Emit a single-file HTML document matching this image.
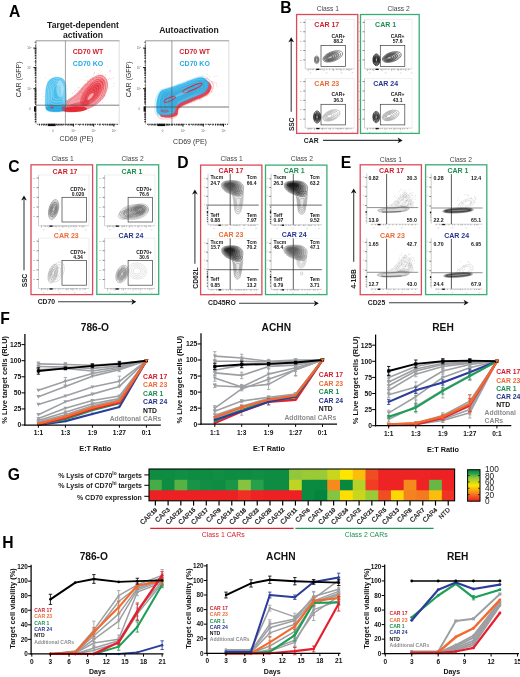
<!DOCTYPE html>
<html lang="en">
<head>
<meta charset="utf-8">
<title>Figure</title>
<style>
html,body{margin:0;padding:0;background:#fff;}
body{width:520px;height:677px;overflow:hidden;}
svg{display:block;font-family:"Liberation Sans",sans-serif;}
</style>
</head>
<body>
<svg width="520" height="677" viewBox="0 0 520 677">
<rect x="0" y="0" width="520" height="677" fill="#ffffff"/>
<g id="panelA">
<text x="14.70" y="17.10" font-size="15.7" font-weight="bold" fill="#000" text-anchor="middle">A</text>
<text x="83.00" y="27.60" font-size="8.6" font-weight="bold" fill="#1a1a1a" text-anchor="middle">Target-dependent</text>
<text x="83.00" y="37.60" font-size="8.6" font-weight="bold" fill="#1a1a1a" text-anchor="middle">activation</text>
<text x="189.00" y="32.60" font-size="8.6" font-weight="bold" fill="#1a1a1a" text-anchor="middle">Autoactivation</text>
<line x1="35.70" y1="40.80" x2="119.50" y2="40.80" stroke="#777" stroke-width="0.75"/>
<line x1="36.00" y1="40.80" x2="36.00" y2="124.40" stroke="#888" stroke-width="0.6"/>
<line x1="119.20" y1="40.80" x2="119.20" y2="124.40" stroke="#bbb" stroke-width="0.5"/>
<rect x="34.00" y="106.40" width="2.2" height="5.2" fill="#111"/>
<path d="M33.40 48.10H36.30M33.40 67.60H36.30M33.40 88.70H36.30" stroke="#111" stroke-width="1.0" fill="none"/>
<path d="M34.60 42.23H36.30M34.60 61.73H36.30M34.60 58.30H36.30M34.60 55.86H36.30M34.60 53.97H36.30M34.60 52.43H36.30M34.60 51.12H36.30M34.60 49.99H36.30M34.60 48.99H36.30M34.60 81.23H36.30M34.60 77.80H36.30M34.60 75.36H36.30M34.60 73.47H36.30M34.60 71.93H36.30M34.60 70.62H36.30M34.60 69.49H36.30M34.60 68.49H36.30M34.60 98.90H36.30M34.60 96.46H36.30M34.60 94.57H36.30M34.60 93.03H36.30M34.60 91.72H36.30M34.60 90.59H36.30M34.60 89.59H36.30M34.60 90.90H36.30M34.60 93.30H36.30M34.60 95.30H36.30M34.60 97.00H36.30M34.60 98.50H36.30M34.60 99.80H36.30M34.60 101.00H36.30M34.60 102.10H36.30M34.60 103.10H36.30M34.60 113.20H36.30M34.60 114.40H36.30M34.60 115.80H36.30M34.60 117.50H36.30M34.60 119.50H36.30M34.60 121.90H36.30" stroke="#111" stroke-width="0.7" fill="none"/>
<rect x="47.70" y="123.70" width="8.0" height="2.4" fill="#111"/>
<path d="M73.40 123.80V126.60M93.70 123.80V126.60M113.90 123.80V126.60" stroke="#111" stroke-width="1.0" fill="none"/>
<path d="M62.84 123.80V125.70M65.36 123.80V125.70M67.32 123.80V125.70M68.92 123.80V125.70M70.27 123.80V125.70M71.44 123.80V125.70M72.48 123.80V125.70M79.58 123.80V125.70M83.14 123.80V125.70M85.66 123.80V125.70M87.62 123.80V125.70M89.22 123.80V125.70M90.57 123.80V125.70M91.74 123.80V125.70M92.78 123.80V125.70M99.78 123.80V125.70M103.34 123.80V125.70M105.86 123.80V125.70M107.82 123.80V125.70M109.42 123.80V125.70M110.77 123.80V125.70M111.94 123.80V125.70M112.98 123.80V125.70M56.90 123.80V125.70M57.90 123.80V125.70M59.00 123.80V125.70M60.30 123.80V125.70M61.90 123.80V125.70M46.30 123.80V125.70M45.10 123.80V125.70M43.60 123.80V125.70M41.70 123.80V125.70M39.30 123.80V125.70" stroke="#111" stroke-width="0.7" fill="none"/>
<line x1="37.50" y1="124.40" x2="118.20" y2="124.40" stroke="#111" stroke-width="1.1" stroke-dasharray="0.7 1.0"/>
<line x1="35.60" y1="44.80" x2="35.60" y2="121.90" stroke="#111" stroke-width="1.1" stroke-dasharray="0.7 1.0"/>
<text x="31.40" y="49.10" font-size="2.8" fill="#666" text-anchor="end">10<tspan font-size="2" dy="-1.2">5</tspan></text>
<text x="31.40" y="68.60" font-size="2.8" fill="#666" text-anchor="end">10<tspan font-size="2" dy="-1.2">4</tspan></text>
<text x="31.40" y="89.70" font-size="2.8" fill="#666" text-anchor="end">10<tspan font-size="2" dy="-1.2">3</tspan></text>
<text x="29.80" y="110.31" font-size="2.8" fill="#666" text-anchor="middle">0</text>
<text x="52.90" y="131.81" font-size="2.8" fill="#666" text-anchor="middle">0</text>
<text x="73.40" y="131.80" font-size="2.8" fill="#666" text-anchor="middle">10<tspan font-size="2" dy="-1.2">3</tspan></text>
<text x="93.70" y="131.80" font-size="2.8" fill="#666" text-anchor="middle">10<tspan font-size="2" dy="-1.2">4</tspan></text>
<text x="113.90" y="131.80" font-size="2.8" fill="#666" text-anchor="middle">10<tspan font-size="2" dy="-1.2">5</tspan></text>
<path d="M93.3 96.7h.01M106.6 82.1h.01M104.1 82.7h.01M90.4 94.3h.01M84.5 105.0h.01M104.6 96.0h.01M77.9 98.4h.01M109.3 78.3h.01M98.7 89.0h.01M92.3 83.1h.01M81.5 92.5h.01M97.2 87.4h.01M83.4 89.3h.01M80.9 96.2h.01M89.8 79.7h.01M76.3 99.5h.01M85.5 85.4h.01M106.8 85.4h.01M102.9 88.7h.01M77.9 90.3h.01M96.5 78.5h.01M78.3 96.8h.01M94.3 73.4h.01M88.4 90.2h.01M72.5 93.4h.01M96.6 98.6h.01M103.8 80.8h.01M98.2 88.2h.01M101.9 87.6h.01M94.4 84.8h.01M72.2 104.7h.01M95.2 80.6h.01M88.8 110.7h.01M99.6 89.1h.01M101.1 95.5h.01M93.5 90.7h.01M88.5 106.9h.01M81.6 88.2h.01M88.6 89.8h.01M86.7 76.8h.01M89.0 100.2h.01M89.2 90.9h.01M98.1 91.7h.01M93.3 89.8h.01M102.4 86.0h.01M96.7 77.4h.01M98.1 95.4h.01M114.3 83.4h.01M84.5 100.8h.01M103.3 85.6h.01M93.0 84.7h.01M101.4 78.1h.01M89.8 92.4h.01M109.1 71.3h.01M97.2 95.5h.01M87.3 80.4h.01M93.0 98.9h.01M110.2 70.9h.01M92.0 78.0h.01M84.3 97.7h.01M101.9 82.7h.01M78.7 87.5h.01M107.8 66.5h.01M91.2 97.7h.01M100.0 91.5h.01M100.8 72.2h.01M80.1 91.6h.01M74.5 91.4h.01M87.4 84.4h.01M89.8 81.3h.01M102.3 78.7h.01M102.7 75.8h.01M101.6 87.5h.01M91.8 83.5h.01M105.2 76.0h.01M87.5 93.9h.01M105.6 74.7h.01M102.3 74.9h.01M92.9 83.3h.01M95.3 97.0h.01M97.5 95.7h.01M98.6 78.5h.01M74.8 99.5h.01M100.5 75.8h.01M90.5 92.1h.01M94.1 90.1h.01M105.5 90.1h.01M81.7 97.5h.01M78.7 99.6h.01M84.2 95.7h.01M87.9 81.4h.01M85.3 80.2h.01M79.2 95.1h.01M82.8 88.2h.01M76.2 109.5h.01M98.1 73.5h.01M71.1 104.2h.01M99.3 88.6h.01M100.9 85.4h.01M75.7 90.2h.01M108.9 88.1h.01M113.6 86.1h.01M104.7 95.5h.01M74.1 110.6h.01M104.4 89.2h.01M92.5 97.0h.01M91.2 89.1h.01M91.4 92.4h.01M82.0 93.3h.01M110.6 70.5h.01M101.0 86.7h.01M90.3 84.6h.01M81.1 111.5h.01M96.9 94.7h.01M79.4 98.0h.01M108.7 79.6h.01M113.3 78.2h.01M91.9 85.2h.01M110.9 79.0h.01M91.9 105.2h.01M95.7 94.1h.01M96.0 92.3h.01M101.0 84.4h.01M95.4 101.7h.01M86.2 96.8h.01M100.2 83.6h.01M85.8 85.2h.01M80.5 104.9h.01M92.2 79.6h.01M93.4 79.3h.01M78.8 88.1h.01M93.4 75.0h.01M88.7 99.3h.01M98.5 88.5h.01M95.9 93.3h.01M94.5 72.6h.01M95.6 95.7h.01M87.4 97.4h.01M102.4 102.8h.01M81.5 98.3h.01" stroke="#e5202e" stroke-width="0.44" stroke-linecap="round" fill="none" opacity="0.6"/>
<path d="M62.50 108.50C62.92 106.95 64.42 103.33 66.00 101.50C67.58 99.67 70.00 99.00 72.00 97.50C74.00 96.00 76.00 94.50 78.00 92.50C80.00 90.50 82.00 87.62 84.00 85.50C86.00 83.38 88.00 81.35 90.00 79.80C92.00 78.25 94.17 76.97 96.00 76.20C97.83 75.43 99.42 74.90 101.00 75.20C102.58 75.50 104.40 76.53 105.50 78.00C106.60 79.47 107.42 81.92 107.60 84.00C107.78 86.08 107.28 88.25 106.60 90.50C105.92 92.75 104.93 95.42 103.50 97.50C102.07 99.58 99.92 101.42 98.00 103.00C96.08 104.58 94.33 105.83 92.00 107.00C89.67 108.17 86.67 109.23 84.00 110.00C81.33 110.77 78.67 111.30 76.00 111.60C73.33 111.90 70.08 111.93 68.00 111.80C65.92 111.67 64.42 111.35 63.50 110.80C62.58 110.25 62.08 110.05 62.50 108.50Z" fill="#e5202e" stroke="#e5202e" stroke-width="0.3" opacity="0.42"/>
<path d="M62.50 108.50C62.92 106.95 64.42 103.33 66.00 101.50C67.58 99.67 70.00 99.00 72.00 97.50C74.00 96.00 76.00 94.50 78.00 92.50C80.00 90.50 82.00 87.62 84.00 85.50C86.00 83.38 88.00 81.35 90.00 79.80C92.00 78.25 94.17 76.97 96.00 76.20C97.83 75.43 99.42 74.90 101.00 75.20C102.58 75.50 104.40 76.53 105.50 78.00C106.60 79.47 107.42 81.92 107.60 84.00C107.78 86.08 107.28 88.25 106.60 90.50C105.92 92.75 104.93 95.42 103.50 97.50C102.07 99.58 99.92 101.42 98.00 103.00C96.08 104.58 94.33 105.83 92.00 107.00C89.67 108.17 86.67 109.23 84.00 110.00C81.33 110.77 78.67 111.30 76.00 111.60C73.33 111.90 70.08 111.93 68.00 111.80C65.92 111.67 64.42 111.35 63.50 110.80C62.58 110.25 62.08 110.05 62.50 108.50Z" fill="none" stroke="#e5202e" stroke-width="0.35" opacity="0.9"/>
<path d="M65.05 107.35C65.42 105.95 66.78 102.70 68.20 101.05C69.62 99.40 71.80 98.80 73.60 97.45C75.40 96.10 77.20 94.75 79.00 92.95C80.80 91.15 82.60 88.56 84.40 86.65C86.20 84.75 88.00 82.91 89.80 81.52C91.60 80.12 93.55 78.97 95.20 78.28C96.85 77.59 98.28 77.11 99.70 77.38C101.12 77.65 102.76 78.58 103.75 79.90C104.74 81.22 105.47 83.42 105.64 85.30C105.81 87.17 105.35 89.12 104.74 91.15C104.12 93.18 103.24 95.58 101.95 97.45C100.66 99.33 98.72 100.98 97.00 102.40C95.28 103.83 93.70 104.95 91.60 106.00C89.50 107.05 86.80 108.01 84.40 108.70C82.00 109.39 79.60 109.87 77.20 110.14C74.80 110.41 71.88 110.44 70.00 110.32C68.12 110.20 66.78 109.92 65.95 109.42C65.12 108.92 64.67 108.74 65.05 107.35Z" fill="none" stroke="#e5202e" stroke-width="0.35" opacity="0.9"/>
<path d="M67.60 106.20C67.93 104.96 69.13 102.07 70.40 100.60C71.67 99.13 73.60 98.60 75.20 97.40C76.80 96.20 78.40 95.00 80.00 93.40C81.60 91.80 83.20 89.49 84.80 87.80C86.40 86.11 88.00 84.48 89.60 83.24C91.20 82.00 92.93 80.97 94.40 80.36C95.87 79.75 97.13 79.32 98.40 79.56C99.67 79.80 101.12 80.63 102.00 81.80C102.88 82.97 103.53 84.93 103.68 86.60C103.83 88.27 103.43 90.00 102.88 91.80C102.33 93.60 101.55 95.73 100.40 97.40C99.25 99.07 97.53 100.53 96.00 101.80C94.47 103.07 93.07 104.07 91.20 105.00C89.33 105.93 86.93 106.79 84.80 107.40C82.67 108.01 80.53 108.44 78.40 108.68C76.27 108.92 73.67 108.95 72.00 108.84C70.33 108.73 69.13 108.48 68.40 108.04C67.67 107.60 67.27 107.44 67.60 106.20Z" fill="none" stroke="#e5202e" stroke-width="0.35" opacity="0.9"/>
<ellipse cx="92.50" cy="92.50" rx="16.50" ry="7.60" transform="rotate(-50 92.50 92.50)" fill="#e5202e" stroke="#e5202e" stroke-width="0.4" opacity="0.55"/>
<ellipse cx="92.30" cy="92.75" rx="14.14" ry="6.51" transform="rotate(-50 92.30 92.75)" fill="none" stroke="#e5202e" stroke-width="0.4" opacity="0.9"/>
<ellipse cx="92.10" cy="93.00" rx="11.79" ry="5.43" transform="rotate(-50 92.10 93.00)" fill="#e5202e" stroke="#e5202e" stroke-width="0.4" opacity="0.55"/>
<ellipse cx="91.90" cy="93.25" rx="9.43" ry="4.34" transform="rotate(-50 91.90 93.25)" fill="none" stroke="#e5202e" stroke-width="0.4" opacity="0.9"/>
<ellipse cx="91.70" cy="93.50" rx="7.07" ry="3.26" transform="rotate(-50 91.70 93.50)" fill="none" stroke="#e5202e" stroke-width="0.4" opacity="0.9"/>
<ellipse cx="91.50" cy="93.75" rx="4.71" ry="2.17" transform="rotate(-50 91.50 93.75)" fill="none" stroke="#e5202e" stroke-width="0.4" opacity="0.9"/>
<ellipse cx="92.50" cy="92.50" rx="15.32" ry="7.06" transform="rotate(-50 92.50 92.50)" fill="none" stroke="#fff" stroke-width="0.3" opacity="0.55"/>
<ellipse cx="92.30" cy="92.75" rx="12.96" ry="5.97" transform="rotate(-50 92.30 92.75)" fill="none" stroke="#fff" stroke-width="0.3" opacity="0.55"/>
<ellipse cx="92.10" cy="93.00" rx="10.61" ry="4.89" transform="rotate(-50 92.10 93.00)" fill="none" stroke="#fff" stroke-width="0.3" opacity="0.55"/>
<ellipse cx="91.90" cy="93.25" rx="8.25" ry="3.80" transform="rotate(-50 91.90 93.25)" fill="none" stroke="#fff" stroke-width="0.3" opacity="0.55"/>
<ellipse cx="91.70" cy="93.50" rx="5.89" ry="2.71" transform="rotate(-50 91.70 93.50)" fill="none" stroke="#fff" stroke-width="0.3" opacity="0.55"/>
<ellipse cx="91.50" cy="93.75" rx="3.54" ry="1.63" transform="rotate(-50 91.50 93.75)" fill="none" stroke="#fff" stroke-width="0.3" opacity="0.55"/>
<path d="M63.78 107.92C64.17 106.45 65.60 103.02 67.10 101.28C68.60 99.53 70.90 98.90 72.80 97.47C74.70 96.05 76.60 94.62 78.50 92.72C80.40 90.82 82.30 88.09 84.20 86.08C86.10 84.06 88.00 82.13 89.90 80.66C91.80 79.19 93.86 77.97 95.60 77.24C97.34 76.51 98.85 76.01 100.35 76.29C101.85 76.58 103.58 77.56 104.62 78.95C105.67 80.34 106.45 82.67 106.62 84.65C106.79 86.63 106.32 88.69 105.67 90.83C105.02 92.96 104.09 95.50 102.72 97.47C101.36 99.45 99.32 101.20 97.50 102.70C95.68 104.20 94.02 105.39 91.80 106.50C89.58 107.61 86.73 108.62 84.20 109.35C81.67 110.08 79.13 110.58 76.60 110.87C74.07 111.15 70.98 111.19 69.00 111.06C67.02 110.93 65.60 110.63 64.72 110.11C63.85 109.59 63.38 109.40 63.78 107.92Z" fill="none" stroke="#fff" stroke-width="0.3" opacity="0.5"/>
<path d="M66.33 106.78C66.68 105.46 67.95 102.38 69.30 100.83C70.65 99.27 72.70 98.70 74.40 97.42C76.10 96.15 77.80 94.88 79.50 93.17C81.20 91.47 82.90 89.02 84.60 87.22C86.30 85.43 88.00 83.70 89.70 82.38C91.40 81.06 93.24 79.97 94.80 79.32C96.36 78.67 97.70 78.22 99.05 78.47C100.40 78.72 101.94 79.60 102.88 80.85C103.81 82.10 104.50 84.18 104.66 85.95C104.82 87.72 104.39 89.56 103.81 91.47C103.23 93.39 102.39 95.65 101.17 97.42C99.96 99.20 98.13 100.75 96.50 102.10C94.87 103.45 93.38 104.51 91.40 105.50C89.42 106.49 86.87 107.40 84.60 108.05C82.33 108.70 80.07 109.16 77.80 109.41C75.53 109.66 72.77 109.69 71.00 109.58C69.23 109.47 67.95 109.20 67.17 108.73C66.40 108.26 65.97 108.09 66.33 106.78Z" fill="none" stroke="#fff" stroke-width="0.3" opacity="0.5"/>
<path d="M68.88 105.62C69.19 104.46 70.31 101.75 71.50 100.38C72.69 99.00 74.50 98.50 76.00 97.38C77.50 96.25 79.00 95.12 80.50 93.62C82.00 92.12 83.50 89.96 85.00 88.38C86.50 86.79 88.00 85.26 89.50 84.10C91.00 82.94 92.62 81.98 94.00 81.40C95.38 80.83 96.56 80.43 97.75 80.65C98.94 80.88 100.30 81.65 101.12 82.75C101.95 83.85 102.56 85.69 102.70 87.25C102.84 88.81 102.46 90.44 101.95 92.12C101.44 93.81 100.70 95.81 99.62 97.38C98.55 98.94 96.94 100.31 95.50 101.50C94.06 102.69 92.75 103.62 91.00 104.50C89.25 105.38 87.00 106.17 85.00 106.75C83.00 107.33 81.00 107.72 79.00 107.95C77.00 108.17 74.56 108.20 73.00 108.10C71.44 108.00 70.31 107.76 69.62 107.35C68.94 106.94 68.56 106.79 68.88 105.62Z" fill="none" stroke="#fff" stroke-width="0.3" opacity="0.5"/>
<ellipse cx="90.50" cy="96.50" rx="4.20" ry="1.60" transform="rotate(-50 90.50 96.50)" fill="#fff" stroke="none" stroke-width="0" opacity="0.55"/>
<ellipse cx="75.00" cy="109.30" rx="12.20" ry="2.70" transform="rotate(-3 75.00 109.30)" fill="#e5202e" stroke="none" stroke-width="0" opacity="0.9"/>
<ellipse cx="78.00" cy="105.50" rx="12.00" ry="3.20" transform="rotate(-14 78.00 105.50)" fill="#e5202e" stroke="none" stroke-width="0" opacity="0.45"/>
<path d="M52.9 102.5h.01M48.8 103.1h.01M57.1 104.3h.01M54.7 99.6h.01M56.6 94.7h.01M56.0 109.0h.01M55.0 76.7h.01M60.1 86.3h.01M60.2 93.2h.01M53.2 90.3h.01M63.4 83.3h.01M56.8 87.2h.01M42.3 93.4h.01M60.1 78.5h.01M51.3 81.0h.01M59.1 95.3h.01M64.1 105.2h.01M47.7 82.0h.01M54.2 94.1h.01M54.9 80.0h.01M53.1 89.3h.01M55.0 98.8h.01M54.2 84.3h.01M63.1 92.0h.01M43.7 96.4h.01M49.0 85.5h.01M59.1 102.7h.01M52.6 104.9h.01M61.4 98.0h.01M51.7 80.4h.01M46.8 92.6h.01M62.4 104.8h.01M64.3 92.0h.01M42.0 99.4h.01M49.7 96.8h.01M60.5 90.9h.01M61.7 107.1h.01M62.5 107.1h.01M61.9 84.6h.01M60.4 87.6h.01M63.4 94.3h.01M53.6 100.4h.01M51.4 106.8h.01M55.0 79.1h.01M65.9 85.4h.01M53.2 105.0h.01M63.9 93.9h.01M50.3 97.6h.01M63.2 103.6h.01M60.1 90.6h.01M50.0 93.4h.01M67.7 88.3h.01M45.5 77.7h.01M47.0 90.0h.01M54.0 79.6h.01M51.8 87.4h.01M58.9 91.0h.01M50.9 103.8h.01M61.6 92.4h.01M52.3 107.2h.01M57.1 99.9h.01M61.3 87.3h.01M65.0 83.4h.01M57.8 99.4h.01M53.2 98.4h.01M54.4 111.2h.01M55.0 82.0h.01M48.1 92.3h.01M62.2 98.7h.01M61.5 104.4h.01" stroke="#27aae1" stroke-width="0.44" stroke-linecap="round" fill="none" opacity="0.6"/>
<path d="M45.40 100.00C45.45 97.17 45.40 92.92 45.80 90.00C46.20 87.08 46.77 84.45 47.80 82.50C48.83 80.55 50.30 79.18 52.00 78.30C53.70 77.42 56.17 77.08 58.00 77.20C59.83 77.32 61.73 77.87 63.00 79.00C64.27 80.13 65.07 81.33 65.60 84.00C66.13 86.67 66.10 91.50 66.20 95.00C66.30 98.50 66.48 102.37 66.20 105.00C65.92 107.63 66.20 109.63 64.50 110.80C62.80 111.97 58.75 111.97 56.00 112.00C53.25 112.03 49.75 111.83 48.00 111.00C46.25 110.17 45.93 108.83 45.50 107.00C45.07 105.17 45.35 102.83 45.40 100.00Z" fill="#2cb5ec" stroke="#2cb5ec" stroke-width="0.3" opacity="0.86"/>
<path d="M46.71 99.00C46.76 96.45 46.71 92.62 47.07 90.00C47.43 87.38 47.94 85.00 48.87 83.25C49.80 81.50 51.12 80.27 52.65 79.47C54.18 78.67 56.40 78.38 58.05 78.48C59.70 78.59 61.41 79.08 62.55 80.10C63.69 81.12 64.41 82.20 64.89 84.60C65.37 87.00 65.34 91.35 65.43 94.50C65.52 97.65 65.69 101.13 65.43 103.50C65.18 105.87 65.43 107.67 63.90 108.72C62.37 109.77 58.73 109.77 56.25 109.80C53.77 109.83 50.62 109.65 49.05 108.90C47.47 108.15 47.19 106.95 46.80 105.30C46.41 103.65 46.66 101.55 46.71 99.00Z" fill="none" stroke="#eefaff" stroke-width="0.4" opacity="0.85"/>
<path d="M48.28 97.80C48.32 95.59 48.28 92.28 48.59 90.00C48.91 87.72 49.35 85.67 50.15 84.15C50.96 82.63 52.10 81.56 53.43 80.87C54.76 80.19 56.68 79.93 58.11 80.02C59.54 80.11 61.02 80.54 62.01 81.42C63.00 82.30 63.62 83.24 64.04 85.32C64.45 87.40 64.43 91.17 64.51 93.90C64.58 96.63 64.73 99.65 64.51 101.70C64.28 103.75 64.51 105.31 63.18 106.22C61.85 107.13 58.69 107.13 56.55 107.16C54.41 107.19 51.68 107.03 50.31 106.38C48.95 105.73 48.70 104.69 48.36 103.26C48.02 101.83 48.24 100.01 48.28 97.80Z" fill="none" stroke="#eefaff" stroke-width="0.4" opacity="0.85"/>
<path d="M49.85 96.60C49.89 94.73 49.85 91.92 50.12 90.00C50.38 88.08 50.76 86.34 51.44 85.05C52.12 83.76 53.09 82.86 54.21 82.28C55.33 81.69 56.96 81.48 58.17 81.55C59.38 81.63 60.63 81.99 61.47 82.74C62.31 83.49 62.83 84.28 63.19 86.04C63.54 87.80 63.52 90.99 63.58 93.30C63.65 95.61 63.77 98.16 63.58 99.90C63.40 101.64 63.58 102.96 62.46 103.73C61.34 104.50 58.66 104.50 56.85 104.52C55.04 104.54 52.73 104.41 51.57 103.86C50.41 103.31 50.21 102.43 49.92 101.22C49.63 100.01 49.82 98.47 49.85 96.60Z" fill="none" stroke="#eefaff" stroke-width="0.4" opacity="0.85"/>
<path d="M51.43 95.40C51.45 93.87 51.43 91.58 51.64 90.00C51.86 88.42 52.16 87.00 52.72 85.95C53.28 84.90 54.07 84.16 54.99 83.68C55.91 83.20 57.24 83.02 58.23 83.09C59.22 83.15 60.25 83.45 60.93 84.06C61.61 84.67 62.05 85.32 62.33 86.76C62.62 88.20 62.60 90.81 62.66 92.70C62.71 94.59 62.81 96.68 62.66 98.10C62.51 99.52 62.66 100.60 61.74 101.23C60.82 101.86 58.63 101.86 57.15 101.88C55.66 101.90 53.77 101.79 52.83 101.34C51.88 100.89 51.71 100.17 51.48 99.18C51.25 98.19 51.40 96.93 51.43 95.40Z" fill="none" stroke="#eefaff" stroke-width="0.4" opacity="0.85"/>
<path d="M53.00 94.20C53.02 93.01 53.00 91.22 53.17 90.00C53.33 88.78 53.57 87.67 54.01 86.85C54.44 86.03 55.06 85.46 55.77 85.09C56.48 84.72 57.52 84.57 58.29 84.62C59.06 84.67 59.86 84.90 60.39 85.38C60.92 85.86 61.26 86.36 61.48 87.48C61.71 88.60 61.69 90.63 61.73 92.10C61.78 93.57 61.85 95.19 61.73 96.30C61.62 97.41 61.73 98.25 61.02 98.74C60.31 99.23 58.61 99.23 57.45 99.24C56.30 99.25 54.83 99.17 54.09 98.82C53.36 98.47 53.22 97.91 53.04 97.14C52.86 96.37 52.98 95.39 53.00 94.20Z" fill="none" stroke="#eefaff" stroke-width="0.4" opacity="0.85"/>
<ellipse cx="60.00" cy="89.00" rx="3.60" ry="8.50" transform="rotate(0 60.00 89.00)" fill="#fff" stroke="none" stroke-width="0" opacity="0.35"/>
<ellipse cx="52.00" cy="107.60" rx="1.70" ry="1.00" transform="rotate(0 52.00 107.60)" fill="#d6336c" stroke="none" stroke-width="0" opacity="0.9"/>
<ellipse cx="55.50" cy="108.30" rx="10.00" ry="3.20" transform="rotate(0 55.50 108.30)" fill="#1fa4dc" stroke="none" stroke-width="0" opacity="0.8"/>
<ellipse cx="52.00" cy="107.60" rx="1.70" ry="1.00" transform="rotate(0 52.00 107.60)" fill="#d6336c" stroke="none" stroke-width="0" opacity="0.9"/>
<ellipse cx="64.50" cy="108.50" rx="3.00" ry="2.60" transform="rotate(0 64.50 108.50)" fill="#e5202e" stroke="none" stroke-width="0" opacity="0.55"/>
<line x1="65.40" y1="40.80" x2="65.40" y2="124.40" stroke="#555" stroke-width="0.55"/>
<line x1="36.00" y1="105.20" x2="119.20" y2="105.20" stroke="#4a4a4a" stroke-width="0.7"/>
<text x="88.00" y="53.52" font-size="7" font-weight="bold" fill="#d01f2e" text-anchor="middle">CD70 WT</text>
<text x="88.00" y="66.02" font-size="7" font-weight="bold" fill="#27aae1" text-anchor="middle">CD70 KO</text>
<text x="18.90" y="81.82" font-size="7" fill="#333" text-anchor="middle" transform="rotate(-90 18.90 79.30)">CAR (GFP)</text>
<text x="76.50" y="141.32" font-size="7" fill="#333" text-anchor="middle">CD69 (PE)</text>
<line x1="145.30" y1="40.80" x2="229.10" y2="40.80" stroke="#777" stroke-width="0.75"/>
<line x1="145.60" y1="40.80" x2="145.60" y2="124.40" stroke="#888" stroke-width="0.6"/>
<line x1="228.80" y1="40.80" x2="228.80" y2="124.40" stroke="#bbb" stroke-width="0.5"/>
<rect x="143.60" y="106.40" width="2.2" height="5.2" fill="#111"/>
<path d="M143.00 48.10H145.90M143.00 67.60H145.90M143.00 88.70H145.90" stroke="#111" stroke-width="1.0" fill="none"/>
<path d="M144.20 42.23H145.90M144.20 61.73H145.90M144.20 58.30H145.90M144.20 55.86H145.90M144.20 53.97H145.90M144.20 52.43H145.90M144.20 51.12H145.90M144.20 49.99H145.90M144.20 48.99H145.90M144.20 81.23H145.90M144.20 77.80H145.90M144.20 75.36H145.90M144.20 73.47H145.90M144.20 71.93H145.90M144.20 70.62H145.90M144.20 69.49H145.90M144.20 68.49H145.90M144.20 98.90H145.90M144.20 96.46H145.90M144.20 94.57H145.90M144.20 93.03H145.90M144.20 91.72H145.90M144.20 90.59H145.90M144.20 89.59H145.90M144.20 90.90H145.90M144.20 93.30H145.90M144.20 95.30H145.90M144.20 97.00H145.90M144.20 98.50H145.90M144.20 99.80H145.90M144.20 101.00H145.90M144.20 102.10H145.90M144.20 103.10H145.90M144.20 113.20H145.90M144.20 114.40H145.90M144.20 115.80H145.90M144.20 117.50H145.90M144.20 119.50H145.90M144.20 121.90H145.90" stroke="#111" stroke-width="0.7" fill="none"/>
<rect x="157.30" y="123.70" width="8.0" height="2.4" fill="#111"/>
<path d="M183.00 123.80V126.60M203.30 123.80V126.60M223.50 123.80V126.60" stroke="#111" stroke-width="1.0" fill="none"/>
<path d="M172.44 123.80V125.70M174.96 123.80V125.70M176.92 123.80V125.70M178.52 123.80V125.70M179.87 123.80V125.70M181.04 123.80V125.70M182.08 123.80V125.70M189.18 123.80V125.70M192.74 123.80V125.70M195.26 123.80V125.70M197.22 123.80V125.70M198.82 123.80V125.70M200.17 123.80V125.70M201.34 123.80V125.70M202.38 123.80V125.70M209.38 123.80V125.70M212.94 123.80V125.70M215.46 123.80V125.70M217.42 123.80V125.70M219.02 123.80V125.70M220.37 123.80V125.70M221.54 123.80V125.70M222.58 123.80V125.70M166.50 123.80V125.70M167.50 123.80V125.70M168.60 123.80V125.70M169.90 123.80V125.70M171.50 123.80V125.70M155.90 123.80V125.70M154.70 123.80V125.70M153.20 123.80V125.70M151.30 123.80V125.70M148.90 123.80V125.70" stroke="#111" stroke-width="0.7" fill="none"/>
<line x1="147.10" y1="124.40" x2="227.80" y2="124.40" stroke="#111" stroke-width="1.1" stroke-dasharray="0.7 1.0"/>
<line x1="145.20" y1="44.80" x2="145.20" y2="121.90" stroke="#111" stroke-width="1.1" stroke-dasharray="0.7 1.0"/>
<text x="141.00" y="49.10" font-size="2.8" fill="#666" text-anchor="end">10<tspan font-size="2" dy="-1.2">5</tspan></text>
<text x="141.00" y="68.60" font-size="2.8" fill="#666" text-anchor="end">10<tspan font-size="2" dy="-1.2">4</tspan></text>
<text x="141.00" y="89.70" font-size="2.8" fill="#666" text-anchor="end">10<tspan font-size="2" dy="-1.2">3</tspan></text>
<text x="139.40" y="110.31" font-size="2.8" fill="#666" text-anchor="middle">0</text>
<text x="162.50" y="131.81" font-size="2.8" fill="#666" text-anchor="middle">0</text>
<text x="183.00" y="131.80" font-size="2.8" fill="#666" text-anchor="middle">10<tspan font-size="2" dy="-1.2">3</tspan></text>
<text x="203.30" y="131.80" font-size="2.8" fill="#666" text-anchor="middle">10<tspan font-size="2" dy="-1.2">4</tspan></text>
<text x="223.50" y="131.80" font-size="2.8" fill="#666" text-anchor="middle">10<tspan font-size="2" dy="-1.2">5</tspan></text>
<path d="M200.5 84.1h.01M199.0 95.6h.01M217.1 75.7h.01M200.4 88.1h.01M206.4 79.7h.01M212.3 81.7h.01M202.6 75.2h.01M197.4 92.5h.01M174.0 99.6h.01M188.4 83.7h.01M184.2 97.8h.01M195.9 83.6h.01M188.1 89.8h.01M199.8 98.0h.01M201.3 89.3h.01M184.3 92.8h.01M194.1 90.3h.01M175.1 103.6h.01M204.1 81.2h.01M201.4 99.5h.01M195.5 91.8h.01M187.8 88.3h.01M183.4 88.0h.01M208.6 85.0h.01M189.3 88.1h.01M192.2 84.8h.01M209.1 81.9h.01M199.8 94.0h.01M194.4 101.6h.01M201.8 91.9h.01M183.5 88.2h.01M188.0 98.0h.01M199.2 90.0h.01M180.2 106.0h.01M187.7 80.7h.01M192.7 96.9h.01M195.0 88.3h.01M188.8 98.1h.01M196.7 90.1h.01M188.4 101.4h.01M204.7 84.5h.01M200.7 78.5h.01M210.5 84.9h.01M203.0 84.1h.01M198.5 87.6h.01M198.8 81.1h.01M202.6 87.4h.01M199.7 99.8h.01M191.2 98.6h.01M185.1 91.2h.01M194.1 95.3h.01M192.1 80.3h.01M198.6 88.1h.01M171.4 104.6h.01M189.4 97.0h.01M178.0 99.6h.01M198.7 78.0h.01M194.9 82.3h.01M192.6 98.8h.01M206.6 87.3h.01M197.0 91.8h.01M180.6 95.3h.01M207.8 77.2h.01M202.6 88.4h.01M190.1 86.4h.01M181.9 102.1h.01M191.1 81.1h.01M211.9 88.5h.01M181.2 94.4h.01M201.0 92.3h.01M211.9 91.1h.01M191.4 100.1h.01M183.9 95.9h.01M182.6 89.1h.01M174.2 103.0h.01M199.0 87.4h.01M206.1 89.0h.01M176.6 94.7h.01M202.7 81.5h.01M195.4 81.2h.01M181.7 92.8h.01M192.3 94.7h.01M199.3 97.8h.01M197.1 90.5h.01M190.6 88.7h.01M205.8 95.0h.01M202.7 87.9h.01M181.4 95.1h.01M208.3 91.6h.01M196.0 97.5h.01M193.1 99.0h.01M177.2 106.1h.01M190.7 96.9h.01M197.0 90.5h.01M181.0 102.3h.01M203.6 81.7h.01M213.6 81.9h.01M201.0 85.5h.01M189.0 98.6h.01M196.0 99.6h.01M211.8 87.7h.01M203.6 85.2h.01M214.5 76.6h.01M216.3 83.1h.01M209.9 77.1h.01M208.2 91.4h.01M179.7 105.1h.01M201.9 91.7h.01M184.5 95.2h.01M201.1 98.9h.01M214.7 82.9h.01M213.1 83.4h.01M180.0 92.9h.01M193.8 98.3h.01M182.1 101.2h.01M193.0 92.2h.01M184.3 96.4h.01M195.7 83.6h.01M190.3 93.4h.01M190.7 94.1h.01M191.3 92.3h.01M216.5 85.0h.01M190.8 92.4h.01M185.7 101.8h.01M207.0 74.5h.01M198.4 83.2h.01M171.0 103.4h.01M212.0 92.3h.01M210.5 85.7h.01M209.5 91.4h.01M197.7 85.1h.01M202.9 84.2h.01M186.1 94.9h.01M202.4 91.8h.01M185.0 87.2h.01M196.1 86.1h.01M183.5 90.3h.01M176.3 96.6h.01M217.3 86.6h.01M184.5 101.6h.01M211.4 81.7h.01M194.5 84.2h.01M194.6 87.8h.01M200.0 99.1h.01M180.2 93.7h.01M199.4 88.3h.01M183.1 91.5h.01M200.6 85.4h.01M194.1 89.9h.01M193.0 94.3h.01" stroke="#e5202e" stroke-width="0.44" stroke-linecap="round" fill="none" opacity="0.6"/>
<path d="M159.20 110.40C159.18 108.10 159.32 104.15 160.00 101.40C160.68 98.65 161.83 95.57 163.30 93.90C164.77 92.23 166.75 92.15 168.80 91.40C170.85 90.65 173.35 90.15 175.60 89.40C177.85 88.65 180.12 87.70 182.30 86.90C184.48 86.10 186.70 85.35 188.70 84.60C190.70 83.85 192.40 83.10 194.30 82.40C196.20 81.70 198.35 80.80 200.10 80.40C201.85 80.00 203.38 79.75 204.80 80.00C206.22 80.25 207.50 80.73 208.60 81.90C209.70 83.07 211.45 85.05 211.40 87.00C211.35 88.95 209.73 91.95 208.30 93.60C206.87 95.25 204.72 95.95 202.80 96.90C200.88 97.85 198.80 98.47 196.80 99.30C194.80 100.13 192.70 101.08 190.80 101.90C188.90 102.72 187.15 103.37 185.40 104.20C183.65 105.03 181.53 105.95 180.30 106.90C179.07 107.85 178.52 108.58 178.00 109.90C177.48 111.22 178.07 113.63 177.20 114.80C176.33 115.97 174.43 116.47 172.80 116.90C171.17 117.33 169.15 117.38 167.40 117.40C165.65 117.42 163.52 117.37 162.30 117.00C161.08 116.63 160.62 116.30 160.10 115.20C159.58 114.10 159.22 112.70 159.20 110.40Z" fill="#e5202e" stroke="#e5202e" stroke-width="0.4" opacity="0.85"/>
<path d="M157.14 111.47C157.12 108.99 157.26 104.72 158.00 101.75C158.74 98.78 159.98 95.45 161.56 93.65C163.15 91.85 165.29 91.76 167.50 90.95C169.72 90.14 172.42 89.60 174.85 88.79C177.28 87.98 179.73 86.96 182.08 86.09C184.44 85.23 186.84 84.42 189.00 83.61C191.16 82.80 192.99 81.99 195.04 81.23C197.10 80.48 199.42 79.50 201.31 79.07C203.20 78.64 204.85 78.37 206.38 78.64C207.91 78.91 209.30 79.43 210.49 80.69C211.68 81.95 213.57 84.09 213.51 86.20C213.46 88.31 211.71 91.55 210.16 93.33C208.62 95.11 206.29 95.87 204.22 96.89C202.15 97.92 199.90 98.58 197.74 99.48C195.58 100.38 193.32 101.41 191.26 102.29C189.21 103.17 187.32 103.88 185.43 104.78C183.54 105.68 181.26 106.67 179.92 107.69C178.59 108.72 178.00 109.51 177.44 110.93C176.88 112.35 177.51 114.96 176.58 116.22C175.64 117.48 173.59 118.02 171.82 118.49C170.06 118.96 167.88 119.01 165.99 119.03C164.10 119.05 161.80 119.00 160.48 118.60C159.17 118.20 158.67 117.84 158.11 116.66C157.55 115.47 157.15 113.96 157.14 111.47Z" fill="none" stroke="#e5202e" stroke-width="0.35" opacity="0.7"/>
<path d="M190.7 100.6h.01M192.8 99.2h.01M200.5 94.0h.01M189.8 95.1h.01M195.0 82.3h.01M184.3 96.2h.01M169.1 99.8h.01M161.9 110.5h.01M187.7 101.9h.01M170.4 100.7h.01M200.5 89.4h.01M164.4 102.0h.01M193.3 98.8h.01M169.6 95.4h.01M182.1 100.7h.01M198.8 80.3h.01M208.3 83.1h.01M165.3 106.6h.01M186.3 97.1h.01M199.5 88.9h.01M171.5 90.5h.01M185.6 102.4h.01M184.8 87.4h.01M168.1 95.4h.01M185.6 93.3h.01M190.9 103.3h.01M180.5 89.1h.01M179.9 102.9h.01M166.5 96.4h.01M202.1 84.6h.01M173.1 90.7h.01M178.2 90.1h.01M190.5 98.9h.01M189.3 90.4h.01M203.3 91.6h.01M186.5 94.9h.01M173.0 91.3h.01M182.2 92.8h.01M171.6 110.3h.01M188.6 90.5h.01M198.5 82.9h.01M186.9 96.5h.01M193.4 81.2h.01M188.8 85.2h.01M191.6 93.5h.01M190.1 97.9h.01M195.1 90.1h.01M178.6 91.5h.01M202.1 83.7h.01M180.5 95.5h.01M167.5 107.1h.01M176.8 91.6h.01M188.1 89.9h.01M184.5 95.1h.01M181.8 87.2h.01M165.4 105.0h.01M193.0 97.3h.01M188.7 86.5h.01M183.8 100.8h.01M175.7 99.3h.01M206.2 89.1h.01M184.7 86.3h.01M171.8 106.2h.01M201.0 90.8h.01M190.6 98.3h.01M166.9 103.7h.01M188.9 100.4h.01M180.3 86.3h.01M179.2 102.0h.01M192.3 82.1h.01M195.6 96.6h.01M175.9 97.2h.01M190.2 88.6h.01M181.0 107.1h.01M190.1 95.3h.01M179.8 103.4h.01M180.3 102.2h.01M181.0 92.1h.01M200.4 91.8h.01M185.8 84.9h.01M192.1 98.0h.01M189.4 97.7h.01M168.2 109.6h.01M165.4 104.4h.01M197.8 94.6h.01M178.5 87.2h.01M164.5 100.6h.01M191.7 102.4h.01M183.0 84.5h.01M172.7 92.6h.01" stroke="#27aae1" stroke-width="0.44" stroke-linecap="round" fill="none" opacity="0.6"/>
<path d="M156.40 108.00C156.38 105.70 156.52 101.75 157.20 99.00C157.88 96.25 159.03 93.17 160.50 91.50C161.97 89.83 163.95 89.75 166.00 89.00C168.05 88.25 170.55 87.75 172.80 87.00C175.05 86.25 177.32 85.30 179.50 84.50C181.68 83.70 183.90 82.95 185.90 82.20C187.90 81.45 189.60 80.70 191.50 80.00C193.40 79.30 195.55 78.40 197.30 78.00C199.05 77.60 200.58 77.35 202.00 77.60C203.42 77.85 204.70 78.33 205.80 79.50C206.90 80.67 208.65 82.65 208.60 84.60C208.55 86.55 206.93 89.55 205.50 91.20C204.07 92.85 201.92 93.55 200.00 94.50C198.08 95.45 196.00 96.07 194.00 96.90C192.00 97.73 189.90 98.68 188.00 99.50C186.10 100.32 184.35 100.97 182.60 101.80C180.85 102.63 178.73 103.55 177.50 104.50C176.27 105.45 175.72 106.18 175.20 107.50C174.68 108.82 175.27 111.23 174.40 112.40C173.53 113.57 171.63 114.07 170.00 114.50C168.37 114.93 166.35 114.98 164.60 115.00C162.85 115.02 160.72 114.97 159.50 114.60C158.28 114.23 157.82 113.90 157.30 112.80C156.78 111.70 156.42 110.30 156.40 108.00Z" fill="#2cb5ec" stroke="#2cb5ec" stroke-width="0.4" opacity="0.93"/>
<path d="M159.06 106.80C159.05 104.73 159.16 101.17 159.78 98.70C160.40 96.23 161.43 93.45 162.75 91.95C164.07 90.45 165.85 90.38 167.70 89.70C169.54 89.03 171.80 88.58 173.82 87.90C175.85 87.23 177.88 86.37 179.85 85.65C181.81 84.93 183.81 84.25 185.61 83.58C187.41 82.91 188.94 82.23 190.65 81.60C192.36 80.97 194.30 80.16 195.87 79.80C197.44 79.44 198.82 79.22 200.10 79.44C201.38 79.66 202.53 80.10 203.52 81.15C204.51 82.20 206.08 83.98 206.04 85.74C206.00 87.49 204.54 90.20 203.25 91.68C201.96 93.17 200.03 93.80 198.30 94.65C196.58 95.51 194.70 96.06 192.90 96.81C191.10 97.56 189.21 98.42 187.50 99.15C185.79 99.89 184.21 100.47 182.64 101.22C181.06 101.97 179.16 102.80 178.05 103.65C176.94 104.51 176.44 105.16 175.98 106.35C175.51 107.53 176.04 109.71 175.26 110.76C174.48 111.81 172.77 112.26 171.30 112.65C169.83 113.04 168.01 113.08 166.44 113.10C164.87 113.11 162.94 113.07 161.85 112.74C160.75 112.41 160.34 112.11 159.87 111.12C159.41 110.13 159.07 108.87 159.06 106.80Z" fill="none" stroke="#dff4fc" stroke-width="0.3" opacity="0.45"/>
<path d="M163.05 105.00C163.04 103.28 163.14 100.31 163.65 98.25C164.16 96.19 165.03 93.88 166.12 92.62C167.22 91.38 168.71 91.31 170.25 90.75C171.79 90.19 173.66 89.81 175.35 89.25C177.04 88.69 178.74 87.97 180.38 87.38C182.01 86.78 183.68 86.21 185.18 85.65C186.68 85.09 187.95 84.53 189.38 84.00C190.80 83.47 192.41 82.80 193.73 82.50C195.04 82.20 196.19 82.01 197.25 82.20C198.31 82.39 199.28 82.75 200.10 83.62C200.93 84.50 202.24 85.99 202.20 87.45C202.16 88.91 200.95 91.16 199.88 92.40C198.80 93.64 197.19 94.16 195.75 94.88C194.31 95.59 192.75 96.05 191.25 96.68C189.75 97.30 188.18 98.01 186.75 98.62C185.32 99.24 184.01 99.72 182.70 100.35C181.39 100.97 179.80 101.66 178.88 102.38C177.95 103.09 177.54 103.64 177.15 104.62C176.76 105.61 177.20 107.43 176.55 108.30C175.90 109.18 174.47 109.55 173.25 109.88C172.03 110.20 170.51 110.24 169.20 110.25C167.89 110.26 166.29 110.22 165.38 109.95C164.46 109.67 164.11 109.42 163.73 108.60C163.34 107.77 163.06 106.72 163.05 105.00Z" fill="none" stroke="#dff4fc" stroke-width="0.3" opacity="0.45"/>
<path d="M167.04 103.20C167.03 101.82 167.11 99.45 167.52 97.80C167.93 96.15 168.62 94.30 169.50 93.30C170.38 92.30 171.57 92.25 172.80 91.80C174.03 91.35 175.53 91.05 176.88 90.60C178.23 90.15 179.59 89.58 180.90 89.10C182.21 88.62 183.54 88.17 184.74 87.72C185.94 87.27 186.96 86.82 188.10 86.40C189.24 85.98 190.53 85.44 191.58 85.20C192.63 84.96 193.55 84.81 194.40 84.96C195.25 85.11 196.02 85.40 196.68 86.10C197.34 86.80 198.39 87.99 198.36 89.16C198.33 90.33 197.36 92.13 196.50 93.12C195.64 94.11 194.35 94.53 193.20 95.10C192.05 95.67 190.80 96.04 189.60 96.54C188.40 97.04 187.14 97.61 186.00 98.10C184.86 98.59 183.81 98.98 182.76 99.48C181.71 99.98 180.44 100.53 179.70 101.10C178.96 101.67 178.63 102.11 178.32 102.90C178.01 103.69 178.36 105.14 177.84 105.84C177.32 106.54 176.18 106.84 175.20 107.10C174.22 107.36 173.01 107.39 171.96 107.40C170.91 107.41 169.63 107.38 168.90 107.16C168.17 106.94 167.89 106.74 167.58 106.08C167.27 105.42 167.05 104.58 167.04 103.20Z" fill="none" stroke="#dff4fc" stroke-width="0.3" opacity="0.45"/>
<path d="M154.86 108.72C154.85 106.28 154.99 102.09 155.71 99.18C156.44 96.27 157.66 93.00 159.21 91.23C160.76 89.46 162.87 89.38 165.04 88.58C167.21 87.78 169.86 87.25 172.25 86.46C174.63 85.66 177.04 84.66 179.35 83.81C181.66 82.96 184.01 82.17 186.13 81.37C188.25 80.58 190.06 79.78 192.07 79.04C194.08 78.30 196.36 77.34 198.22 76.92C200.07 76.50 201.70 76.23 203.20 76.50C204.70 76.76 206.06 77.27 207.23 78.51C208.39 79.75 210.25 81.85 210.20 83.92C210.14 85.98 208.43 89.16 206.91 90.91C205.39 92.66 203.11 93.40 201.08 94.41C199.05 95.42 196.84 96.07 194.72 96.95C192.60 97.84 190.37 98.84 188.36 99.71C186.35 100.58 184.49 101.26 182.64 102.15C180.78 103.03 178.54 104.00 177.23 105.01C175.92 106.02 175.34 106.79 174.79 108.19C174.24 109.59 174.86 112.15 173.94 113.38C173.03 114.62 171.01 115.15 169.28 115.61C167.55 116.07 165.41 116.12 163.56 116.14C161.70 116.16 159.44 116.10 158.15 115.72C156.86 115.33 156.37 114.97 155.82 113.81C155.27 112.64 154.88 111.16 154.86 108.72Z" fill="none" stroke="#27aae1" stroke-width="0.35" opacity="0.7"/>
<ellipse cx="192.40" cy="88.00" rx="10.50" ry="2.00" transform="rotate(-24 192.40 88.00)" fill="none" stroke="#e5202e" stroke-width="1.1" opacity="0.9"/>
<ellipse cx="169.80" cy="99.30" rx="6.20" ry="1.70" transform="rotate(-24 169.80 99.30)" fill="none" stroke="#e5202e" stroke-width="1.0" opacity="0.85"/>
<ellipse cx="164.60" cy="111.00" rx="3.80" ry="1.00" transform="rotate(0 164.60 111.00)" fill="none" stroke="#e5202e" stroke-width="0.7" opacity="0.85"/>
<ellipse cx="181.00" cy="94.00" rx="8.00" ry="1.20" transform="rotate(-24 181.00 94.00)" fill="#fff" stroke="none" stroke-width="0" opacity="0.25"/>
<line x1="171.90" y1="40.80" x2="171.90" y2="124.40" stroke="#555" stroke-width="0.6"/>
<line x1="145.60" y1="107.00" x2="228.80" y2="107.00" stroke="#4a4a4a" stroke-width="0.75"/>
<text x="194.70" y="53.52" font-size="7" font-weight="bold" fill="#d01f2e" text-anchor="middle">CD70 WT</text>
<text x="194.70" y="66.02" font-size="7" font-weight="bold" fill="#27aae1" text-anchor="middle">CD70 KO</text>
<text x="128.80" y="81.82" font-size="7" fill="#333" text-anchor="middle" transform="rotate(-90 128.80 79.30)">CAR (GFP)</text>
<text x="190.00" y="143.82" font-size="7" fill="#333" text-anchor="middle">CD69 (PE)</text>
</g>
<g id="panelB">
<text x="285.80" y="13.10" font-size="15.7" font-weight="bold" fill="#000" text-anchor="middle">B</text>
<text x="327.80" y="10.71" font-size="6.7" fill="#444" text-anchor="middle">Class 1</text>
<text x="398.60" y="10.71" font-size="6.7" fill="#444" text-anchor="middle">Class 2</text>
<rect x="296.60" y="14.50" width="61.20" height="118.90" fill="none" stroke="#dc4a5a" stroke-width="1.3"/>
<rect x="360.50" y="14.50" width="58.70" height="118.90" fill="none" stroke="#3aad74" stroke-width="1.3"/>
<line x1="305.20" y1="19.40" x2="305.20" y2="68.90" stroke="#a0a0a0" stroke-width="0.5"/>
<line x1="305.20" y1="68.90" x2="354.20" y2="68.90" stroke="#a0a0a0" stroke-width="0.45"/>
<line x1="305.20" y1="19.40" x2="354.20" y2="19.40" stroke="#d4d4d4" stroke-width="0.4"/>
<line x1="354.20" y1="19.40" x2="354.20" y2="68.90" stroke="#d4d4d4" stroke-width="0.4"/>
<line x1="303.30" y1="22.40" x2="305.20" y2="22.40" stroke="#333" stroke-width="0.6"/>
<text x="300.80" y="23.12" font-size="2.0" fill="#888" text-anchor="middle">10</text>
<line x1="303.30" y1="31.77" x2="305.20" y2="31.77" stroke="#333" stroke-width="0.6"/>
<text x="300.80" y="32.49" font-size="2.0" fill="#888" text-anchor="middle">10</text>
<line x1="303.30" y1="41.15" x2="305.20" y2="41.15" stroke="#333" stroke-width="0.6"/>
<text x="300.80" y="41.87" font-size="2.0" fill="#888" text-anchor="middle">10</text>
<line x1="303.30" y1="50.53" x2="305.20" y2="50.53" stroke="#333" stroke-width="0.6"/>
<text x="300.80" y="51.25" font-size="2.0" fill="#888" text-anchor="middle">10</text>
<line x1="303.30" y1="59.90" x2="305.20" y2="59.90" stroke="#333" stroke-width="0.6"/>
<text x="300.80" y="60.62" font-size="2.0" fill="#888" text-anchor="middle">10</text>
<path d="M308.20 68.90v2.0M310.20 68.90v1.2M312.20 68.90v1.2M313.40 68.90v1.2M316.20 68.90v2.0M317.70 68.90v1.2M320.50 68.90v1.2M322.00 68.90v1.2M324.00 68.90v2.0M326.80 68.90v1.2M329.60 68.90v1.2M332.40 68.90v1.2M333.60 68.90v2.0M336.40 68.90v1.2M337.90 68.90v1.2M339.90 68.90v1.2M341.10 68.90v2.0M343.90 68.90v1.2M346.70 68.90v1.2M347.90 68.90v1.2M349.10 68.90v2.0M351.10 68.90v1.2" stroke="#444" stroke-width="0.45" fill="none" opacity="0.8"/>
<rect x="316.20" y="68.70" width="3.20" height="1.30" fill="#111" stroke="none" stroke-width="1"/>
<text x="310.20" y="73.55" font-size="1.8" fill="#999" text-anchor="middle" transform="rotate(-45 310.20 72.90)">10</text>
<text x="326.20" y="73.55" font-size="1.8" fill="#999" text-anchor="middle" transform="rotate(-45 326.20 72.90)">10</text>
<text x="341.20" y="73.55" font-size="1.8" fill="#999" text-anchor="middle" transform="rotate(-45 341.20 72.90)">10</text>
<text x="352.20" y="73.55" font-size="1.8" fill="#999" text-anchor="middle" transform="rotate(-45 352.20 72.90)">10</text>
<rect x="321.00" y="45.40" width="24.50" height="21.10" fill="none" stroke="#3c3c3c" stroke-width="0.7"/>
<text x="326.80" y="27.02" font-size="7" font-weight="bold" fill="#d01f2e" text-anchor="middle">CAR 17</text>
<text x="338.30" y="38.10" font-size="5" font-weight="bold" fill="#161616" text-anchor="middle">CAR+</text>
<text x="338.30" y="43.10" font-size="5" font-weight="bold" fill="#161616" text-anchor="middle">88.2</text>
<line x1="364.50" y1="19.40" x2="364.50" y2="68.90" stroke="#a0a0a0" stroke-width="0.5"/>
<line x1="364.50" y1="68.90" x2="412.00" y2="68.90" stroke="#a0a0a0" stroke-width="0.45"/>
<line x1="364.50" y1="19.40" x2="412.00" y2="19.40" stroke="#d4d4d4" stroke-width="0.4"/>
<line x1="412.00" y1="19.40" x2="412.00" y2="68.90" stroke="#d4d4d4" stroke-width="0.4"/>
<line x1="362.60" y1="22.40" x2="364.50" y2="22.40" stroke="#333" stroke-width="0.6"/>
<text x="360.10" y="23.12" font-size="2.0" fill="#888" text-anchor="middle">10</text>
<line x1="362.60" y1="31.77" x2="364.50" y2="31.77" stroke="#333" stroke-width="0.6"/>
<text x="360.10" y="32.49" font-size="2.0" fill="#888" text-anchor="middle">10</text>
<line x1="362.60" y1="41.15" x2="364.50" y2="41.15" stroke="#333" stroke-width="0.6"/>
<text x="360.10" y="41.87" font-size="2.0" fill="#888" text-anchor="middle">10</text>
<line x1="362.60" y1="50.53" x2="364.50" y2="50.53" stroke="#333" stroke-width="0.6"/>
<text x="360.10" y="51.25" font-size="2.0" fill="#888" text-anchor="middle">10</text>
<line x1="362.60" y1="59.90" x2="364.50" y2="59.90" stroke="#333" stroke-width="0.6"/>
<text x="360.10" y="60.62" font-size="2.0" fill="#888" text-anchor="middle">10</text>
<path d="M367.50 68.90v2.0M369.00 68.90v1.2M370.50 68.90v1.2M372.50 68.90v1.2M373.70 68.90v2.0M376.50 68.90v1.2M378.00 68.90v1.2M380.80 68.90v1.2M382.00 68.90v2.0M384.00 68.90v1.2M386.00 68.90v1.2M388.80 68.90v1.2M391.60 68.90v2.0M393.10 68.90v1.2M394.60 68.90v1.2M397.40 68.90v1.2M398.60 68.90v2.0M400.60 68.90v1.2M401.80 68.90v1.2M403.80 68.90v1.2M405.80 68.90v2.0M408.60 68.90v1.2" stroke="#444" stroke-width="0.45" fill="none" opacity="0.8"/>
<rect x="375.50" y="68.70" width="3.20" height="1.30" fill="#111" stroke="none" stroke-width="1"/>
<text x="369.50" y="73.55" font-size="1.8" fill="#999" text-anchor="middle" transform="rotate(-45 369.50 72.90)">10</text>
<text x="385.50" y="73.55" font-size="1.8" fill="#999" text-anchor="middle" transform="rotate(-45 385.50 72.90)">10</text>
<text x="400.50" y="73.55" font-size="1.8" fill="#999" text-anchor="middle" transform="rotate(-45 400.50 72.90)">10</text>
<text x="411.50" y="73.55" font-size="1.8" fill="#999" text-anchor="middle" transform="rotate(-45 411.50 72.90)">10</text>
<rect x="380.30" y="45.40" width="24.50" height="21.10" fill="none" stroke="#3c3c3c" stroke-width="0.7"/>
<text x="385.60" y="27.02" font-size="7" font-weight="bold" fill="#1c8f50" text-anchor="middle">CAR 1</text>
<text x="397.60" y="38.10" font-size="5" font-weight="bold" fill="#161616" text-anchor="middle">CAR+</text>
<text x="397.60" y="43.10" font-size="5" font-weight="bold" fill="#161616" text-anchor="middle">57.6</text>
<line x1="305.20" y1="78.60" x2="305.20" y2="128.10" stroke="#a0a0a0" stroke-width="0.5"/>
<line x1="305.20" y1="128.10" x2="354.20" y2="128.10" stroke="#a0a0a0" stroke-width="0.45"/>
<line x1="305.20" y1="78.60" x2="354.20" y2="78.60" stroke="#d4d4d4" stroke-width="0.4"/>
<line x1="354.20" y1="78.60" x2="354.20" y2="128.10" stroke="#d4d4d4" stroke-width="0.4"/>
<line x1="303.30" y1="81.60" x2="305.20" y2="81.60" stroke="#333" stroke-width="0.6"/>
<text x="300.80" y="82.32" font-size="2.0" fill="#888" text-anchor="middle">10</text>
<line x1="303.30" y1="90.97" x2="305.20" y2="90.97" stroke="#333" stroke-width="0.6"/>
<text x="300.80" y="91.69" font-size="2.0" fill="#888" text-anchor="middle">10</text>
<line x1="303.30" y1="100.35" x2="305.20" y2="100.35" stroke="#333" stroke-width="0.6"/>
<text x="300.80" y="101.07" font-size="2.0" fill="#888" text-anchor="middle">10</text>
<line x1="303.30" y1="109.73" x2="305.20" y2="109.73" stroke="#333" stroke-width="0.6"/>
<text x="300.80" y="110.45" font-size="2.0" fill="#888" text-anchor="middle">10</text>
<line x1="303.30" y1="119.10" x2="305.20" y2="119.10" stroke="#333" stroke-width="0.6"/>
<text x="300.80" y="119.82" font-size="2.0" fill="#888" text-anchor="middle">10</text>
<path d="M308.20 128.10v2.0M309.40 128.10v1.2M310.60 128.10v1.2M311.80 128.10v1.2M314.60 128.10v2.0M317.40 128.10v1.2M319.40 128.10v1.2M321.40 128.10v1.2M322.60 128.10v2.0M324.10 128.10v1.2M326.10 128.10v1.2M328.90 128.10v1.2M330.40 128.10v2.0M333.20 128.10v1.2M336.00 128.10v1.2M337.50 128.10v1.2M339.00 128.10v2.0M340.50 128.10v1.2M341.70 128.10v1.2M343.20 128.10v1.2M346.00 128.10v2.0M347.50 128.10v1.2M349.00 128.10v1.2M351.00 128.10v1.2" stroke="#444" stroke-width="0.45" fill="none" opacity="0.8"/>
<rect x="316.20" y="127.90" width="3.20" height="1.30" fill="#111" stroke="none" stroke-width="1"/>
<text x="310.20" y="132.75" font-size="1.8" fill="#999" text-anchor="middle" transform="rotate(-45 310.20 132.10)">10</text>
<text x="326.20" y="132.75" font-size="1.8" fill="#999" text-anchor="middle" transform="rotate(-45 326.20 132.10)">10</text>
<text x="341.20" y="132.75" font-size="1.8" fill="#999" text-anchor="middle" transform="rotate(-45 341.20 132.10)">10</text>
<text x="352.20" y="132.75" font-size="1.8" fill="#999" text-anchor="middle" transform="rotate(-45 352.20 132.10)">10</text>
<rect x="321.00" y="104.30" width="24.50" height="20.60" fill="none" stroke="#3c3c3c" stroke-width="0.7"/>
<text x="326.80" y="85.92" font-size="7" font-weight="bold" fill="#ee6a36" text-anchor="middle">CAR 23</text>
<text x="338.30" y="96.30" font-size="5" font-weight="bold" fill="#161616" text-anchor="middle">CAR+</text>
<text x="338.30" y="101.70" font-size="5" font-weight="bold" fill="#161616" text-anchor="middle">36.3</text>
<line x1="364.50" y1="78.60" x2="364.50" y2="128.10" stroke="#a0a0a0" stroke-width="0.5"/>
<line x1="364.50" y1="128.10" x2="412.00" y2="128.10" stroke="#a0a0a0" stroke-width="0.45"/>
<line x1="364.50" y1="78.60" x2="412.00" y2="78.60" stroke="#d4d4d4" stroke-width="0.4"/>
<line x1="412.00" y1="78.60" x2="412.00" y2="128.10" stroke="#d4d4d4" stroke-width="0.4"/>
<line x1="362.60" y1="81.60" x2="364.50" y2="81.60" stroke="#333" stroke-width="0.6"/>
<text x="360.10" y="82.32" font-size="2.0" fill="#888" text-anchor="middle">10</text>
<line x1="362.60" y1="90.97" x2="364.50" y2="90.97" stroke="#333" stroke-width="0.6"/>
<text x="360.10" y="91.69" font-size="2.0" fill="#888" text-anchor="middle">10</text>
<line x1="362.60" y1="100.35" x2="364.50" y2="100.35" stroke="#333" stroke-width="0.6"/>
<text x="360.10" y="101.07" font-size="2.0" fill="#888" text-anchor="middle">10</text>
<line x1="362.60" y1="109.73" x2="364.50" y2="109.73" stroke="#333" stroke-width="0.6"/>
<text x="360.10" y="110.45" font-size="2.0" fill="#888" text-anchor="middle">10</text>
<line x1="362.60" y1="119.10" x2="364.50" y2="119.10" stroke="#333" stroke-width="0.6"/>
<text x="360.10" y="119.82" font-size="2.0" fill="#888" text-anchor="middle">10</text>
<path d="M367.50 128.10v2.0M370.30 128.10v1.2M372.30 128.10v1.2M373.80 128.10v1.2M376.60 128.10v2.0M378.60 128.10v1.2M380.10 128.10v1.2M382.10 128.10v1.2M384.90 128.10v2.0M386.90 128.10v1.2M389.70 128.10v1.2M391.20 128.10v1.2M394.00 128.10v2.0M395.20 128.10v1.2M397.20 128.10v1.2M399.20 128.10v1.2M400.70 128.10v2.0M402.70 128.10v1.2M404.70 128.10v1.2M407.50 128.10v1.2" stroke="#444" stroke-width="0.45" fill="none" opacity="0.8"/>
<rect x="375.50" y="127.90" width="3.20" height="1.30" fill="#111" stroke="none" stroke-width="1"/>
<text x="369.50" y="132.75" font-size="1.8" fill="#999" text-anchor="middle" transform="rotate(-45 369.50 132.10)">10</text>
<text x="385.50" y="132.75" font-size="1.8" fill="#999" text-anchor="middle" transform="rotate(-45 385.50 132.10)">10</text>
<text x="400.50" y="132.75" font-size="1.8" fill="#999" text-anchor="middle" transform="rotate(-45 400.50 132.10)">10</text>
<text x="411.50" y="132.75" font-size="1.8" fill="#999" text-anchor="middle" transform="rotate(-45 411.50 132.10)">10</text>
<rect x="380.30" y="104.30" width="24.50" height="20.60" fill="none" stroke="#3c3c3c" stroke-width="0.7"/>
<text x="385.60" y="85.92" font-size="7" font-weight="bold" fill="#26348c" text-anchor="middle">CAR 24</text>
<text x="397.60" y="96.30" font-size="5" font-weight="bold" fill="#161616" text-anchor="middle">CAR+</text>
<text x="397.60" y="101.70" font-size="5" font-weight="bold" fill="#161616" text-anchor="middle">43.1</text>
<ellipse cx="316.70" cy="59.80" rx="2.40" ry="3.90" transform="rotate(0 316.70 59.80)" fill="none" stroke="#323232" stroke-width="0.5"/>
<ellipse cx="316.70" cy="59.80" rx="1.77" ry="2.87" transform="rotate(0 316.70 59.80)" fill="none" stroke="#323232" stroke-width="0.5"/>
<ellipse cx="316.70" cy="59.80" rx="1.14" ry="1.85" transform="rotate(0 316.70 59.80)" fill="none" stroke="#323232" stroke-width="0.5"/>
<ellipse cx="316.70" cy="59.80" rx="1.87" ry="3.04" transform="rotate(0 316.70 59.80)" fill="#323232" stroke="none" stroke-width="0" opacity="0.3"/>
<ellipse cx="332.80" cy="56.40" rx="10.40" ry="4.80" transform="rotate(-20 332.80 56.40)" fill="none" stroke="#262626" stroke-width="0.45"/>
<ellipse cx="332.30" cy="56.58" rx="8.87" ry="4.09" transform="rotate(-20 332.30 56.58)" fill="none" stroke="#262626" stroke-width="0.45"/>
<ellipse cx="331.79" cy="56.77" rx="7.34" ry="3.39" transform="rotate(-20 331.79 56.77)" fill="none" stroke="#262626" stroke-width="0.45"/>
<ellipse cx="331.29" cy="56.95" rx="5.81" ry="2.68" transform="rotate(-20 331.29 56.95)" fill="none" stroke="#262626" stroke-width="0.45"/>
<ellipse cx="330.79" cy="57.13" rx="4.28" ry="1.98" transform="rotate(-20 330.79 57.13)" fill="none" stroke="#262626" stroke-width="0.45"/>
<ellipse cx="330.28" cy="57.32" rx="2.75" ry="1.27" transform="rotate(-20 330.28 57.32)" fill="none" stroke="#262626" stroke-width="0.45"/>
<ellipse cx="331.77" cy="56.77" rx="8.11" ry="3.74" transform="rotate(-20 331.77 56.77)" fill="#262626" stroke="none" stroke-width="0" opacity="0.3"/>
<ellipse cx="376.40" cy="59.80" rx="3.50" ry="5.90" transform="rotate(0 376.40 59.80)" fill="none" stroke="#000000" stroke-width="0.7"/>
<ellipse cx="376.40" cy="59.80" rx="2.90" ry="4.88" transform="rotate(0 376.40 59.80)" fill="none" stroke="#000000" stroke-width="0.7"/>
<ellipse cx="376.40" cy="59.80" rx="2.29" ry="3.87" transform="rotate(0 376.40 59.80)" fill="none" stroke="#000000" stroke-width="0.7"/>
<ellipse cx="376.40" cy="59.80" rx="1.69" ry="2.85" transform="rotate(0 376.40 59.80)" fill="none" stroke="#000000" stroke-width="0.7"/>
<ellipse cx="376.40" cy="59.80" rx="1.09" ry="1.83" transform="rotate(0 376.40 59.80)" fill="none" stroke="#000000" stroke-width="0.7"/>
<ellipse cx="376.40" cy="59.80" rx="2.73" ry="4.60" transform="rotate(0 376.40 59.80)" fill="#000000" stroke="none" stroke-width="0" opacity="0.3"/>
<ellipse cx="391.80" cy="57.00" rx="9.80" ry="4.70" transform="rotate(-18 391.80 57.00)" fill="none" stroke="#141414" stroke-width="0.5"/>
<ellipse cx="391.32" cy="57.16" rx="8.36" ry="4.01" transform="rotate(-18 391.32 57.16)" fill="none" stroke="#141414" stroke-width="0.5"/>
<ellipse cx="390.84" cy="57.31" rx="6.92" ry="3.32" transform="rotate(-18 390.84 57.31)" fill="none" stroke="#141414" stroke-width="0.5"/>
<ellipse cx="390.36" cy="57.47" rx="5.48" ry="2.63" transform="rotate(-18 390.36 57.47)" fill="none" stroke="#141414" stroke-width="0.5"/>
<ellipse cx="389.88" cy="57.62" rx="4.04" ry="1.94" transform="rotate(-18 389.88 57.62)" fill="none" stroke="#141414" stroke-width="0.5"/>
<ellipse cx="389.40" cy="57.78" rx="2.59" ry="1.24" transform="rotate(-18 389.40 57.78)" fill="none" stroke="#141414" stroke-width="0.5"/>
<ellipse cx="390.82" cy="57.32" rx="7.64" ry="3.67" transform="rotate(-18 390.82 57.32)" fill="#141414" stroke="none" stroke-width="0" opacity="0.3"/>
<ellipse cx="317.10" cy="117.00" rx="3.60" ry="6.10" transform="rotate(0 317.10 117.00)" fill="none" stroke="#070707" stroke-width="0.65"/>
<ellipse cx="317.10" cy="117.00" rx="2.98" ry="5.05" transform="rotate(0 317.10 117.00)" fill="none" stroke="#070707" stroke-width="0.65"/>
<ellipse cx="317.10" cy="117.00" rx="2.36" ry="4.00" transform="rotate(0 317.10 117.00)" fill="none" stroke="#070707" stroke-width="0.65"/>
<ellipse cx="317.10" cy="117.00" rx="1.74" ry="2.94" transform="rotate(0 317.10 117.00)" fill="none" stroke="#070707" stroke-width="0.65"/>
<ellipse cx="317.10" cy="117.00" rx="1.12" ry="1.89" transform="rotate(0 317.10 117.00)" fill="none" stroke="#070707" stroke-width="0.65"/>
<ellipse cx="317.10" cy="117.00" rx="2.81" ry="4.76" transform="rotate(0 317.10 117.00)" fill="#070707" stroke="none" stroke-width="0" opacity="0.3"/>
<ellipse cx="331.30" cy="115.40" rx="9.20" ry="4.90" transform="rotate(-22 331.30 115.40)" fill="none" stroke="#666666" stroke-width="0.35"/>
<ellipse cx="330.86" cy="115.58" rx="7.61" ry="4.06" transform="rotate(-22 330.86 115.58)" fill="none" stroke="#666666" stroke-width="0.35"/>
<ellipse cx="330.42" cy="115.76" rx="6.03" ry="3.21" transform="rotate(-22 330.42 115.76)" fill="none" stroke="#666666" stroke-width="0.35"/>
<ellipse cx="329.98" cy="115.93" rx="4.44" ry="2.37" transform="rotate(-22 329.98 115.93)" fill="none" stroke="#666666" stroke-width="0.35"/>
<ellipse cx="329.54" cy="116.11" rx="2.86" ry="1.52" transform="rotate(-22 329.54 116.11)" fill="none" stroke="#666666" stroke-width="0.35"/>
<ellipse cx="376.20" cy="117.00" rx="3.40" ry="5.70" transform="rotate(0 376.20 117.00)" fill="none" stroke="#0c0c0c" stroke-width="0.6"/>
<ellipse cx="376.20" cy="117.00" rx="2.81" ry="4.72" transform="rotate(0 376.20 117.00)" fill="none" stroke="#0c0c0c" stroke-width="0.6"/>
<ellipse cx="376.20" cy="117.00" rx="2.23" ry="3.73" transform="rotate(0 376.20 117.00)" fill="none" stroke="#0c0c0c" stroke-width="0.6"/>
<ellipse cx="376.20" cy="117.00" rx="1.64" ry="2.75" transform="rotate(0 376.20 117.00)" fill="none" stroke="#0c0c0c" stroke-width="0.6"/>
<ellipse cx="376.20" cy="117.00" rx="1.06" ry="1.77" transform="rotate(0 376.20 117.00)" fill="none" stroke="#0c0c0c" stroke-width="0.6"/>
<ellipse cx="376.20" cy="117.00" rx="2.65" ry="4.45" transform="rotate(0 376.20 117.00)" fill="#0c0c0c" stroke="none" stroke-width="0" opacity="0.3"/>
<ellipse cx="390.60" cy="115.40" rx="8.80" ry="4.70" transform="rotate(-20 390.60 115.40)" fill="none" stroke="#515151" stroke-width="0.35"/>
<ellipse cx="390.17" cy="115.56" rx="7.28" ry="3.89" transform="rotate(-20 390.17 115.56)" fill="none" stroke="#515151" stroke-width="0.35"/>
<ellipse cx="389.74" cy="115.71" rx="5.77" ry="3.08" transform="rotate(-20 389.74 115.71)" fill="none" stroke="#515151" stroke-width="0.35"/>
<ellipse cx="389.32" cy="115.87" rx="4.25" ry="2.27" transform="rotate(-20 389.32 115.87)" fill="none" stroke="#515151" stroke-width="0.35"/>
<ellipse cx="388.89" cy="116.02" rx="2.73" ry="1.46" transform="rotate(-20 388.89 116.02)" fill="none" stroke="#515151" stroke-width="0.35"/>
<text x="291.60" y="126.68" font-size="6.6" font-weight="bold" fill="#222" text-anchor="middle" transform="rotate(-90 291.60 124.30)">SSC</text>
<line x1="291.20" y1="111.80" x2="291.20" y2="40.90" stroke="#3c3c3c" stroke-width="1.1"/>
<polygon points="291.20,37.30 294.10,42.30 291.20,40.90 288.30,42.30" fill="#111"/>
<text x="311.20" y="142.95" font-size="6.8" font-weight="bold" fill="#222" text-anchor="middle">CAR</text>
<line x1="323.00" y1="140.40" x2="399.00" y2="140.40" stroke="#3c3c3c" stroke-width="1.1"/>
<polygon points="402.60,140.40 397.60,143.30 399.00,140.40 397.60,137.50" fill="#111"/>
</g>
<g id="panelC">
<text x="13.80" y="171.80" font-size="15.7" font-weight="bold" fill="#000" text-anchor="middle">C</text>
<text x="62.60" y="161.41" font-size="6.7" fill="#444" text-anchor="middle">Class 1</text>
<text x="132.60" y="161.41" font-size="6.7" fill="#444" text-anchor="middle">Class 2</text>
<rect x="31.00" y="164.80" width="61.60" height="129.80" fill="none" stroke="#dc4a5a" stroke-width="1.3"/>
<rect x="96.80" y="164.80" width="61.90" height="129.60" fill="none" stroke="#3aad74" stroke-width="1.3"/>
<line x1="38.50" y1="175.00" x2="38.50" y2="225.70" stroke="#a0a0a0" stroke-width="0.5"/>
<line x1="38.50" y1="225.70" x2="88.90" y2="225.70" stroke="#a0a0a0" stroke-width="0.45"/>
<line x1="38.50" y1="175.00" x2="88.90" y2="175.00" stroke="#d4d4d4" stroke-width="0.4"/>
<line x1="88.90" y1="175.00" x2="88.90" y2="225.70" stroke="#d4d4d4" stroke-width="0.4"/>
<line x1="36.60" y1="178.00" x2="38.50" y2="178.00" stroke="#333" stroke-width="0.6"/>
<text x="34.10" y="178.72" font-size="2.0" fill="#888" text-anchor="middle">10</text>
<line x1="36.60" y1="187.68" x2="38.50" y2="187.68" stroke="#333" stroke-width="0.6"/>
<text x="34.10" y="188.40" font-size="2.0" fill="#888" text-anchor="middle">10</text>
<line x1="36.60" y1="197.35" x2="38.50" y2="197.35" stroke="#333" stroke-width="0.6"/>
<text x="34.10" y="198.07" font-size="2.0" fill="#888" text-anchor="middle">10</text>
<line x1="36.60" y1="207.02" x2="38.50" y2="207.02" stroke="#333" stroke-width="0.6"/>
<text x="34.10" y="207.74" font-size="2.0" fill="#888" text-anchor="middle">10</text>
<line x1="36.60" y1="216.70" x2="38.50" y2="216.70" stroke="#333" stroke-width="0.6"/>
<text x="34.10" y="217.42" font-size="2.0" fill="#888" text-anchor="middle">10</text>
<path d="M41.50 225.70v2.0M44.30 225.70v1.2M45.50 225.70v1.2M47.50 225.70v1.2M49.00 225.70v2.0M51.00 225.70v1.2M53.80 225.70v1.2M55.00 225.70v1.2M56.20 225.70v2.0M58.20 225.70v1.2M59.70 225.70v1.2M61.70 225.70v1.2M62.90 225.70v2.0M64.10 225.70v1.2M65.60 225.70v1.2M66.80 225.70v1.2M68.80 225.70v2.0M70.80 225.70v1.2M72.00 225.70v1.2M73.50 225.70v1.2M75.00 225.70v2.0M76.50 225.70v1.2M79.30 225.70v1.2M81.30 225.70v1.2M82.80 225.70v2.0M84.30 225.70v1.2" stroke="#444" stroke-width="0.45" fill="none" opacity="0.8"/>
<rect x="49.50" y="225.50" width="3.20" height="1.30" fill="#111" stroke="none" stroke-width="1"/>
<text x="43.50" y="230.35" font-size="1.8" fill="#999" text-anchor="middle" transform="rotate(-45 43.50 229.70)">10</text>
<text x="59.50" y="230.35" font-size="1.8" fill="#999" text-anchor="middle" transform="rotate(-45 59.50 229.70)">10</text>
<text x="74.50" y="230.35" font-size="1.8" fill="#999" text-anchor="middle" transform="rotate(-45 74.50 229.70)">10</text>
<text x="85.50" y="230.35" font-size="1.8" fill="#999" text-anchor="middle" transform="rotate(-45 85.50 229.70)">10</text>
<rect x="62.00" y="197.30" width="24.40" height="24.70" fill="none" stroke="#3c3c3c" stroke-width="0.7"/>
<text x="65.00" y="173.92" font-size="7" font-weight="bold" fill="#d01f2e" text-anchor="middle">CAR 17</text>
<text x="78.00" y="190.80" font-size="5" font-weight="bold" fill="#161616" text-anchor="middle">CD70+</text>
<text x="78.00" y="195.70" font-size="5" font-weight="bold" fill="#161616" text-anchor="middle">0.020</text>
<line x1="104.60" y1="175.00" x2="104.60" y2="225.70" stroke="#a0a0a0" stroke-width="0.5"/>
<line x1="104.60" y1="225.70" x2="155.00" y2="225.70" stroke="#a0a0a0" stroke-width="0.45"/>
<line x1="104.60" y1="175.00" x2="155.00" y2="175.00" stroke="#d4d4d4" stroke-width="0.4"/>
<line x1="155.00" y1="175.00" x2="155.00" y2="225.70" stroke="#d4d4d4" stroke-width="0.4"/>
<line x1="102.70" y1="178.00" x2="104.60" y2="178.00" stroke="#333" stroke-width="0.6"/>
<text x="100.20" y="178.72" font-size="2.0" fill="#888" text-anchor="middle">10</text>
<line x1="102.70" y1="187.68" x2="104.60" y2="187.68" stroke="#333" stroke-width="0.6"/>
<text x="100.20" y="188.40" font-size="2.0" fill="#888" text-anchor="middle">10</text>
<line x1="102.70" y1="197.35" x2="104.60" y2="197.35" stroke="#333" stroke-width="0.6"/>
<text x="100.20" y="198.07" font-size="2.0" fill="#888" text-anchor="middle">10</text>
<line x1="102.70" y1="207.02" x2="104.60" y2="207.02" stroke="#333" stroke-width="0.6"/>
<text x="100.20" y="207.74" font-size="2.0" fill="#888" text-anchor="middle">10</text>
<line x1="102.70" y1="216.70" x2="104.60" y2="216.70" stroke="#333" stroke-width="0.6"/>
<text x="100.20" y="217.42" font-size="2.0" fill="#888" text-anchor="middle">10</text>
<path d="M107.60 225.70v2.0M109.10 225.70v1.2M110.30 225.70v1.2M112.30 225.70v1.2M113.80 225.70v2.0M116.60 225.70v1.2M118.10 225.70v1.2M119.30 225.70v1.2M122.10 225.70v2.0M123.30 225.70v1.2M124.50 225.70v1.2M126.50 225.70v1.2M129.30 225.70v2.0M130.80 225.70v1.2M132.30 225.70v1.2M135.10 225.70v1.2M137.90 225.70v2.0M139.10 225.70v1.2M141.90 225.70v1.2M144.70 225.70v1.2M146.20 225.70v2.0M149.00 225.70v1.2M150.50 225.70v1.2" stroke="#444" stroke-width="0.45" fill="none" opacity="0.8"/>
<rect x="115.60" y="225.50" width="3.20" height="1.30" fill="#111" stroke="none" stroke-width="1"/>
<text x="109.60" y="230.35" font-size="1.8" fill="#999" text-anchor="middle" transform="rotate(-45 109.60 229.70)">10</text>
<text x="125.60" y="230.35" font-size="1.8" fill="#999" text-anchor="middle" transform="rotate(-45 125.60 229.70)">10</text>
<text x="140.60" y="230.35" font-size="1.8" fill="#999" text-anchor="middle" transform="rotate(-45 140.60 229.70)">10</text>
<text x="151.60" y="230.35" font-size="1.8" fill="#999" text-anchor="middle" transform="rotate(-45 151.60 229.70)">10</text>
<rect x="128.10" y="197.30" width="24.40" height="24.70" fill="none" stroke="#3c3c3c" stroke-width="0.7"/>
<text x="132.00" y="173.92" font-size="7" font-weight="bold" fill="#1c8f50" text-anchor="middle">CAR 1</text>
<text x="144.10" y="190.80" font-size="5" font-weight="bold" fill="#161616" text-anchor="middle">CD70+</text>
<text x="144.10" y="195.70" font-size="5" font-weight="bold" fill="#161616" text-anchor="middle">76.6</text>
<line x1="38.50" y1="238.20" x2="38.50" y2="288.50" stroke="#a0a0a0" stroke-width="0.5"/>
<line x1="38.50" y1="288.50" x2="88.90" y2="288.50" stroke="#a0a0a0" stroke-width="0.45"/>
<line x1="38.50" y1="238.20" x2="88.90" y2="238.20" stroke="#d4d4d4" stroke-width="0.4"/>
<line x1="88.90" y1="238.20" x2="88.90" y2="288.50" stroke="#d4d4d4" stroke-width="0.4"/>
<line x1="36.60" y1="241.20" x2="38.50" y2="241.20" stroke="#333" stroke-width="0.6"/>
<text x="34.10" y="241.92" font-size="2.0" fill="#888" text-anchor="middle">10</text>
<line x1="36.60" y1="250.77" x2="38.50" y2="250.77" stroke="#333" stroke-width="0.6"/>
<text x="34.10" y="251.49" font-size="2.0" fill="#888" text-anchor="middle">10</text>
<line x1="36.60" y1="260.35" x2="38.50" y2="260.35" stroke="#333" stroke-width="0.6"/>
<text x="34.10" y="261.07" font-size="2.0" fill="#888" text-anchor="middle">10</text>
<line x1="36.60" y1="269.93" x2="38.50" y2="269.93" stroke="#333" stroke-width="0.6"/>
<text x="34.10" y="270.65" font-size="2.0" fill="#888" text-anchor="middle">10</text>
<line x1="36.60" y1="279.50" x2="38.50" y2="279.50" stroke="#333" stroke-width="0.6"/>
<text x="34.10" y="280.22" font-size="2.0" fill="#888" text-anchor="middle">10</text>
<path d="M41.50 288.50v2.0M43.00 288.50v1.2M44.20 288.50v1.2M45.70 288.50v1.2M47.70 288.50v2.0M50.50 288.50v1.2M53.30 288.50v1.2M55.30 288.50v1.2M58.10 288.50v2.0M60.10 288.50v1.2M62.90 288.50v1.2M65.70 288.50v1.2M66.90 288.50v2.0M68.40 288.50v1.2M70.40 288.50v1.2M71.60 288.50v1.2M72.80 288.50v2.0M74.00 288.50v1.2M76.00 288.50v1.2M77.20 288.50v1.2M80.00 288.50v2.0M82.80 288.50v1.2M84.30 288.50v1.2M85.50 288.50v1.2" stroke="#444" stroke-width="0.45" fill="none" opacity="0.8"/>
<rect x="49.50" y="288.30" width="3.20" height="1.30" fill="#111" stroke="none" stroke-width="1"/>
<text x="43.50" y="293.15" font-size="1.8" fill="#999" text-anchor="middle" transform="rotate(-45 43.50 292.50)">10</text>
<text x="59.50" y="293.15" font-size="1.8" fill="#999" text-anchor="middle" transform="rotate(-45 59.50 292.50)">10</text>
<text x="74.50" y="293.15" font-size="1.8" fill="#999" text-anchor="middle" transform="rotate(-45 74.50 292.50)">10</text>
<text x="85.50" y="293.15" font-size="1.8" fill="#999" text-anchor="middle" transform="rotate(-45 85.50 292.50)">10</text>
<rect x="62.00" y="260.50" width="24.40" height="24.70" fill="none" stroke="#3c3c3c" stroke-width="0.7"/>
<text x="66.30" y="237.72" font-size="7" font-weight="bold" fill="#ee6a36" text-anchor="middle">CAR 23</text>
<text x="78.00" y="254.00" font-size="5" font-weight="bold" fill="#161616" text-anchor="middle">CD70+</text>
<text x="78.00" y="258.90" font-size="5" font-weight="bold" fill="#161616" text-anchor="middle">4.34</text>
<line x1="104.60" y1="238.20" x2="104.60" y2="288.50" stroke="#a0a0a0" stroke-width="0.5"/>
<line x1="104.60" y1="288.50" x2="155.00" y2="288.50" stroke="#a0a0a0" stroke-width="0.45"/>
<line x1="104.60" y1="238.20" x2="155.00" y2="238.20" stroke="#d4d4d4" stroke-width="0.4"/>
<line x1="155.00" y1="238.20" x2="155.00" y2="288.50" stroke="#d4d4d4" stroke-width="0.4"/>
<line x1="102.70" y1="241.20" x2="104.60" y2="241.20" stroke="#333" stroke-width="0.6"/>
<text x="100.20" y="241.92" font-size="2.0" fill="#888" text-anchor="middle">10</text>
<line x1="102.70" y1="250.77" x2="104.60" y2="250.77" stroke="#333" stroke-width="0.6"/>
<text x="100.20" y="251.49" font-size="2.0" fill="#888" text-anchor="middle">10</text>
<line x1="102.70" y1="260.35" x2="104.60" y2="260.35" stroke="#333" stroke-width="0.6"/>
<text x="100.20" y="261.07" font-size="2.0" fill="#888" text-anchor="middle">10</text>
<line x1="102.70" y1="269.93" x2="104.60" y2="269.93" stroke="#333" stroke-width="0.6"/>
<text x="100.20" y="270.65" font-size="2.0" fill="#888" text-anchor="middle">10</text>
<line x1="102.70" y1="279.50" x2="104.60" y2="279.50" stroke="#333" stroke-width="0.6"/>
<text x="100.20" y="280.22" font-size="2.0" fill="#888" text-anchor="middle">10</text>
<path d="M107.60 288.50v2.0M110.40 288.50v1.2M111.90 288.50v1.2M113.90 288.50v1.2M115.10 288.50v2.0M117.10 288.50v1.2M119.10 288.50v1.2M121.90 288.50v1.2M123.40 288.50v2.0M125.40 288.50v1.2M128.20 288.50v1.2M130.20 288.50v1.2M133.00 288.50v2.0M135.00 288.50v1.2M136.20 288.50v1.2M138.20 288.50v1.2M140.20 288.50v2.0M142.20 288.50v1.2M145.00 288.50v1.2M147.80 288.50v1.2M149.80 288.50v2.0M151.80 288.50v1.2" stroke="#444" stroke-width="0.45" fill="none" opacity="0.8"/>
<rect x="115.60" y="288.30" width="3.20" height="1.30" fill="#111" stroke="none" stroke-width="1"/>
<text x="109.60" y="293.15" font-size="1.8" fill="#999" text-anchor="middle" transform="rotate(-45 109.60 292.50)">10</text>
<text x="125.60" y="293.15" font-size="1.8" fill="#999" text-anchor="middle" transform="rotate(-45 125.60 292.50)">10</text>
<text x="140.60" y="293.15" font-size="1.8" fill="#999" text-anchor="middle" transform="rotate(-45 140.60 292.50)">10</text>
<text x="151.60" y="293.15" font-size="1.8" fill="#999" text-anchor="middle" transform="rotate(-45 151.60 292.50)">10</text>
<rect x="128.10" y="260.50" width="24.40" height="24.70" fill="none" stroke="#3c3c3c" stroke-width="0.7"/>
<text x="130.90" y="237.72" font-size="7" font-weight="bold" fill="#26348c" text-anchor="middle">CAR 24</text>
<text x="144.10" y="254.00" font-size="5" font-weight="bold" fill="#161616" text-anchor="middle">CD70+</text>
<text x="144.10" y="258.90" font-size="5" font-weight="bold" fill="#161616" text-anchor="middle">30.6</text>
<ellipse cx="53.60" cy="209.50" rx="4.70" ry="10.20" transform="rotate(14 53.60 209.50)" fill="none" stroke="#474747" stroke-width="0.4"/>
<ellipse cx="53.60" cy="209.50" rx="4.01" ry="8.70" transform="rotate(14 53.60 209.50)" fill="none" stroke="#474747" stroke-width="0.4"/>
<ellipse cx="53.60" cy="209.50" rx="3.32" ry="7.20" transform="rotate(14 53.60 209.50)" fill="none" stroke="#474747" stroke-width="0.4"/>
<ellipse cx="53.60" cy="209.50" rx="2.63" ry="5.70" transform="rotate(14 53.60 209.50)" fill="none" stroke="#474747" stroke-width="0.4"/>
<ellipse cx="53.60" cy="209.50" rx="1.94" ry="4.20" transform="rotate(14 53.60 209.50)" fill="none" stroke="#474747" stroke-width="0.4"/>
<ellipse cx="53.60" cy="209.50" rx="1.24" ry="2.70" transform="rotate(14 53.60 209.50)" fill="none" stroke="#474747" stroke-width="0.4"/>
<ellipse cx="53.60" cy="209.50" rx="3.67" ry="7.96" transform="rotate(14 53.60 209.50)" fill="#474747" stroke="none" stroke-width="0" opacity="0.3"/>
<ellipse cx="53.00" cy="273.50" rx="4.40" ry="9.60" transform="rotate(16 53.00 273.50)" fill="none" stroke="#727272" stroke-width="0.35"/>
<ellipse cx="53.00" cy="273.50" rx="3.64" ry="7.94" transform="rotate(16 53.00 273.50)" fill="none" stroke="#727272" stroke-width="0.35"/>
<ellipse cx="53.00" cy="273.50" rx="2.88" ry="6.29" transform="rotate(16 53.00 273.50)" fill="none" stroke="#727272" stroke-width="0.35"/>
<ellipse cx="53.00" cy="273.50" rx="2.12" ry="4.63" transform="rotate(16 53.00 273.50)" fill="none" stroke="#727272" stroke-width="0.35"/>
<ellipse cx="53.00" cy="273.50" rx="1.37" ry="2.98" transform="rotate(16 53.00 273.50)" fill="none" stroke="#727272" stroke-width="0.35"/>
<ellipse cx="57.50" cy="272.00" rx="6.00" ry="10.50" transform="rotate(22 57.50 272.00)" fill="none" stroke="#999999" stroke-width="0.3"/>
<ellipse cx="57.50" cy="272.00" rx="4.42" ry="7.74" transform="rotate(22 57.50 272.00)" fill="none" stroke="#999999" stroke-width="0.3"/>
<ellipse cx="57.50" cy="272.00" rx="2.84" ry="4.97" transform="rotate(22 57.50 272.00)" fill="none" stroke="#999999" stroke-width="0.3"/>
<ellipse cx="134.00" cy="212.00" rx="14.50" ry="7.20" transform="rotate(-8 134.00 212.00)" fill="none" stroke="#4c4c4c" stroke-width="0.32"/>
<ellipse cx="134.00" cy="212.00" rx="12.37" ry="6.14" transform="rotate(-8 134.00 212.00)" fill="none" stroke="#4c4c4c" stroke-width="0.32"/>
<ellipse cx="134.00" cy="212.00" rx="10.24" ry="5.08" transform="rotate(-8 134.00 212.00)" fill="none" stroke="#4c4c4c" stroke-width="0.32"/>
<ellipse cx="134.00" cy="212.00" rx="8.10" ry="4.02" transform="rotate(-8 134.00 212.00)" fill="none" stroke="#4c4c4c" stroke-width="0.32"/>
<ellipse cx="134.00" cy="212.00" rx="5.97" ry="2.96" transform="rotate(-8 134.00 212.00)" fill="none" stroke="#4c4c4c" stroke-width="0.32"/>
<ellipse cx="134.00" cy="212.00" rx="3.84" ry="1.91" transform="rotate(-8 134.00 212.00)" fill="none" stroke="#4c4c4c" stroke-width="0.32"/>
<ellipse cx="134.00" cy="212.00" rx="11.31" ry="5.62" transform="rotate(-8 134.00 212.00)" fill="#4c4c4c" stroke="none" stroke-width="0" opacity="0.3"/>
<ellipse cx="126.00" cy="214.50" rx="8.00" ry="4.50" transform="rotate(-15 126.00 214.50)" fill="none" stroke="#666666" stroke-width="0.3"/>
<ellipse cx="126.00" cy="214.50" rx="6.33" ry="3.56" transform="rotate(-15 126.00 214.50)" fill="none" stroke="#666666" stroke-width="0.3"/>
<ellipse cx="126.00" cy="214.50" rx="4.67" ry="2.62" transform="rotate(-15 126.00 214.50)" fill="none" stroke="#666666" stroke-width="0.3"/>
<ellipse cx="126.00" cy="214.50" rx="3.00" ry="1.69" transform="rotate(-15 126.00 214.50)" fill="none" stroke="#666666" stroke-width="0.3"/>
<ellipse cx="140.00" cy="209.50" rx="8.50" ry="5.50" transform="rotate(-10 140.00 209.50)" fill="none" stroke="#3f3f3f" stroke-width="0.3"/>
<ellipse cx="140.00" cy="209.50" rx="6.73" ry="4.35" transform="rotate(-10 140.00 209.50)" fill="none" stroke="#3f3f3f" stroke-width="0.3"/>
<ellipse cx="140.00" cy="209.50" rx="4.96" ry="3.21" transform="rotate(-10 140.00 209.50)" fill="none" stroke="#3f3f3f" stroke-width="0.3"/>
<ellipse cx="140.00" cy="209.50" rx="3.19" ry="2.06" transform="rotate(-10 140.00 209.50)" fill="none" stroke="#3f3f3f" stroke-width="0.3"/>
<ellipse cx="140.00" cy="209.50" rx="6.63" ry="4.29" transform="rotate(-10 140.00 209.50)" fill="#3f3f3f" stroke="none" stroke-width="0" opacity="0.3"/>
<ellipse cx="122.00" cy="274.00" rx="5.60" ry="9.20" transform="rotate(22 122.00 274.00)" fill="none" stroke="#474747" stroke-width="0.32"/>
<ellipse cx="122.00" cy="274.00" rx="4.78" ry="7.85" transform="rotate(22 122.00 274.00)" fill="none" stroke="#474747" stroke-width="0.32"/>
<ellipse cx="122.00" cy="274.00" rx="3.95" ry="6.49" transform="rotate(22 122.00 274.00)" fill="none" stroke="#474747" stroke-width="0.32"/>
<ellipse cx="122.00" cy="274.00" rx="3.13" ry="5.14" transform="rotate(22 122.00 274.00)" fill="none" stroke="#474747" stroke-width="0.32"/>
<ellipse cx="122.00" cy="274.00" rx="2.31" ry="3.79" transform="rotate(22 122.00 274.00)" fill="none" stroke="#474747" stroke-width="0.32"/>
<ellipse cx="122.00" cy="274.00" rx="1.48" ry="2.44" transform="rotate(22 122.00 274.00)" fill="none" stroke="#474747" stroke-width="0.32"/>
<ellipse cx="122.00" cy="274.00" rx="4.37" ry="7.18" transform="rotate(22 122.00 274.00)" fill="#474747" stroke="none" stroke-width="0" opacity="0.3"/>
<ellipse cx="137.00" cy="271.00" rx="9.50" ry="8.00" transform="rotate(10 137.00 271.00)" fill="none" stroke="#999999" stroke-width="0.25"/>
<ellipse cx="137.00" cy="271.00" rx="7.52" ry="6.33" transform="rotate(10 137.00 271.00)" fill="none" stroke="#999999" stroke-width="0.25"/>
<ellipse cx="137.00" cy="271.00" rx="5.54" ry="4.67" transform="rotate(10 137.00 271.00)" fill="none" stroke="#999999" stroke-width="0.25"/>
<ellipse cx="137.00" cy="271.00" rx="3.56" ry="3.00" transform="rotate(10 137.00 271.00)" fill="none" stroke="#999999" stroke-width="0.25"/>
<text x="24.30" y="282.78" font-size="6.6" font-weight="bold" fill="#222" text-anchor="middle" transform="rotate(-90 24.30 280.40)">SSC</text>
<line x1="24.00" y1="270.20" x2="24.00" y2="199.10" stroke="#3c3c3c" stroke-width="1.1"/>
<polygon points="24.00,195.50 26.90,200.50 24.00,199.10 21.10,200.50" fill="#111"/>
<text x="46.40" y="303.85" font-size="6.8" font-weight="bold" fill="#222" text-anchor="middle">CD70</text>
<line x1="58.00" y1="301.80" x2="132.70" y2="301.80" stroke="#3c3c3c" stroke-width="1.1"/>
<polygon points="136.30,301.80 131.30,304.70 132.70,301.80 131.30,298.90" fill="#111"/>
</g>
<g id="panelD">
<text x="182.90" y="168.30" font-size="15.7" font-weight="bold" fill="#000" text-anchor="middle">D</text>
<text x="231.70" y="161.41" font-size="6.7" fill="#444" text-anchor="middle">Class 1</text>
<text x="301.80" y="161.41" font-size="6.7" fill="#444" text-anchor="middle">Class 2</text>
<rect x="200.60" y="165.10" width="61.30" height="129.60" fill="none" stroke="#dc4a5a" stroke-width="1.3"/>
<rect x="265.50" y="165.10" width="61.40" height="129.50" fill="none" stroke="#3aad74" stroke-width="1.3"/>
<line x1="208.00" y1="173.80" x2="208.00" y2="224.80" stroke="#999" stroke-width="0.5"/>
<line x1="208.00" y1="224.80" x2="258.80" y2="224.80" stroke="#999" stroke-width="0.45"/>
<line x1="208.00" y1="173.80" x2="258.80" y2="173.80" stroke="#e0e0e0" stroke-width="0.3"/>
<line x1="206.10" y1="178.80" x2="208.00" y2="178.80" stroke="#333" stroke-width="0.6"/>
<text x="204.40" y="178.65" font-size="1.8" fill="#999" text-anchor="middle" transform="rotate(-45 204.40 178.00)">10</text>
<line x1="206.10" y1="187.57" x2="208.00" y2="187.57" stroke="#333" stroke-width="0.6"/>
<text x="204.40" y="187.41" font-size="1.8" fill="#999" text-anchor="middle" transform="rotate(-45 204.40 186.77)">10</text>
<line x1="206.10" y1="196.33" x2="208.00" y2="196.33" stroke="#333" stroke-width="0.6"/>
<text x="204.40" y="196.18" font-size="1.8" fill="#999" text-anchor="middle" transform="rotate(-45 204.40 195.53)">10</text>
<line x1="206.10" y1="205.10" x2="208.00" y2="205.10" stroke="#333" stroke-width="0.6"/>
<text x="204.40" y="204.95" font-size="1.8" fill="#999" text-anchor="middle" transform="rotate(-45 204.40 204.30)">10</text>
<path d="M206.80 207.10h1.2M206.80 208.70h1.2M206.80 211.70h1.2M206.80 213.90h1.2M206.80 215.50h1.2M206.80 217.70h1.2M206.80 219.30h1.2M206.80 221.50h1.2" stroke="#111" stroke-width="0.7" fill="none"/>
<rect x="206.80" y="211.30" width="1.30" height="1.60" fill="#111" stroke="none" stroke-width="1"/>
<path d="M211.00 224.80v1.2M213.80 224.80v1.2M215.80 224.80v1.2M217.20 224.80v1.2M218.60 224.80v1.2M222.20 224.80v1.2M225.80 224.80v1.2M227.20 224.80v1.2M230.80 224.80v1.2M233.60 224.80v1.2M235.00 224.80v1.2M236.40 224.80v1.2M237.80 224.80v1.2M239.80 224.80v1.2M243.40 224.80v1.2M244.80 224.80v1.2M248.40 224.80v1.2M250.40 224.80v1.2M251.80 224.80v1.2M253.80 224.80v1.2M255.20 224.80v1.2" stroke="#444" stroke-width="0.45" fill="none" opacity="0.8"/>
<rect x="218.50" y="224.60" width="2.40" height="1.30" fill="#111" stroke="none" stroke-width="1"/>
<text x="214.00" y="229.05" font-size="1.8" fill="#999" text-anchor="middle" transform="rotate(-45 214.00 228.40)">10</text>
<text x="230.00" y="229.05" font-size="1.8" fill="#999" text-anchor="middle" transform="rotate(-45 230.00 228.40)">10</text>
<text x="244.00" y="229.05" font-size="1.8" fill="#999" text-anchor="middle" transform="rotate(-45 244.00 228.40)">10</text>
<text x="256.00" y="229.05" font-size="1.8" fill="#999" text-anchor="middle" transform="rotate(-45 256.00 228.40)">10</text>
<line x1="230.20" y1="173.80" x2="230.20" y2="224.80" stroke="#2a2a2a" stroke-width="0.75"/>
<line x1="208.00" y1="205.10" x2="258.80" y2="205.10" stroke="#3a3a3a" stroke-width="0.75"/>
<text x="230.90" y="173.32" font-size="7" font-weight="bold" fill="#d01f2e" text-anchor="middle">CAR 17</text>
<text x="210.40" y="179.40" font-size="5" font-weight="bold" fill="#161616" text-anchor="start">Tscm</text>
<text x="210.40" y="184.70" font-size="5" font-weight="bold" fill="#161616" text-anchor="start">24.7</text>
<text x="246.80" y="179.40" font-size="5" font-weight="bold" fill="#161616" text-anchor="start">Tcm</text>
<text x="246.80" y="184.70" font-size="5" font-weight="bold" fill="#161616" text-anchor="start">66.4</text>
<text x="210.40" y="216.70" font-size="5" font-weight="bold" fill="#161616" text-anchor="start">Teff</text>
<text x="210.40" y="222.00" font-size="5" font-weight="bold" fill="#161616" text-anchor="start">0.88</text>
<text x="246.80" y="216.70" font-size="5" font-weight="bold" fill="#161616" text-anchor="start">Tem</text>
<text x="246.80" y="222.00" font-size="5" font-weight="bold" fill="#161616" text-anchor="start">7.97</text>
<line x1="271.10" y1="173.80" x2="271.10" y2="224.80" stroke="#999" stroke-width="0.5"/>
<line x1="271.10" y1="224.80" x2="321.90" y2="224.80" stroke="#999" stroke-width="0.45"/>
<line x1="271.10" y1="173.80" x2="321.90" y2="173.80" stroke="#e0e0e0" stroke-width="0.3"/>
<line x1="269.20" y1="178.80" x2="271.10" y2="178.80" stroke="#333" stroke-width="0.6"/>
<text x="267.50" y="178.65" font-size="1.8" fill="#999" text-anchor="middle" transform="rotate(-45 267.50 178.00)">10</text>
<line x1="269.20" y1="187.57" x2="271.10" y2="187.57" stroke="#333" stroke-width="0.6"/>
<text x="267.50" y="187.41" font-size="1.8" fill="#999" text-anchor="middle" transform="rotate(-45 267.50 186.77)">10</text>
<line x1="269.20" y1="196.33" x2="271.10" y2="196.33" stroke="#333" stroke-width="0.6"/>
<text x="267.50" y="196.18" font-size="1.8" fill="#999" text-anchor="middle" transform="rotate(-45 267.50 195.53)">10</text>
<line x1="269.20" y1="205.10" x2="271.10" y2="205.10" stroke="#333" stroke-width="0.6"/>
<text x="267.50" y="204.95" font-size="1.8" fill="#999" text-anchor="middle" transform="rotate(-45 267.50 204.30)">10</text>
<path d="M269.90 207.10h1.2M269.90 210.10h1.2M269.90 211.70h1.2M269.90 213.30h1.2M269.90 216.30h1.2M269.90 217.90h1.2M269.90 219.50h1.2M269.90 221.70h1.2M269.90 223.30h1.2" stroke="#111" stroke-width="0.7" fill="none"/>
<rect x="269.90" y="211.30" width="1.30" height="1.60" fill="#111" stroke="none" stroke-width="1"/>
<path d="M274.10 224.80v1.2M275.50 224.80v1.2M278.30 224.80v1.2M280.30 224.80v1.2M283.10 224.80v1.2M285.90 224.80v1.2M288.70 224.80v1.2M290.70 224.80v1.2M294.30 224.80v1.2M295.70 224.80v1.2M298.50 224.80v1.2M299.90 224.80v1.2M303.50 224.80v1.2M304.90 224.80v1.2M308.50 224.80v1.2M309.90 224.80v1.2M311.30 224.80v1.2M314.90 224.80v1.2M318.50 224.80v1.2" stroke="#444" stroke-width="0.45" fill="none" opacity="0.8"/>
<rect x="281.60" y="224.60" width="2.40" height="1.30" fill="#111" stroke="none" stroke-width="1"/>
<text x="277.10" y="229.05" font-size="1.8" fill="#999" text-anchor="middle" transform="rotate(-45 277.10 228.40)">10</text>
<text x="293.10" y="229.05" font-size="1.8" fill="#999" text-anchor="middle" transform="rotate(-45 293.10 228.40)">10</text>
<text x="307.10" y="229.05" font-size="1.8" fill="#999" text-anchor="middle" transform="rotate(-45 307.10 228.40)">10</text>
<text x="319.10" y="229.05" font-size="1.8" fill="#999" text-anchor="middle" transform="rotate(-45 319.10 228.40)">10</text>
<line x1="293.30" y1="173.80" x2="293.30" y2="224.80" stroke="#2a2a2a" stroke-width="0.75"/>
<line x1="271.10" y1="205.10" x2="321.90" y2="205.10" stroke="#3a3a3a" stroke-width="0.75"/>
<text x="294.20" y="173.32" font-size="7" font-weight="bold" fill="#1c8f50" text-anchor="middle">CAR 1</text>
<text x="273.50" y="179.40" font-size="5" font-weight="bold" fill="#161616" text-anchor="start">Tscm</text>
<text x="273.50" y="184.70" font-size="5" font-weight="bold" fill="#161616" text-anchor="start">26.3</text>
<text x="309.90" y="179.40" font-size="5" font-weight="bold" fill="#161616" text-anchor="start">Tcm</text>
<text x="309.90" y="184.70" font-size="5" font-weight="bold" fill="#161616" text-anchor="start">63.2</text>
<text x="273.50" y="216.70" font-size="5" font-weight="bold" fill="#161616" text-anchor="start">Teff</text>
<text x="273.50" y="222.00" font-size="5" font-weight="bold" fill="#161616" text-anchor="start">0.97</text>
<text x="309.90" y="216.70" font-size="5" font-weight="bold" fill="#161616" text-anchor="start">Tem</text>
<text x="309.90" y="222.00" font-size="5" font-weight="bold" fill="#161616" text-anchor="start">9.52</text>
<line x1="208.00" y1="238.40" x2="208.00" y2="289.40" stroke="#999" stroke-width="0.5"/>
<line x1="208.00" y1="289.40" x2="258.80" y2="289.40" stroke="#999" stroke-width="0.45"/>
<line x1="208.00" y1="238.40" x2="258.80" y2="238.40" stroke="#e0e0e0" stroke-width="0.3"/>
<line x1="206.10" y1="243.40" x2="208.00" y2="243.40" stroke="#333" stroke-width="0.6"/>
<text x="204.40" y="243.25" font-size="1.8" fill="#999" text-anchor="middle" transform="rotate(-45 204.40 242.60)">10</text>
<line x1="206.10" y1="252.17" x2="208.00" y2="252.17" stroke="#333" stroke-width="0.6"/>
<text x="204.40" y="252.01" font-size="1.8" fill="#999" text-anchor="middle" transform="rotate(-45 204.40 251.37)">10</text>
<line x1="206.10" y1="260.93" x2="208.00" y2="260.93" stroke="#333" stroke-width="0.6"/>
<text x="204.40" y="260.78" font-size="1.8" fill="#999" text-anchor="middle" transform="rotate(-45 204.40 260.13)">10</text>
<line x1="206.10" y1="269.70" x2="208.00" y2="269.70" stroke="#333" stroke-width="0.6"/>
<text x="204.40" y="269.55" font-size="1.8" fill="#999" text-anchor="middle" transform="rotate(-45 204.40 268.90)">10</text>
<path d="M206.80 271.70h1.2M206.80 273.30h1.2M206.80 274.90h1.2M206.80 277.90h1.2M206.80 280.10h1.2M206.80 283.10h1.2M206.80 286.10h1.2" stroke="#111" stroke-width="0.7" fill="none"/>
<rect x="206.80" y="275.90" width="1.30" height="1.60" fill="#111" stroke="none" stroke-width="1"/>
<path d="M211.00 289.40v1.2M213.00 289.40v1.2M216.60 289.40v1.2M220.20 289.40v1.2M221.60 289.40v1.2M223.00 289.40v1.2M226.60 289.40v1.2M228.60 289.40v1.2M230.60 289.40v1.2M232.00 289.40v1.2M235.60 289.40v1.2M237.00 289.40v1.2M238.40 289.40v1.2M239.80 289.40v1.2M241.20 289.40v1.2M243.20 289.40v1.2M244.60 289.40v1.2M246.60 289.40v1.2M250.20 289.40v1.2M251.60 289.40v1.2M254.40 289.40v1.2M256.40 289.40v1.2" stroke="#444" stroke-width="0.45" fill="none" opacity="0.8"/>
<rect x="218.50" y="289.20" width="2.40" height="1.30" fill="#111" stroke="none" stroke-width="1"/>
<text x="214.00" y="293.65" font-size="1.8" fill="#999" text-anchor="middle" transform="rotate(-45 214.00 293.00)">10</text>
<text x="230.00" y="293.65" font-size="1.8" fill="#999" text-anchor="middle" transform="rotate(-45 230.00 293.00)">10</text>
<text x="244.00" y="293.65" font-size="1.8" fill="#999" text-anchor="middle" transform="rotate(-45 244.00 293.00)">10</text>
<text x="256.00" y="293.65" font-size="1.8" fill="#999" text-anchor="middle" transform="rotate(-45 256.00 293.00)">10</text>
<line x1="230.20" y1="238.40" x2="230.20" y2="289.40" stroke="#2a2a2a" stroke-width="0.75"/>
<line x1="208.00" y1="269.70" x2="258.80" y2="269.70" stroke="#3a3a3a" stroke-width="0.75"/>
<text x="230.90" y="236.92" font-size="7" font-weight="bold" fill="#ee6a36" text-anchor="middle">CAR 23</text>
<text x="210.40" y="244.00" font-size="5" font-weight="bold" fill="#161616" text-anchor="start">Tscm</text>
<text x="210.40" y="249.30" font-size="5" font-weight="bold" fill="#161616" text-anchor="start">15.7</text>
<text x="246.80" y="244.00" font-size="5" font-weight="bold" fill="#161616" text-anchor="start">Tcm</text>
<text x="246.80" y="249.30" font-size="5" font-weight="bold" fill="#161616" text-anchor="start">70.2</text>
<text x="210.40" y="281.30" font-size="5" font-weight="bold" fill="#161616" text-anchor="start">Teff</text>
<text x="210.40" y="286.60" font-size="5" font-weight="bold" fill="#161616" text-anchor="start">0.85</text>
<text x="246.80" y="281.30" font-size="5" font-weight="bold" fill="#161616" text-anchor="start">Tem</text>
<text x="246.80" y="286.60" font-size="5" font-weight="bold" fill="#161616" text-anchor="start">13.2</text>
<line x1="271.10" y1="238.40" x2="271.10" y2="289.40" stroke="#999" stroke-width="0.5"/>
<line x1="271.10" y1="289.40" x2="321.90" y2="289.40" stroke="#999" stroke-width="0.45"/>
<line x1="271.10" y1="238.40" x2="321.90" y2="238.40" stroke="#e0e0e0" stroke-width="0.3"/>
<line x1="269.20" y1="243.40" x2="271.10" y2="243.40" stroke="#333" stroke-width="0.6"/>
<text x="267.50" y="243.25" font-size="1.8" fill="#999" text-anchor="middle" transform="rotate(-45 267.50 242.60)">10</text>
<line x1="269.20" y1="252.17" x2="271.10" y2="252.17" stroke="#333" stroke-width="0.6"/>
<text x="267.50" y="252.01" font-size="1.8" fill="#999" text-anchor="middle" transform="rotate(-45 267.50 251.37)">10</text>
<line x1="269.20" y1="260.93" x2="271.10" y2="260.93" stroke="#333" stroke-width="0.6"/>
<text x="267.50" y="260.78" font-size="1.8" fill="#999" text-anchor="middle" transform="rotate(-45 267.50 260.13)">10</text>
<line x1="269.20" y1="269.70" x2="271.10" y2="269.70" stroke="#333" stroke-width="0.6"/>
<text x="267.50" y="269.55" font-size="1.8" fill="#999" text-anchor="middle" transform="rotate(-45 267.50 268.90)">10</text>
<path d="M269.90 271.70h1.2M269.90 274.70h1.2M269.90 277.70h1.2M269.90 279.30h1.2M269.90 280.90h1.2M269.90 283.10h1.2M269.90 286.10h1.2" stroke="#111" stroke-width="0.7" fill="none"/>
<rect x="269.90" y="275.90" width="1.30" height="1.60" fill="#111" stroke="none" stroke-width="1"/>
<path d="M274.10 289.40v1.2M276.10 289.40v1.2M277.50 289.40v1.2M280.30 289.40v1.2M283.90 289.40v1.2M287.50 289.40v1.2M290.30 289.40v1.2M291.70 289.40v1.2M293.10 289.40v1.2M294.50 289.40v1.2M295.90 289.40v1.2M297.30 289.40v1.2M298.70 289.40v1.2M302.30 289.40v1.2M305.10 289.40v1.2M307.90 289.40v1.2M309.90 289.40v1.2M313.50 289.40v1.2M314.90 289.40v1.2M317.70 289.40v1.2" stroke="#444" stroke-width="0.45" fill="none" opacity="0.8"/>
<rect x="281.60" y="289.20" width="2.40" height="1.30" fill="#111" stroke="none" stroke-width="1"/>
<text x="277.10" y="293.65" font-size="1.8" fill="#999" text-anchor="middle" transform="rotate(-45 277.10 293.00)">10</text>
<text x="293.10" y="293.65" font-size="1.8" fill="#999" text-anchor="middle" transform="rotate(-45 293.10 293.00)">10</text>
<text x="307.10" y="293.65" font-size="1.8" fill="#999" text-anchor="middle" transform="rotate(-45 307.10 293.00)">10</text>
<text x="319.10" y="293.65" font-size="1.8" fill="#999" text-anchor="middle" transform="rotate(-45 319.10 293.00)">10</text>
<line x1="293.30" y1="238.40" x2="293.30" y2="289.40" stroke="#2a2a2a" stroke-width="0.75"/>
<line x1="271.10" y1="269.70" x2="321.90" y2="269.70" stroke="#3a3a3a" stroke-width="0.75"/>
<text x="294.20" y="236.92" font-size="7" font-weight="bold" fill="#26348c" text-anchor="middle">CAR 24</text>
<text x="273.50" y="244.00" font-size="5" font-weight="bold" fill="#161616" text-anchor="start">Tscm</text>
<text x="273.50" y="249.30" font-size="5" font-weight="bold" fill="#161616" text-anchor="start">48.4</text>
<text x="309.90" y="244.00" font-size="5" font-weight="bold" fill="#161616" text-anchor="start">Tcm</text>
<text x="309.90" y="249.30" font-size="5" font-weight="bold" fill="#161616" text-anchor="start">47.1</text>
<text x="273.50" y="281.30" font-size="5" font-weight="bold" fill="#161616" text-anchor="start">Teff</text>
<text x="273.50" y="286.60" font-size="5" font-weight="bold" fill="#161616" text-anchor="start">0.79</text>
<text x="309.90" y="281.30" font-size="5" font-weight="bold" fill="#161616" text-anchor="start">Tem</text>
<text x="309.90" y="286.60" font-size="5" font-weight="bold" fill="#161616" text-anchor="start">3.71</text>
<path d="M232.96 193.00C234.47 191.67 240.83 190.00 242.52 191.00C244.21 192.00 243.16 196.50 243.10 199.00C243.03 201.50 242.55 203.83 242.14 206.00C241.72 208.17 241.31 210.67 240.61 212.00C239.91 213.33 238.82 214.00 237.93 214.00C237.04 214.00 235.89 213.33 235.25 212.00C234.61 210.67 234.41 208.17 234.10 206.00C233.80 203.83 233.63 201.17 233.43 199.00C233.24 196.83 231.44 194.33 232.96 193.00Z" fill="#3f3f3f" stroke="none" stroke-width="0" opacity="0.1"/>
<path d="M232.96 193.00C234.47 191.67 240.83 190.00 242.52 191.00C244.21 192.00 243.16 196.50 243.10 199.00C243.03 201.50 242.55 203.83 242.14 206.00C241.72 208.17 241.31 210.67 240.61 212.00C239.91 213.33 238.82 214.00 237.93 214.00C237.04 214.00 235.89 213.33 235.25 212.00C234.61 210.67 234.41 208.17 234.10 206.00C233.80 203.83 233.63 201.17 233.43 199.00C233.24 196.83 231.44 194.33 232.96 193.00Z" fill="none" stroke="#3f3f3f" stroke-width="0.3" opacity="0.75"/>
<path d="M234.01 195.00C235.22 193.93 240.31 192.60 241.66 193.40C243.01 194.20 242.17 197.80 242.12 199.80C242.07 201.80 241.69 203.67 241.35 205.40C241.02 207.13 240.69 209.13 240.13 210.20C239.57 211.27 238.70 211.80 237.99 211.80C237.27 211.80 236.36 211.27 235.85 210.20C235.34 209.13 235.17 207.13 234.93 205.40C234.68 203.67 234.54 201.53 234.39 199.80C234.24 198.07 232.80 196.07 234.01 195.00Z" fill="none" stroke="#3f3f3f" stroke-width="0.3" opacity="0.75"/>
<path d="M235.06 197.00C235.97 196.20 239.79 195.20 240.80 195.80C241.81 196.40 241.18 199.10 241.14 200.60C241.11 202.10 240.82 203.50 240.57 204.80C240.32 206.10 240.07 207.60 239.65 208.40C239.23 209.20 238.58 209.60 238.05 209.60C237.51 209.60 236.82 209.20 236.44 208.40C236.06 207.60 235.93 206.10 235.75 204.80C235.57 203.50 235.46 201.90 235.35 200.60C235.23 199.30 234.15 197.80 235.06 197.00Z" fill="none" stroke="#3f3f3f" stroke-width="0.3" opacity="0.75"/>
<path d="M236.11 199.00C236.72 198.47 239.26 197.80 239.94 198.20C240.62 198.60 240.19 200.40 240.17 201.40C240.14 202.40 239.95 203.33 239.79 204.20C239.62 205.07 239.45 206.07 239.17 206.60C238.89 207.13 238.46 207.40 238.10 207.40C237.75 207.40 237.29 207.13 237.03 206.60C236.78 206.07 236.69 205.07 236.57 204.20C236.45 203.33 236.38 202.27 236.30 201.40C236.23 200.53 235.51 199.53 236.11 199.00Z" fill="none" stroke="#3f3f3f" stroke-width="0.3" opacity="0.75"/>
<path d="M221.48 184.00C221.80 182.83 222.59 182.08 224.35 181.50C226.10 180.92 229.61 180.50 232.00 180.50C234.39 180.50 236.86 180.75 238.70 181.50C240.53 182.25 242.20 183.58 243.00 185.00C243.80 186.42 243.72 188.33 243.48 190.00C243.24 191.67 242.52 194.00 241.57 195.00C240.61 196.00 239.33 196.08 237.74 196.00C236.14 195.92 233.91 195.17 232.00 194.50C230.09 193.83 227.86 193.00 226.26 192.00C224.67 191.00 223.23 189.83 222.43 188.50C221.64 187.17 221.16 185.17 221.48 184.00Z" fill="#3f3f3f" stroke="#3f3f3f" stroke-width="0.35" opacity="0.16"/>
<path d="M221.48 184.00C221.80 182.83 222.59 182.08 224.35 181.50C226.10 180.92 229.61 180.50 232.00 180.50C234.39 180.50 236.86 180.75 238.70 181.50C240.53 182.25 242.20 183.58 243.00 185.00C243.80 186.42 243.72 188.33 243.48 190.00C243.24 191.67 242.52 194.00 241.57 195.00C240.61 196.00 239.33 196.08 237.74 196.00C236.14 195.92 233.91 195.17 232.00 194.50C230.09 193.83 227.86 193.00 226.26 192.00C224.67 191.00 223.23 189.83 222.43 188.50C221.64 187.17 221.16 185.17 221.48 184.00Z" fill="none" stroke="#3f3f3f" stroke-width="0.35" opacity="0.9"/>
<path d="M222.54 184.25C222.82 183.22 223.52 182.56 225.07 182.05C226.61 181.54 229.69 181.17 231.80 181.17C233.90 181.17 236.08 181.39 237.69 182.05C239.30 182.71 240.78 183.88 241.48 185.13C242.18 186.38 242.11 188.06 241.90 189.53C241.69 191.00 241.06 193.05 240.22 193.93C239.37 194.81 238.25 194.88 236.85 194.81C235.45 194.74 233.48 194.08 231.80 193.49C230.12 192.90 228.15 192.17 226.75 191.29C225.35 190.41 224.08 189.38 223.38 188.21C222.68 187.04 222.26 185.28 222.54 184.25Z" fill="#3f3f3f" stroke="#3f3f3f" stroke-width="0.35" opacity="0.18"/>
<path d="M222.54 184.25C222.82 183.22 223.52 182.56 225.07 182.05C226.61 181.54 229.69 181.17 231.80 181.17C233.90 181.17 236.08 181.39 237.69 182.05C239.30 182.71 240.78 183.88 241.48 185.13C242.18 186.38 242.11 188.06 241.90 189.53C241.69 191.00 241.06 193.05 240.22 193.93C239.37 194.81 238.25 194.88 236.85 194.81C235.45 194.74 233.48 194.08 231.80 193.49C230.12 192.90 228.15 192.17 226.75 191.29C225.35 190.41 224.08 189.38 223.38 188.21C222.68 187.04 222.26 185.28 222.54 184.25Z" fill="none" stroke="#3f3f3f" stroke-width="0.35" opacity="0.9"/>
<path d="M223.54 184.47C223.79 183.58 224.39 183.01 225.73 182.57C227.06 182.13 229.72 181.81 231.54 181.81C233.36 181.81 235.24 182.00 236.63 182.57C238.02 183.14 239.30 184.15 239.90 185.23C240.51 186.31 240.45 187.76 240.26 189.03C240.08 190.30 239.54 192.07 238.81 192.83C238.08 193.59 237.11 193.65 235.90 193.59C234.69 193.53 232.99 192.96 231.54 192.45C230.09 191.94 228.39 191.31 227.18 190.55C225.97 189.79 224.88 188.90 224.27 187.89C223.67 186.88 223.30 185.36 223.54 184.47Z" fill="#3f3f3f" stroke="#3f3f3f" stroke-width="0.35" opacity="0.2"/>
<path d="M223.54 184.47C223.79 183.58 224.39 183.01 225.73 182.57C227.06 182.13 229.72 181.81 231.54 181.81C233.36 181.81 235.24 182.00 236.63 182.57C238.02 183.14 239.30 184.15 239.90 185.23C240.51 186.31 240.45 187.76 240.26 189.03C240.08 190.30 239.54 192.07 238.81 192.83C238.08 193.59 237.11 193.65 235.90 193.59C234.69 193.53 232.99 192.96 231.54 192.45C230.09 191.94 228.39 191.31 227.18 190.55C225.97 189.79 224.88 188.90 224.27 187.89C223.67 186.88 223.30 185.36 223.54 184.47Z" fill="none" stroke="#3f3f3f" stroke-width="0.35" opacity="0.9"/>
<path d="M224.49 184.66C224.70 183.92 225.21 183.44 226.33 183.06C227.45 182.69 229.69 182.42 231.23 182.42C232.76 182.42 234.34 182.58 235.51 183.06C236.68 183.54 237.76 184.40 238.27 185.30C238.78 186.21 238.72 187.44 238.57 188.50C238.42 189.57 237.96 191.06 237.35 191.70C236.73 192.34 235.92 192.40 234.90 192.34C233.88 192.29 232.45 191.81 231.23 191.38C230.00 190.96 228.57 190.42 227.55 189.78C226.53 189.14 225.61 188.40 225.10 187.54C224.59 186.69 224.29 185.41 224.49 184.66Z" fill="#3f3f3f" stroke="#3f3f3f" stroke-width="0.35" opacity="0.22"/>
<path d="M224.49 184.66C224.70 183.92 225.21 183.44 226.33 183.06C227.45 182.69 229.69 182.42 231.23 182.42C232.76 182.42 234.34 182.58 235.51 183.06C236.68 183.54 237.76 184.40 238.27 185.30C238.78 186.21 238.72 187.44 238.57 188.50C238.42 189.57 237.96 191.06 237.35 191.70C236.73 192.34 235.92 192.40 234.90 192.34C233.88 192.29 232.45 191.81 231.23 191.38C230.00 190.96 228.57 190.42 227.55 189.78C226.53 189.14 225.61 188.40 225.10 187.54C224.59 186.69 224.29 185.41 224.49 184.66Z" fill="none" stroke="#3f3f3f" stroke-width="0.35" opacity="0.9"/>
<path d="M225.38 184.83C225.55 184.22 225.96 183.83 226.87 183.53C227.78 183.22 229.61 183.01 230.85 183.01C232.10 183.01 233.38 183.14 234.33 183.53C235.29 183.92 236.16 184.61 236.57 185.35C236.99 186.08 236.95 187.08 236.82 187.95C236.70 188.81 236.32 190.03 235.83 190.55C235.33 191.07 234.67 191.11 233.84 191.07C233.01 191.02 231.85 190.63 230.85 190.29C229.86 189.94 228.70 189.51 227.87 188.99C227.04 188.47 226.29 187.86 225.88 187.17C225.46 186.47 225.22 185.43 225.38 184.83Z" fill="#3f3f3f" stroke="#3f3f3f" stroke-width="0.35" opacity="0.24"/>
<path d="M225.38 184.83C225.55 184.22 225.96 183.83 226.87 183.53C227.78 183.22 229.61 183.01 230.85 183.01C232.10 183.01 233.38 183.14 234.33 183.53C235.29 183.92 236.16 184.61 236.57 185.35C236.99 186.08 236.95 187.08 236.82 187.95C236.70 188.81 236.32 190.03 235.83 190.55C235.33 191.07 234.67 191.11 233.84 191.07C233.01 191.02 231.85 190.63 230.85 190.29C229.86 189.94 228.70 189.51 227.87 188.99C227.04 188.47 226.29 187.86 225.88 187.17C225.46 186.47 225.22 185.43 225.38 184.83Z" fill="none" stroke="#3f3f3f" stroke-width="0.35" opacity="0.9"/>
<path d="M226.21 184.96C226.34 184.49 226.66 184.19 227.36 183.96C228.06 183.73 229.47 183.56 230.42 183.56C231.38 183.56 232.37 183.66 233.10 183.96C233.83 184.26 234.50 184.79 234.82 185.36C235.14 185.93 235.11 186.69 235.01 187.36C234.92 188.03 234.63 188.96 234.25 189.36C233.87 189.76 233.36 189.79 232.72 189.76C232.08 189.73 231.19 189.43 230.42 189.16C229.66 188.89 228.76 188.56 228.13 188.16C227.49 187.76 226.91 187.29 226.60 186.76C226.28 186.23 226.09 185.43 226.21 184.96Z" fill="#3f3f3f" stroke="#3f3f3f" stroke-width="0.35" opacity="0.26"/>
<path d="M226.21 184.96C226.34 184.49 226.66 184.19 227.36 183.96C228.06 183.73 229.47 183.56 230.42 183.56C231.38 183.56 232.37 183.66 233.10 183.96C233.83 184.26 234.50 184.79 234.82 185.36C235.14 185.93 235.11 186.69 235.01 187.36C234.92 188.03 234.63 188.96 234.25 189.36C233.87 189.76 233.36 189.79 232.72 189.76C232.08 189.73 231.19 189.43 230.42 189.16C229.66 188.89 228.76 188.56 228.13 188.16C227.49 187.76 226.91 187.29 226.60 186.76C226.28 186.23 226.09 185.43 226.21 184.96Z" fill="none" stroke="#3f3f3f" stroke-width="0.35" opacity="0.9"/>
<path d="M226.99 185.07C227.08 184.74 227.30 184.53 227.79 184.37C228.28 184.20 229.26 184.09 229.93 184.09C230.60 184.09 231.30 184.16 231.81 184.37C232.32 184.58 232.79 184.95 233.01 185.35C233.24 185.74 233.21 186.28 233.15 186.75C233.08 187.21 232.88 187.87 232.61 188.15C232.34 188.43 231.99 188.45 231.54 188.43C231.09 188.40 230.47 188.19 229.93 188.01C229.40 187.82 228.77 187.59 228.33 187.31C227.88 187.03 227.48 186.70 227.26 186.33C227.03 185.95 226.90 185.39 226.99 185.07Z" fill="#3f3f3f" stroke="#3f3f3f" stroke-width="0.35" opacity="0.28"/>
<path d="M226.99 185.07C227.08 184.74 227.30 184.53 227.79 184.37C228.28 184.20 229.26 184.09 229.93 184.09C230.60 184.09 231.30 184.16 231.81 184.37C232.32 184.58 232.79 184.95 233.01 185.35C233.24 185.74 233.21 186.28 233.15 186.75C233.08 187.21 232.88 187.87 232.61 188.15C232.34 188.43 231.99 188.45 231.54 188.43C231.09 188.40 230.47 188.19 229.93 188.01C229.40 187.82 228.77 187.59 228.33 187.31C227.88 187.03 227.48 186.70 227.26 186.33C227.03 185.95 226.90 185.39 226.99 185.07Z" fill="none" stroke="#3f3f3f" stroke-width="0.35" opacity="0.9"/>
<ellipse cx="229.61" cy="184.80" rx="6.05" ry="2.20" transform="rotate(4 229.61 184.80)" fill="#3f3f3f" stroke="none" stroke-width="0" opacity="0.375"/>
<path d="M296.40 193.30C297.98 191.97 304.63 190.30 306.40 191.30C308.17 192.30 307.07 196.80 307.00 199.30C306.93 201.80 306.43 204.13 306.00 206.30C305.57 208.47 305.13 210.97 304.40 212.30C303.67 213.63 302.53 214.30 301.60 214.30C300.67 214.30 299.47 213.63 298.80 212.30C298.13 210.97 297.92 208.47 297.60 206.30C297.28 204.13 297.10 201.47 296.90 199.30C296.70 197.13 294.82 194.63 296.40 193.30Z" fill="#0c0c0c" stroke="none" stroke-width="0" opacity="0.1"/>
<path d="M296.40 193.30C297.98 191.97 304.63 190.30 306.40 191.30C308.17 192.30 307.07 196.80 307.00 199.30C306.93 201.80 306.43 204.13 306.00 206.30C305.57 208.47 305.13 210.97 304.40 212.30C303.67 213.63 302.53 214.30 301.60 214.30C300.67 214.30 299.47 213.63 298.80 212.30C298.13 210.97 297.92 208.47 297.60 206.30C297.28 204.13 297.10 201.47 296.90 199.30C296.70 197.13 294.82 194.63 296.40 193.30Z" fill="none" stroke="#0c0c0c" stroke-width="0.3" opacity="0.75"/>
<path d="M297.50 195.30C298.77 194.23 304.09 192.90 305.50 193.70C306.91 194.50 306.03 198.10 305.98 200.10C305.93 202.10 305.53 203.97 305.18 205.70C304.83 207.43 304.49 209.43 303.90 210.50C303.31 211.57 302.41 212.10 301.66 212.10C300.91 212.10 299.95 211.57 299.42 210.50C298.89 209.43 298.71 207.43 298.46 205.70C298.21 203.97 298.06 201.83 297.90 200.10C297.74 198.37 296.23 196.37 297.50 195.30Z" fill="none" stroke="#0c0c0c" stroke-width="0.3" opacity="0.75"/>
<path d="M298.60 197.30C299.55 196.50 303.54 195.50 304.60 196.10C305.66 196.70 305.00 199.40 304.96 200.90C304.92 202.40 304.62 203.80 304.36 205.10C304.10 206.40 303.84 207.90 303.40 208.70C302.96 209.50 302.28 209.90 301.72 209.90C301.16 209.90 300.44 209.50 300.04 208.70C299.64 207.90 299.51 206.40 299.32 205.10C299.13 203.80 299.02 202.20 298.90 200.90C298.78 199.60 297.65 198.10 298.60 197.30Z" fill="none" stroke="#0c0c0c" stroke-width="0.3" opacity="0.75"/>
<path d="M299.70 199.30C300.33 198.77 302.99 198.10 303.70 198.50C304.41 198.90 303.97 200.70 303.94 201.70C303.91 202.70 303.71 203.63 303.54 204.50C303.37 205.37 303.19 206.37 302.90 206.90C302.61 207.43 302.15 207.70 301.78 207.70C301.41 207.70 300.93 207.43 300.66 206.90C300.39 206.37 300.31 205.37 300.18 204.50C300.05 203.63 299.98 202.57 299.90 201.70C299.82 200.83 299.07 199.83 299.70 199.30Z" fill="none" stroke="#0c0c0c" stroke-width="0.3" opacity="0.75"/>
<path d="M284.40 184.30C284.73 183.13 285.57 182.38 287.40 181.80C289.23 181.22 292.90 180.80 295.40 180.80C297.90 180.80 300.48 181.05 302.40 181.80C304.32 182.55 306.07 183.88 306.90 185.30C307.73 186.72 307.65 188.63 307.40 190.30C307.15 191.97 306.40 194.30 305.40 195.30C304.40 196.30 303.07 196.38 301.40 196.30C299.73 196.22 297.40 195.47 295.40 194.80C293.40 194.13 291.07 193.30 289.40 192.30C287.73 191.30 286.23 190.13 285.40 188.80C284.57 187.47 284.07 185.47 284.40 184.30Z" fill="#0c0c0c" stroke="#0c0c0c" stroke-width="0.35" opacity="0.16"/>
<path d="M284.40 184.30C284.73 183.13 285.57 182.38 287.40 181.80C289.23 181.22 292.90 180.80 295.40 180.80C297.90 180.80 300.48 181.05 302.40 181.80C304.32 182.55 306.07 183.88 306.90 185.30C307.73 186.72 307.65 188.63 307.40 190.30C307.15 191.97 306.40 194.30 305.40 195.30C304.40 196.30 303.07 196.38 301.40 196.30C299.73 196.22 297.40 195.47 295.40 194.80C293.40 194.13 291.07 193.30 289.40 192.30C287.73 191.30 286.23 190.13 285.40 188.80C284.57 187.47 284.07 185.47 284.40 184.30Z" fill="none" stroke="#0c0c0c" stroke-width="0.35" opacity="0.9"/>
<path d="M285.51 184.55C285.80 183.52 286.54 182.86 288.15 182.35C289.76 181.84 292.99 181.47 295.19 181.47C297.39 181.47 299.66 181.69 301.35 182.35C303.04 183.01 304.58 184.18 305.31 185.43C306.04 186.68 305.97 188.36 305.75 189.83C305.53 191.30 304.87 193.35 303.99 194.23C303.11 195.11 301.94 195.18 300.47 195.11C299.00 195.04 296.95 194.38 295.19 193.79C293.43 193.20 291.38 192.47 289.91 191.59C288.44 190.71 287.12 189.68 286.39 188.51C285.66 187.34 285.22 185.58 285.51 184.55Z" fill="#0c0c0c" stroke="#0c0c0c" stroke-width="0.35" opacity="0.18"/>
<path d="M285.51 184.55C285.80 183.52 286.54 182.86 288.15 182.35C289.76 181.84 292.99 181.47 295.19 181.47C297.39 181.47 299.66 181.69 301.35 182.35C303.04 183.01 304.58 184.18 305.31 185.43C306.04 186.68 305.97 188.36 305.75 189.83C305.53 191.30 304.87 193.35 303.99 194.23C303.11 195.11 301.94 195.18 300.47 195.11C299.00 195.04 296.95 194.38 295.19 193.79C293.43 193.20 291.38 192.47 289.91 191.59C288.44 190.71 287.12 189.68 286.39 188.51C285.66 187.34 285.22 185.58 285.51 184.55Z" fill="none" stroke="#0c0c0c" stroke-width="0.35" opacity="0.9"/>
<path d="M286.56 184.77C286.81 183.88 287.45 183.31 288.84 182.87C290.23 182.43 293.02 182.11 294.92 182.11C296.82 182.11 298.78 182.30 300.24 182.87C301.70 183.44 303.03 184.45 303.66 185.53C304.29 186.61 304.23 188.06 304.04 189.33C303.85 190.60 303.28 192.37 302.52 193.13C301.76 193.89 300.75 193.95 299.48 193.89C298.21 193.83 296.44 193.26 294.92 192.75C293.40 192.24 291.63 191.61 290.36 190.85C289.09 190.09 287.95 189.20 287.32 188.19C286.69 187.18 286.31 185.66 286.56 184.77Z" fill="#0c0c0c" stroke="#0c0c0c" stroke-width="0.35" opacity="0.2"/>
<path d="M286.56 184.77C286.81 183.88 287.45 183.31 288.84 182.87C290.23 182.43 293.02 182.11 294.92 182.11C296.82 182.11 298.78 182.30 300.24 182.87C301.70 183.44 303.03 184.45 303.66 185.53C304.29 186.61 304.23 188.06 304.04 189.33C303.85 190.60 303.28 192.37 302.52 193.13C301.76 193.89 300.75 193.95 299.48 193.89C298.21 193.83 296.44 193.26 294.92 192.75C293.40 192.24 291.63 191.61 290.36 190.85C289.09 190.09 287.95 189.20 287.32 188.19C286.69 187.18 286.31 185.66 286.56 184.77Z" fill="none" stroke="#0c0c0c" stroke-width="0.35" opacity="0.9"/>
<path d="M287.55 184.96C287.76 184.22 288.30 183.74 289.47 183.36C290.64 182.99 292.99 182.72 294.59 182.72C296.19 182.72 297.84 182.88 299.07 183.36C300.30 183.84 301.42 184.70 301.95 185.60C302.48 186.51 302.43 187.74 302.27 188.80C302.11 189.87 301.63 191.36 300.99 192.00C300.35 192.64 299.50 192.70 298.43 192.64C297.36 192.59 295.87 192.11 294.59 191.68C293.31 191.26 291.82 190.72 290.75 190.08C289.68 189.44 288.72 188.70 288.19 187.84C287.66 186.99 287.34 185.71 287.55 184.96Z" fill="#0c0c0c" stroke="#0c0c0c" stroke-width="0.35" opacity="0.22"/>
<path d="M287.55 184.96C287.76 184.22 288.30 183.74 289.47 183.36C290.64 182.99 292.99 182.72 294.59 182.72C296.19 182.72 297.84 182.88 299.07 183.36C300.30 183.84 301.42 184.70 301.95 185.60C302.48 186.51 302.43 187.74 302.27 188.80C302.11 189.87 301.63 191.36 300.99 192.00C300.35 192.64 299.50 192.70 298.43 192.64C297.36 192.59 295.87 192.11 294.59 191.68C293.31 191.26 291.82 190.72 290.75 190.08C289.68 189.44 288.72 188.70 288.19 187.84C287.66 186.99 287.34 185.71 287.55 184.96Z" fill="none" stroke="#0c0c0c" stroke-width="0.35" opacity="0.9"/>
<path d="M288.48 185.13C288.65 184.52 289.09 184.13 290.04 183.83C290.99 183.52 292.90 183.31 294.20 183.31C295.50 183.31 296.84 183.44 297.84 183.83C298.84 184.22 299.75 184.91 300.18 185.65C300.61 186.38 300.57 187.38 300.44 188.25C300.31 189.11 299.92 190.33 299.40 190.85C298.88 191.37 298.19 191.41 297.32 191.37C296.45 191.32 295.24 190.93 294.20 190.59C293.16 190.24 291.95 189.81 291.08 189.29C290.21 188.77 289.43 188.16 289.00 187.47C288.57 186.77 288.31 185.73 288.48 185.13Z" fill="#0c0c0c" stroke="#0c0c0c" stroke-width="0.35" opacity="0.24"/>
<path d="M288.48 185.13C288.65 184.52 289.09 184.13 290.04 183.83C290.99 183.52 292.90 183.31 294.20 183.31C295.50 183.31 296.84 183.44 297.84 183.83C298.84 184.22 299.75 184.91 300.18 185.65C300.61 186.38 300.57 187.38 300.44 188.25C300.31 189.11 299.92 190.33 299.40 190.85C298.88 191.37 298.19 191.41 297.32 191.37C296.45 191.32 295.24 190.93 294.20 190.59C293.16 190.24 291.95 189.81 291.08 189.29C290.21 188.77 289.43 188.16 289.00 187.47C288.57 186.77 288.31 185.73 288.48 185.13Z" fill="none" stroke="#0c0c0c" stroke-width="0.35" opacity="0.9"/>
<path d="M289.35 185.26C289.48 184.79 289.82 184.49 290.55 184.26C291.28 184.03 292.75 183.86 293.75 183.86C294.75 183.86 295.78 183.96 296.55 184.26C297.32 184.56 298.02 185.09 298.35 185.66C298.68 186.23 298.65 186.99 298.55 187.66C298.45 188.33 298.15 189.26 297.75 189.66C297.35 190.06 296.82 190.09 296.15 190.06C295.48 190.03 294.55 189.73 293.75 189.46C292.95 189.19 292.02 188.86 291.35 188.46C290.68 188.06 290.08 187.59 289.75 187.06C289.42 186.53 289.22 185.73 289.35 185.26Z" fill="#0c0c0c" stroke="#0c0c0c" stroke-width="0.35" opacity="0.26"/>
<path d="M289.35 185.26C289.48 184.79 289.82 184.49 290.55 184.26C291.28 184.03 292.75 183.86 293.75 183.86C294.75 183.86 295.78 183.96 296.55 184.26C297.32 184.56 298.02 185.09 298.35 185.66C298.68 186.23 298.65 186.99 298.55 187.66C298.45 188.33 298.15 189.26 297.75 189.66C297.35 190.06 296.82 190.09 296.15 190.06C295.48 190.03 294.55 189.73 293.75 189.46C292.95 189.19 292.02 188.86 291.35 188.46C290.68 188.06 290.08 187.59 289.75 187.06C289.42 186.53 289.22 185.73 289.35 185.26Z" fill="none" stroke="#0c0c0c" stroke-width="0.35" opacity="0.9"/>
<path d="M290.16 185.37C290.25 185.04 290.49 184.83 291.00 184.67C291.51 184.50 292.54 184.39 293.24 184.39C293.94 184.39 294.66 184.46 295.20 184.67C295.74 184.88 296.23 185.25 296.46 185.65C296.69 186.04 296.67 186.58 296.60 187.05C296.53 187.51 296.32 188.17 296.04 188.45C295.76 188.73 295.39 188.75 294.92 188.73C294.45 188.70 293.80 188.49 293.24 188.31C292.68 188.12 292.03 187.89 291.56 187.61C291.09 187.33 290.67 187.00 290.44 186.63C290.21 186.25 290.07 185.69 290.16 185.37Z" fill="#0c0c0c" stroke="#0c0c0c" stroke-width="0.35" opacity="0.28"/>
<path d="M290.16 185.37C290.25 185.04 290.49 184.83 291.00 184.67C291.51 184.50 292.54 184.39 293.24 184.39C293.94 184.39 294.66 184.46 295.20 184.67C295.74 184.88 296.23 185.25 296.46 185.65C296.69 186.04 296.67 186.58 296.60 187.05C296.53 187.51 296.32 188.17 296.04 188.45C295.76 188.73 295.39 188.75 294.92 188.73C294.45 188.70 293.80 188.49 293.24 188.31C292.68 188.12 292.03 187.89 291.56 187.61C291.09 187.33 290.67 187.00 290.44 186.63C290.21 186.25 290.07 185.69 290.16 185.37Z" fill="none" stroke="#0c0c0c" stroke-width="0.35" opacity="0.9"/>
<ellipse cx="292.90" cy="185.10" rx="6.33" ry="2.20" transform="rotate(4 292.90 185.10)" fill="#0c0c0c" stroke="none" stroke-width="0" opacity="0.475"/>
<path d="M232.71 258.20C234.16 256.87 240.23 255.20 241.84 256.20C243.46 257.20 242.45 261.70 242.39 264.20C242.33 266.70 241.87 269.03 241.48 271.20C241.08 273.37 240.69 275.87 240.02 277.20C239.35 278.53 238.31 279.20 237.46 279.20C236.61 279.20 235.51 278.53 234.90 277.20C234.30 275.87 234.10 273.37 233.81 271.20C233.52 269.03 233.35 266.37 233.17 264.20C232.99 262.03 231.27 259.53 232.71 258.20Z" fill="#141414" stroke="none" stroke-width="0" opacity="0.1"/>
<path d="M232.71 258.20C234.16 256.87 240.23 255.20 241.84 256.20C243.46 257.20 242.45 261.70 242.39 264.20C242.33 266.70 241.87 269.03 241.48 271.20C241.08 273.37 240.69 275.87 240.02 277.20C239.35 278.53 238.31 279.20 237.46 279.20C236.61 279.20 235.51 278.53 234.90 277.20C234.30 275.87 234.10 273.37 233.81 271.20C233.52 269.03 233.35 266.37 233.17 264.20C232.99 262.03 231.27 259.53 232.71 258.20Z" fill="none" stroke="#141414" stroke-width="0.3" opacity="0.75"/>
<path d="M233.72 260.20C234.87 259.13 239.73 257.80 241.02 258.60C242.31 259.40 241.51 263.00 241.46 265.00C241.41 267.00 241.05 268.87 240.73 270.60C240.41 272.33 240.10 274.33 239.56 275.40C239.03 276.47 238.20 277.00 237.52 277.00C236.83 277.00 235.96 276.47 235.47 275.40C234.98 274.33 234.83 272.33 234.59 270.60C234.36 268.87 234.23 266.73 234.08 265.00C233.94 263.27 232.56 261.27 233.72 260.20Z" fill="none" stroke="#141414" stroke-width="0.3" opacity="0.75"/>
<path d="M234.72 262.20C235.59 261.40 239.23 260.40 240.20 261.00C241.17 261.60 240.57 264.30 240.53 265.80C240.49 267.30 240.22 268.70 239.98 270.00C239.74 271.30 239.51 272.80 239.10 273.60C238.70 274.40 238.08 274.80 237.57 274.80C237.06 274.80 236.40 274.40 236.04 273.60C235.67 272.80 235.55 271.30 235.38 270.00C235.21 268.70 235.11 267.10 235.00 265.80C234.89 264.50 233.85 263.00 234.72 262.20Z" fill="none" stroke="#141414" stroke-width="0.3" opacity="0.75"/>
<path d="M235.73 264.20C236.30 263.67 238.73 263.00 239.38 263.40C240.02 263.80 239.62 265.60 239.60 266.60C239.57 267.60 239.39 268.53 239.23 269.40C239.07 270.27 238.92 271.27 238.65 271.80C238.38 272.33 237.97 272.60 237.63 272.60C237.28 272.60 236.85 272.33 236.60 271.80C236.36 271.27 236.28 270.27 236.16 269.40C236.05 268.53 235.98 267.47 235.91 266.60C235.84 265.73 235.15 264.73 235.73 264.20Z" fill="none" stroke="#141414" stroke-width="0.3" opacity="0.75"/>
<path d="M221.76 249.20C222.06 248.03 222.82 247.28 224.50 246.70C226.17 246.12 229.52 245.70 231.80 245.70C234.08 245.70 236.44 245.95 238.19 246.70C239.94 247.45 241.54 248.78 242.30 250.20C243.06 251.62 242.98 253.53 242.76 255.20C242.53 256.87 241.84 259.20 240.93 260.20C240.02 261.20 238.80 261.28 237.28 261.20C235.76 261.12 233.63 260.37 231.80 259.70C229.97 259.03 227.84 258.20 226.32 257.20C224.80 256.20 223.43 255.03 222.67 253.70C221.91 252.37 221.45 250.37 221.76 249.20Z" fill="#141414" stroke="#141414" stroke-width="0.35" opacity="0.16"/>
<path d="M221.76 249.20C222.06 248.03 222.82 247.28 224.50 246.70C226.17 246.12 229.52 245.70 231.80 245.70C234.08 245.70 236.44 245.95 238.19 246.70C239.94 247.45 241.54 248.78 242.30 250.20C243.06 251.62 242.98 253.53 242.76 255.20C242.53 256.87 241.84 259.20 240.93 260.20C240.02 261.20 238.80 261.28 237.28 261.20C235.76 261.12 233.63 260.37 231.80 259.70C229.97 259.03 227.84 258.20 226.32 257.20C224.80 256.20 223.43 255.03 222.67 253.70C221.91 252.37 221.45 250.37 221.76 249.20Z" fill="none" stroke="#141414" stroke-width="0.35" opacity="0.9"/>
<path d="M222.77 249.45C223.04 248.42 223.71 247.76 225.18 247.25C226.65 246.74 229.60 246.37 231.61 246.37C233.62 246.37 235.69 246.59 237.23 247.25C238.77 247.91 240.18 249.08 240.85 250.33C241.52 251.58 241.45 253.26 241.25 254.73C241.05 256.20 240.45 258.25 239.64 259.13C238.84 260.01 237.77 260.08 236.43 260.01C235.09 259.94 233.22 259.28 231.61 258.69C230.00 258.10 228.13 257.37 226.79 256.49C225.45 255.61 224.24 254.58 223.57 253.41C222.90 252.24 222.50 250.48 222.77 249.45Z" fill="#141414" stroke="#141414" stroke-width="0.35" opacity="0.18"/>
<path d="M222.77 249.45C223.04 248.42 223.71 247.76 225.18 247.25C226.65 246.74 229.60 246.37 231.61 246.37C233.62 246.37 235.69 246.59 237.23 247.25C238.77 247.91 240.18 249.08 240.85 250.33C241.52 251.58 241.45 253.26 241.25 254.73C241.05 256.20 240.45 258.25 239.64 259.13C238.84 260.01 237.77 260.08 236.43 260.01C235.09 259.94 233.22 259.28 231.61 258.69C230.00 258.10 228.13 257.37 226.79 256.49C225.45 255.61 224.24 254.58 223.57 253.41C222.90 252.24 222.50 250.48 222.77 249.45Z" fill="none" stroke="#141414" stroke-width="0.35" opacity="0.9"/>
<path d="M223.73 249.67C223.96 248.78 224.54 248.21 225.81 247.77C227.08 247.33 229.63 247.01 231.36 247.01C233.10 247.01 234.89 247.20 236.22 247.77C237.55 248.34 238.76 249.35 239.34 250.43C239.92 251.51 239.86 252.96 239.69 254.23C239.52 255.50 238.99 257.27 238.30 258.03C237.61 258.79 236.68 258.85 235.53 258.79C234.37 258.73 232.75 258.16 231.36 257.65C229.97 257.14 228.35 256.51 227.20 255.75C226.04 254.99 225.00 254.10 224.42 253.09C223.84 252.08 223.50 250.56 223.73 249.67Z" fill="#141414" stroke="#141414" stroke-width="0.35" opacity="0.2"/>
<path d="M223.73 249.67C223.96 248.78 224.54 248.21 225.81 247.77C227.08 247.33 229.63 247.01 231.36 247.01C233.10 247.01 234.89 247.20 236.22 247.77C237.55 248.34 238.76 249.35 239.34 250.43C239.92 251.51 239.86 252.96 239.69 254.23C239.52 255.50 238.99 257.27 238.30 258.03C237.61 258.79 236.68 258.85 235.53 258.79C234.37 258.73 232.75 258.16 231.36 257.65C229.97 257.14 228.35 256.51 227.20 255.75C226.04 254.99 225.00 254.10 224.42 253.09C223.84 252.08 223.50 250.56 223.73 249.67Z" fill="none" stroke="#141414" stroke-width="0.35" opacity="0.9"/>
<path d="M224.63 249.86C224.83 249.12 225.31 248.64 226.39 248.26C227.46 247.89 229.60 247.62 231.06 247.62C232.52 247.62 234.03 247.78 235.15 248.26C236.27 248.74 237.29 249.60 237.78 250.50C238.27 251.41 238.22 252.64 238.07 253.70C237.93 254.77 237.49 256.26 236.90 256.90C236.32 257.54 235.54 257.60 234.57 257.54C233.59 257.49 232.23 257.01 231.06 256.58C229.89 256.16 228.53 255.62 227.55 254.98C226.58 254.34 225.70 253.60 225.22 252.74C224.73 251.89 224.44 250.61 224.63 249.86Z" fill="#141414" stroke="#141414" stroke-width="0.35" opacity="0.22"/>
<path d="M224.63 249.86C224.83 249.12 225.31 248.64 226.39 248.26C227.46 247.89 229.60 247.62 231.06 247.62C232.52 247.62 234.03 247.78 235.15 248.26C236.27 248.74 237.29 249.60 237.78 250.50C238.27 251.41 238.22 252.64 238.07 253.70C237.93 254.77 237.49 256.26 236.90 256.90C236.32 257.54 235.54 257.60 234.57 257.54C233.59 257.49 232.23 257.01 231.06 256.58C229.89 256.16 228.53 255.62 227.55 254.98C226.58 254.34 225.70 253.60 225.22 252.74C224.73 251.89 224.44 250.61 224.63 249.86Z" fill="none" stroke="#141414" stroke-width="0.35" opacity="0.9"/>
<path d="M225.48 250.03C225.64 249.42 226.04 249.03 226.91 248.73C227.78 248.42 229.52 248.21 230.70 248.21C231.89 248.21 233.12 248.34 234.03 248.73C234.94 249.12 235.77 249.81 236.16 250.55C236.56 251.28 236.52 252.28 236.40 253.15C236.28 254.01 235.93 255.23 235.45 255.75C234.98 256.27 234.34 256.31 233.55 256.27C232.76 256.22 231.65 255.83 230.70 255.49C229.75 255.14 228.65 254.71 227.86 254.19C227.06 253.67 226.35 253.06 225.96 252.37C225.56 251.67 225.32 250.63 225.48 250.03Z" fill="#141414" stroke="#141414" stroke-width="0.35" opacity="0.24"/>
<path d="M225.48 250.03C225.64 249.42 226.04 249.03 226.91 248.73C227.78 248.42 229.52 248.21 230.70 248.21C231.89 248.21 233.12 248.34 234.03 248.73C234.94 249.12 235.77 249.81 236.16 250.55C236.56 251.28 236.52 252.28 236.40 253.15C236.28 254.01 235.93 255.23 235.45 255.75C234.98 256.27 234.34 256.31 233.55 256.27C232.76 256.22 231.65 255.83 230.70 255.49C229.75 255.14 228.65 254.71 227.86 254.19C227.06 253.67 226.35 253.06 225.96 252.37C225.56 251.67 225.32 250.63 225.48 250.03Z" fill="none" stroke="#141414" stroke-width="0.35" opacity="0.9"/>
<path d="M226.28 250.16C226.40 249.69 226.70 249.39 227.37 249.16C228.04 248.93 229.38 248.76 230.29 248.76C231.21 248.76 232.15 248.86 232.85 249.16C233.55 249.46 234.19 249.99 234.49 250.56C234.80 251.13 234.77 251.89 234.68 252.56C234.58 253.23 234.31 254.16 233.95 254.56C233.58 254.96 233.09 254.99 232.48 254.96C231.88 254.93 231.02 254.63 230.29 254.36C229.56 254.09 228.71 253.76 228.10 253.36C227.49 252.96 226.95 252.49 226.64 251.96C226.34 251.43 226.15 250.63 226.28 250.16Z" fill="#141414" stroke="#141414" stroke-width="0.35" opacity="0.26"/>
<path d="M226.28 250.16C226.40 249.69 226.70 249.39 227.37 249.16C228.04 248.93 229.38 248.76 230.29 248.76C231.21 248.76 232.15 248.86 232.85 249.16C233.55 249.46 234.19 249.99 234.49 250.56C234.80 251.13 234.77 251.89 234.68 252.56C234.58 253.23 234.31 254.16 233.95 254.56C233.58 254.96 233.09 254.99 232.48 254.96C231.88 254.93 231.02 254.63 230.29 254.36C229.56 254.09 228.71 253.76 228.10 253.36C227.49 252.96 226.95 252.49 226.64 251.96C226.34 251.43 226.15 250.63 226.28 250.16Z" fill="none" stroke="#141414" stroke-width="0.35" opacity="0.9"/>
<path d="M227.02 250.27C227.10 249.94 227.31 249.73 227.78 249.57C228.25 249.40 229.19 249.29 229.83 249.29C230.47 249.29 231.13 249.36 231.62 249.57C232.11 249.78 232.55 250.15 232.77 250.55C232.98 250.94 232.96 251.48 232.90 251.95C232.83 252.41 232.64 253.07 232.38 253.35C232.13 253.63 231.79 253.65 231.36 253.63C230.94 253.60 230.34 253.39 229.83 253.21C229.32 253.02 228.72 252.79 228.29 252.51C227.87 252.23 227.48 251.90 227.27 251.53C227.06 251.15 226.93 250.59 227.02 250.27Z" fill="#141414" stroke="#141414" stroke-width="0.35" opacity="0.28"/>
<path d="M227.02 250.27C227.10 249.94 227.31 249.73 227.78 249.57C228.25 249.40 229.19 249.29 229.83 249.29C230.47 249.29 231.13 249.36 231.62 249.57C232.11 249.78 232.55 250.15 232.77 250.55C232.98 250.94 232.96 251.48 232.90 251.95C232.83 252.41 232.64 253.07 232.38 253.35C232.13 253.63 231.79 253.65 231.36 253.63C230.94 253.60 230.34 253.39 229.83 253.21C229.32 253.02 228.72 252.79 228.29 252.51C227.87 252.23 227.48 251.90 227.27 251.53C227.06 251.15 226.93 250.59 227.02 250.27Z" fill="none" stroke="#141414" stroke-width="0.35" opacity="0.9"/>
<ellipse cx="229.52" cy="250.00" rx="5.78" ry="2.20" transform="rotate(4 229.52 250.00)" fill="#141414" stroke="none" stroke-width="0" opacity="0.46"/>
<path d="M295.90 257.50C297.48 256.93 304.13 255.26 305.90 255.50C307.67 255.74 306.57 257.64 306.50 258.94C306.43 260.24 305.93 261.94 305.50 263.28C305.07 264.62 304.63 266.17 303.90 267.00C303.17 267.83 302.03 268.24 301.10 268.24C300.17 268.24 298.97 267.83 298.30 267.00C297.63 266.17 297.42 264.62 297.10 263.28C296.78 261.94 296.60 259.90 296.40 258.94C296.20 257.98 294.32 258.07 295.90 257.50Z" fill="#515151" stroke="none" stroke-width="0" opacity="0.06999999999999999"/>
<path d="M295.90 257.50C297.48 256.93 304.13 255.26 305.90 255.50C307.67 255.74 306.57 257.64 306.50 258.94C306.43 260.24 305.93 261.94 305.50 263.28C305.07 264.62 304.63 266.17 303.90 267.00C303.17 267.83 302.03 268.24 301.10 268.24C300.17 268.24 298.97 267.83 298.30 267.00C297.63 266.17 297.42 264.62 297.10 263.28C296.78 261.94 296.60 259.90 296.40 258.94C296.20 257.98 294.32 258.07 295.90 257.50Z" fill="none" stroke="#515151" stroke-width="0.3" opacity="0.5249999999999999"/>
<path d="M297.00 258.28C298.27 257.83 303.59 256.49 305.00 256.68C306.41 256.88 305.53 258.40 305.48 259.44C305.43 260.47 305.03 261.83 304.68 262.91C304.33 263.98 303.99 265.22 303.40 265.88C302.81 266.55 301.91 266.88 301.16 266.88C300.41 266.88 299.45 266.55 298.92 265.88C298.39 265.22 298.21 263.98 297.96 262.91C297.71 261.83 297.56 260.21 297.40 259.44C297.24 258.67 295.73 258.74 297.00 258.28Z" fill="none" stroke="#515151" stroke-width="0.3" opacity="0.5249999999999999"/>
<path d="M298.10 259.07C299.05 258.72 303.04 257.72 304.10 257.87C305.16 258.01 304.50 259.15 304.46 259.93C304.42 260.71 304.12 261.73 303.86 262.54C303.60 263.34 303.34 264.27 302.90 264.77C302.46 265.26 301.78 265.51 301.22 265.51C300.66 265.51 299.94 265.26 299.54 264.77C299.14 264.27 299.01 263.34 298.82 262.54C298.63 261.73 298.52 260.51 298.40 259.93C298.28 259.35 297.15 259.41 298.10 259.07Z" fill="none" stroke="#515151" stroke-width="0.3" opacity="0.5249999999999999"/>
<path d="M299.20 259.85C299.83 259.62 302.49 258.96 303.20 259.05C303.91 259.15 303.47 259.91 303.44 260.43C303.41 260.95 303.21 261.63 303.04 262.16C302.87 262.70 302.69 263.32 302.40 263.65C302.11 263.98 301.65 264.15 301.28 264.15C300.91 264.15 300.43 263.98 300.16 263.65C299.89 263.32 299.81 262.70 299.68 262.16C299.55 261.63 299.48 260.81 299.40 260.43C299.32 260.04 298.57 260.08 299.20 259.85Z" fill="none" stroke="#515151" stroke-width="0.3" opacity="0.5249999999999999"/>
<path d="M283.90 248.50C284.23 247.33 285.07 246.58 286.90 246.00C288.73 245.42 292.40 245.00 294.90 245.00C297.40 245.00 299.98 245.25 301.90 246.00C303.82 246.75 305.57 248.08 306.40 249.50C307.23 250.92 307.15 252.83 306.90 254.50C306.65 256.17 305.90 258.50 304.90 259.50C303.90 260.50 302.57 260.58 300.90 260.50C299.23 260.42 296.90 259.67 294.90 259.00C292.90 258.33 290.57 257.50 288.90 256.50C287.23 255.50 285.73 254.33 284.90 253.00C284.07 251.67 283.57 249.67 283.90 248.50Z" fill="#515151" stroke="#515151" stroke-width="0.35" opacity="0.16"/>
<path d="M283.90 248.50C284.23 247.33 285.07 246.58 286.90 246.00C288.73 245.42 292.40 245.00 294.90 245.00C297.40 245.00 299.98 245.25 301.90 246.00C303.82 246.75 305.57 248.08 306.40 249.50C307.23 250.92 307.15 252.83 306.90 254.50C306.65 256.17 305.90 258.50 304.90 259.50C303.90 260.50 302.57 260.58 300.90 260.50C299.23 260.42 296.90 259.67 294.90 259.00C292.90 258.33 290.57 257.50 288.90 256.50C287.23 255.50 285.73 254.33 284.90 253.00C284.07 251.67 283.57 249.67 283.90 248.50Z" fill="none" stroke="#515151" stroke-width="0.35" opacity="0.9"/>
<path d="M285.01 248.75C285.30 247.72 286.04 247.06 287.65 246.55C289.26 246.04 292.49 245.67 294.69 245.67C296.89 245.67 299.16 245.89 300.85 246.55C302.54 247.21 304.08 248.38 304.81 249.63C305.54 250.88 305.47 252.56 305.25 254.03C305.03 255.50 304.37 257.55 303.49 258.43C302.61 259.31 301.44 259.38 299.97 259.31C298.50 259.24 296.45 258.58 294.69 257.99C292.93 257.40 290.88 256.67 289.41 255.79C287.94 254.91 286.62 253.88 285.89 252.71C285.16 251.54 284.72 249.78 285.01 248.75Z" fill="#515151" stroke="#515151" stroke-width="0.35" opacity="0.18"/>
<path d="M285.01 248.75C285.30 247.72 286.04 247.06 287.65 246.55C289.26 246.04 292.49 245.67 294.69 245.67C296.89 245.67 299.16 245.89 300.85 246.55C302.54 247.21 304.08 248.38 304.81 249.63C305.54 250.88 305.47 252.56 305.25 254.03C305.03 255.50 304.37 257.55 303.49 258.43C302.61 259.31 301.44 259.38 299.97 259.31C298.50 259.24 296.45 258.58 294.69 257.99C292.93 257.40 290.88 256.67 289.41 255.79C287.94 254.91 286.62 253.88 285.89 252.71C285.16 251.54 284.72 249.78 285.01 248.75Z" fill="none" stroke="#515151" stroke-width="0.35" opacity="0.9"/>
<path d="M286.06 248.97C286.31 248.08 286.95 247.51 288.34 247.07C289.73 246.63 292.52 246.31 294.42 246.31C296.32 246.31 298.28 246.50 299.74 247.07C301.20 247.64 302.53 248.65 303.16 249.73C303.79 250.81 303.73 252.26 303.54 253.53C303.35 254.80 302.78 256.57 302.02 257.33C301.26 258.09 300.25 258.15 298.98 258.09C297.71 258.03 295.94 257.46 294.42 256.95C292.90 256.44 291.13 255.81 289.86 255.05C288.59 254.29 287.45 253.40 286.82 252.39C286.19 251.38 285.81 249.86 286.06 248.97Z" fill="#515151" stroke="#515151" stroke-width="0.35" opacity="0.2"/>
<path d="M286.06 248.97C286.31 248.08 286.95 247.51 288.34 247.07C289.73 246.63 292.52 246.31 294.42 246.31C296.32 246.31 298.28 246.50 299.74 247.07C301.20 247.64 302.53 248.65 303.16 249.73C303.79 250.81 303.73 252.26 303.54 253.53C303.35 254.80 302.78 256.57 302.02 257.33C301.26 258.09 300.25 258.15 298.98 258.09C297.71 258.03 295.94 257.46 294.42 256.95C292.90 256.44 291.13 255.81 289.86 255.05C288.59 254.29 287.45 253.40 286.82 252.39C286.19 251.38 285.81 249.86 286.06 248.97Z" fill="none" stroke="#515151" stroke-width="0.35" opacity="0.9"/>
<path d="M287.05 249.16C287.26 248.42 287.80 247.94 288.97 247.56C290.14 247.19 292.49 246.92 294.09 246.92C295.69 246.92 297.34 247.08 298.57 247.56C299.80 248.04 300.92 248.90 301.45 249.80C301.98 250.71 301.93 251.94 301.77 253.00C301.61 254.07 301.13 255.56 300.49 256.20C299.85 256.84 299.00 256.90 297.93 256.84C296.86 256.79 295.37 256.31 294.09 255.88C292.81 255.46 291.32 254.92 290.25 254.28C289.18 253.64 288.22 252.90 287.69 252.04C287.16 251.19 286.84 249.91 287.05 249.16Z" fill="#515151" stroke="#515151" stroke-width="0.35" opacity="0.22"/>
<path d="M287.05 249.16C287.26 248.42 287.80 247.94 288.97 247.56C290.14 247.19 292.49 246.92 294.09 246.92C295.69 246.92 297.34 247.08 298.57 247.56C299.80 248.04 300.92 248.90 301.45 249.80C301.98 250.71 301.93 251.94 301.77 253.00C301.61 254.07 301.13 255.56 300.49 256.20C299.85 256.84 299.00 256.90 297.93 256.84C296.86 256.79 295.37 256.31 294.09 255.88C292.81 255.46 291.32 254.92 290.25 254.28C289.18 253.64 288.22 252.90 287.69 252.04C287.16 251.19 286.84 249.91 287.05 249.16Z" fill="none" stroke="#515151" stroke-width="0.35" opacity="0.9"/>
<path d="M287.98 249.33C288.15 248.72 288.59 248.33 289.54 248.03C290.49 247.72 292.40 247.51 293.70 247.51C295.00 247.51 296.34 247.64 297.34 248.03C298.34 248.42 299.25 249.11 299.68 249.85C300.11 250.58 300.07 251.58 299.94 252.45C299.81 253.31 299.42 254.53 298.90 255.05C298.38 255.57 297.69 255.61 296.82 255.57C295.95 255.52 294.74 255.13 293.70 254.79C292.66 254.44 291.45 254.01 290.58 253.49C289.71 252.97 288.93 252.36 288.50 251.67C288.07 250.97 287.81 249.93 287.98 249.33Z" fill="#515151" stroke="#515151" stroke-width="0.35" opacity="0.24"/>
<path d="M287.98 249.33C288.15 248.72 288.59 248.33 289.54 248.03C290.49 247.72 292.40 247.51 293.70 247.51C295.00 247.51 296.34 247.64 297.34 248.03C298.34 248.42 299.25 249.11 299.68 249.85C300.11 250.58 300.07 251.58 299.94 252.45C299.81 253.31 299.42 254.53 298.90 255.05C298.38 255.57 297.69 255.61 296.82 255.57C295.95 255.52 294.74 255.13 293.70 254.79C292.66 254.44 291.45 254.01 290.58 253.49C289.71 252.97 288.93 252.36 288.50 251.67C288.07 250.97 287.81 249.93 287.98 249.33Z" fill="none" stroke="#515151" stroke-width="0.35" opacity="0.9"/>
<path d="M288.85 249.46C288.98 248.99 289.32 248.69 290.05 248.46C290.78 248.23 292.25 248.06 293.25 248.06C294.25 248.06 295.28 248.16 296.05 248.46C296.82 248.76 297.52 249.29 297.85 249.86C298.18 250.43 298.15 251.19 298.05 251.86C297.95 252.53 297.65 253.46 297.25 253.86C296.85 254.26 296.32 254.29 295.65 254.26C294.98 254.23 294.05 253.93 293.25 253.66C292.45 253.39 291.52 253.06 290.85 252.66C290.18 252.26 289.58 251.79 289.25 251.26C288.92 250.73 288.72 249.93 288.85 249.46Z" fill="#515151" stroke="#515151" stroke-width="0.35" opacity="0.26"/>
<path d="M288.85 249.46C288.98 248.99 289.32 248.69 290.05 248.46C290.78 248.23 292.25 248.06 293.25 248.06C294.25 248.06 295.28 248.16 296.05 248.46C296.82 248.76 297.52 249.29 297.85 249.86C298.18 250.43 298.15 251.19 298.05 251.86C297.95 252.53 297.65 253.46 297.25 253.86C296.85 254.26 296.32 254.29 295.65 254.26C294.98 254.23 294.05 253.93 293.25 253.66C292.45 253.39 291.52 253.06 290.85 252.66C290.18 252.26 289.58 251.79 289.25 251.26C288.92 250.73 288.72 249.93 288.85 249.46Z" fill="none" stroke="#515151" stroke-width="0.35" opacity="0.9"/>
<path d="M289.66 249.57C289.75 249.24 289.99 249.03 290.50 248.87C291.01 248.70 292.04 248.59 292.74 248.59C293.44 248.59 294.16 248.66 294.70 248.87C295.24 249.08 295.73 249.45 295.96 249.85C296.19 250.24 296.17 250.78 296.10 251.25C296.03 251.71 295.82 252.37 295.54 252.65C295.26 252.93 294.89 252.95 294.42 252.93C293.95 252.90 293.30 252.69 292.74 252.51C292.18 252.32 291.53 252.09 291.06 251.81C290.59 251.53 290.17 251.20 289.94 250.83C289.71 250.45 289.57 249.89 289.66 249.57Z" fill="#515151" stroke="#515151" stroke-width="0.35" opacity="0.28"/>
<path d="M289.66 249.57C289.75 249.24 289.99 249.03 290.50 248.87C291.01 248.70 292.04 248.59 292.74 248.59C293.44 248.59 294.16 248.66 294.70 248.87C295.24 249.08 295.73 249.45 295.96 249.85C296.19 250.24 296.17 250.78 296.10 251.25C296.03 251.71 295.82 252.37 295.54 252.65C295.26 252.93 294.89 252.95 294.42 252.93C293.95 252.90 293.30 252.69 292.74 252.51C292.18 252.32 291.53 252.09 291.06 251.81C290.59 251.53 290.17 251.20 289.94 250.83C289.71 250.45 289.57 249.89 289.66 249.57Z" fill="none" stroke="#515151" stroke-width="0.35" opacity="0.9"/>
<ellipse cx="292.40" cy="249.30" rx="6.33" ry="2.20" transform="rotate(4 292.40 249.30)" fill="#515151" stroke="none" stroke-width="0" opacity="0.34"/>
<ellipse cx="301.70" cy="273.50" rx="1.10" ry="1.50" transform="rotate(0 301.70 273.50)" fill="none" stroke="#666" stroke-width="0.3"/>
<text x="195.20" y="280.43" font-size="6.75" font-weight="bold" fill="#222" text-anchor="middle" transform="rotate(-90 195.20 278.00)">CD62L</text>
<line x1="194.90" y1="263.80" x2="194.90" y2="193.10" stroke="#3c3c3c" stroke-width="1.1"/>
<polygon points="194.90,189.50 197.80,194.50 194.90,193.10 192.00,194.50" fill="#111"/>
<text x="221.90" y="305.35" font-size="6.8" font-weight="bold" fill="#222" text-anchor="middle">CD45RO</text>
<line x1="239.00" y1="303.30" x2="315.20" y2="303.30" stroke="#3c3c3c" stroke-width="1.1"/>
<polygon points="318.80,303.30 313.80,306.20 315.20,303.30 313.80,300.40" fill="#111"/>
</g>
<g id="panelE">
<text x="346.00" y="168.20" font-size="15.7" font-weight="bold" fill="#000" text-anchor="middle">E</text>
<text x="390.80" y="161.71" font-size="6.7" fill="#444" text-anchor="middle">Class 1</text>
<text x="460.90" y="161.71" font-size="6.7" fill="#444" text-anchor="middle">Class 2</text>
<rect x="360.20" y="164.80" width="61.20" height="129.90" fill="none" stroke="#dc4a5a" stroke-width="1.3"/>
<rect x="425.60" y="164.80" width="61.20" height="129.80" fill="none" stroke="#3aad74" stroke-width="1.3"/>
<line x1="366.80" y1="173.60" x2="366.80" y2="223.60" stroke="#999" stroke-width="0.5"/>
<line x1="370.80" y1="224.20" x2="418.20" y2="224.20" stroke="#999" stroke-width="0.4"/>
<line x1="364.90" y1="177.60" x2="366.80" y2="177.60" stroke="#333" stroke-width="0.6"/>
<text x="363.20" y="177.45" font-size="1.8" fill="#999" text-anchor="middle" transform="rotate(-45 363.20 176.80)">10</text>
<line x1="364.90" y1="186.93" x2="366.80" y2="186.93" stroke="#333" stroke-width="0.6"/>
<text x="363.20" y="186.78" font-size="1.8" fill="#999" text-anchor="middle" transform="rotate(-45 363.20 186.13)">10</text>
<line x1="364.90" y1="196.27" x2="366.80" y2="196.27" stroke="#333" stroke-width="0.6"/>
<text x="363.20" y="196.11" font-size="1.8" fill="#999" text-anchor="middle" transform="rotate(-45 363.20 195.47)">10</text>
<line x1="364.90" y1="205.60" x2="366.80" y2="205.60" stroke="#333" stroke-width="0.6"/>
<text x="363.20" y="205.45" font-size="1.8" fill="#999" text-anchor="middle" transform="rotate(-45 363.20 204.80)">10</text>
<rect x="365.50" y="211.20" width="1.30" height="1.70" fill="#111" stroke="none" stroke-width="1"/>
<path d="M365.60 214.60h1.2M365.60 217.80h1.2M365.60 221.00h1.2" stroke="#555" stroke-width="0.45" fill="none"/>
<path d="M371.80 224.20v1.2M375.40 224.20v1.2M377.40 224.20v1.2M379.40 224.20v1.2M380.80 224.20v1.2M383.60 224.20v1.2M385.60 224.20v1.2M389.20 224.20v1.2M392.80 224.20v1.2M396.40 224.20v1.2M400.00 224.20v1.2M402.80 224.20v1.2M405.60 224.20v1.2M408.40 224.20v1.2M411.20 224.20v1.2M412.60 224.20v1.2M415.40 224.20v1.2" stroke="#444" stroke-width="0.45" fill="none" opacity="0.8"/>
<rect x="377.80" y="223.90" width="2.60" height="1.30" fill="#111" stroke="none" stroke-width="1"/>
<text x="373.80" y="228.45" font-size="1.8" fill="#c88" text-anchor="middle" transform="rotate(-45 373.80 227.80)">10</text>
<text x="387.80" y="228.45" font-size="1.8" fill="#999" text-anchor="middle" transform="rotate(-45 387.80 227.80)">10</text>
<text x="401.80" y="228.45" font-size="1.8" fill="#8ac" text-anchor="middle" transform="rotate(-45 401.80 227.80)">10</text>
<text x="414.80" y="228.45" font-size="1.8" fill="#ca8" text-anchor="middle" transform="rotate(-45 414.80 227.80)">10</text>
<line x1="386.60" y1="174.10" x2="386.60" y2="224.10" stroke="#222" stroke-width="0.75"/>
<line x1="366.80" y1="207.60" x2="418.20" y2="207.60" stroke="#444" stroke-width="0.6"/>
<text x="391.50" y="173.32" font-size="7" font-weight="bold" fill="#d01f2e" text-anchor="middle">CAR 17</text>
<text x="368.50" y="180.37" font-size="5.2" font-weight="bold" fill="#161616" text-anchor="start">0.82</text>
<text x="416.80" y="180.37" font-size="5.2" font-weight="bold" fill="#161616" text-anchor="end">30.3</text>
<text x="368.50" y="221.77" font-size="5.2" font-weight="bold" fill="#161616" text-anchor="start">13.9</text>
<text x="416.80" y="221.77" font-size="5.2" font-weight="bold" fill="#161616" text-anchor="end">55.0</text>
<line x1="431.20" y1="173.60" x2="431.20" y2="223.60" stroke="#999" stroke-width="0.5"/>
<line x1="435.20" y1="224.20" x2="482.60" y2="224.20" stroke="#999" stroke-width="0.4"/>
<line x1="429.30" y1="177.60" x2="431.20" y2="177.60" stroke="#333" stroke-width="0.6"/>
<text x="427.60" y="177.45" font-size="1.8" fill="#999" text-anchor="middle" transform="rotate(-45 427.60 176.80)">10</text>
<line x1="429.30" y1="187.07" x2="431.20" y2="187.07" stroke="#333" stroke-width="0.6"/>
<text x="427.60" y="186.91" font-size="1.8" fill="#999" text-anchor="middle" transform="rotate(-45 427.60 186.27)">10</text>
<line x1="429.30" y1="196.53" x2="431.20" y2="196.53" stroke="#333" stroke-width="0.6"/>
<text x="427.60" y="196.38" font-size="1.8" fill="#999" text-anchor="middle" transform="rotate(-45 427.60 195.73)">10</text>
<line x1="429.30" y1="206.00" x2="431.20" y2="206.00" stroke="#333" stroke-width="0.6"/>
<text x="427.60" y="205.85" font-size="1.8" fill="#999" text-anchor="middle" transform="rotate(-45 427.60 205.20)">10</text>
<rect x="429.90" y="211.60" width="1.30" height="1.70" fill="#111" stroke="none" stroke-width="1"/>
<path d="M430.00 215.00h1.2M430.00 217.00h1.2M430.00 220.20h1.2" stroke="#555" stroke-width="0.45" fill="none"/>
<path d="M436.20 224.20v1.2M439.80 224.20v1.2M441.80 224.20v1.2M445.40 224.20v1.2M449.00 224.20v1.2M452.60 224.20v1.2M454.60 224.20v1.2M458.20 224.20v1.2M461.00 224.20v1.2M462.40 224.20v1.2M465.20 224.20v1.2M468.00 224.20v1.2M470.80 224.20v1.2M474.40 224.20v1.2M476.40 224.20v1.2M477.80 224.20v1.2" stroke="#444" stroke-width="0.45" fill="none" opacity="0.8"/>
<rect x="442.20" y="223.90" width="2.60" height="1.30" fill="#111" stroke="none" stroke-width="1"/>
<text x="438.20" y="228.45" font-size="1.8" fill="#c88" text-anchor="middle" transform="rotate(-45 438.20 227.80)">10</text>
<text x="452.20" y="228.45" font-size="1.8" fill="#999" text-anchor="middle" transform="rotate(-45 452.20 227.80)">10</text>
<text x="466.20" y="228.45" font-size="1.8" fill="#8ac" text-anchor="middle" transform="rotate(-45 466.20 227.80)">10</text>
<text x="479.20" y="228.45" font-size="1.8" fill="#ca8" text-anchor="middle" transform="rotate(-45 479.20 227.80)">10</text>
<line x1="451.40" y1="174.10" x2="451.40" y2="224.10" stroke="#222" stroke-width="0.75"/>
<line x1="431.20" y1="208.00" x2="482.60" y2="208.00" stroke="#444" stroke-width="0.6"/>
<text x="458.00" y="173.32" font-size="7" font-weight="bold" fill="#1c8f50" text-anchor="middle">CAR 1</text>
<text x="433.50" y="180.37" font-size="5.2" font-weight="bold" fill="#161616" text-anchor="start">0.28</text>
<text x="481.20" y="180.37" font-size="5.2" font-weight="bold" fill="#161616" text-anchor="end">12.4</text>
<text x="433.50" y="221.77" font-size="5.2" font-weight="bold" fill="#161616" text-anchor="start">22.2</text>
<text x="481.20" y="221.77" font-size="5.2" font-weight="bold" fill="#161616" text-anchor="end">65.1</text>
<line x1="366.80" y1="238.30" x2="366.80" y2="288.30" stroke="#999" stroke-width="0.5"/>
<line x1="370.80" y1="288.90" x2="418.20" y2="288.90" stroke="#999" stroke-width="0.4"/>
<line x1="364.90" y1="242.30" x2="366.80" y2="242.30" stroke="#333" stroke-width="0.6"/>
<text x="363.20" y="242.15" font-size="1.8" fill="#999" text-anchor="middle" transform="rotate(-45 363.20 241.50)">10</text>
<line x1="364.90" y1="251.63" x2="366.80" y2="251.63" stroke="#333" stroke-width="0.6"/>
<text x="363.20" y="251.48" font-size="1.8" fill="#999" text-anchor="middle" transform="rotate(-45 363.20 250.83)">10</text>
<line x1="364.90" y1="260.97" x2="366.80" y2="260.97" stroke="#333" stroke-width="0.6"/>
<text x="363.20" y="260.81" font-size="1.8" fill="#999" text-anchor="middle" transform="rotate(-45 363.20 260.17)">10</text>
<line x1="364.90" y1="270.30" x2="366.80" y2="270.30" stroke="#333" stroke-width="0.6"/>
<text x="363.20" y="270.15" font-size="1.8" fill="#999" text-anchor="middle" transform="rotate(-45 363.20 269.50)">10</text>
<rect x="365.50" y="275.90" width="1.30" height="1.70" fill="#111" stroke="none" stroke-width="1"/>
<path d="M365.60 279.30h1.2M365.60 281.30h1.2M365.60 284.50h1.2M365.60 286.50h1.2" stroke="#555" stroke-width="0.45" fill="none"/>
<path d="M371.80 288.90v1.2M375.40 288.90v1.2M378.20 288.90v1.2M379.60 288.90v1.2M383.20 288.90v1.2M386.80 288.90v1.2M388.80 288.90v1.2M390.80 288.90v1.2M393.60 288.90v1.2M395.00 288.90v1.2M398.60 288.90v1.2M402.20 288.90v1.2M404.20 288.90v1.2M407.00 288.90v1.2M408.40 288.90v1.2M412.00 288.90v1.2M415.60 288.90v1.2" stroke="#444" stroke-width="0.45" fill="none" opacity="0.8"/>
<rect x="377.80" y="288.60" width="2.60" height="1.30" fill="#111" stroke="none" stroke-width="1"/>
<text x="373.80" y="293.15" font-size="1.8" fill="#c88" text-anchor="middle" transform="rotate(-45 373.80 292.50)">10</text>
<text x="387.80" y="293.15" font-size="1.8" fill="#999" text-anchor="middle" transform="rotate(-45 387.80 292.50)">10</text>
<text x="401.80" y="293.15" font-size="1.8" fill="#8ac" text-anchor="middle" transform="rotate(-45 401.80 292.50)">10</text>
<text x="414.80" y="293.15" font-size="1.8" fill="#ca8" text-anchor="middle" transform="rotate(-45 414.80 292.50)">10</text>
<line x1="386.60" y1="238.80" x2="386.60" y2="288.80" stroke="#222" stroke-width="0.75"/>
<line x1="366.80" y1="272.30" x2="418.20" y2="272.30" stroke="#444" stroke-width="0.6"/>
<text x="392.40" y="237.92" font-size="7" font-weight="bold" fill="#ee6a36" text-anchor="middle">CAR 23</text>
<text x="368.50" y="245.67" font-size="5.2" font-weight="bold" fill="#161616" text-anchor="start">1.65</text>
<text x="416.80" y="245.67" font-size="5.2" font-weight="bold" fill="#161616" text-anchor="end">42.7</text>
<text x="368.50" y="286.47" font-size="5.2" font-weight="bold" fill="#161616" text-anchor="start">12.7</text>
<text x="416.80" y="286.47" font-size="5.2" font-weight="bold" fill="#161616" text-anchor="end">43.0</text>
<line x1="431.20" y1="238.30" x2="431.20" y2="288.30" stroke="#999" stroke-width="0.5"/>
<line x1="435.20" y1="288.90" x2="482.60" y2="288.90" stroke="#999" stroke-width="0.4"/>
<line x1="429.30" y1="242.30" x2="431.20" y2="242.30" stroke="#333" stroke-width="0.6"/>
<text x="427.60" y="242.15" font-size="1.8" fill="#999" text-anchor="middle" transform="rotate(-45 427.60 241.50)">10</text>
<line x1="429.30" y1="251.77" x2="431.20" y2="251.77" stroke="#333" stroke-width="0.6"/>
<text x="427.60" y="251.61" font-size="1.8" fill="#999" text-anchor="middle" transform="rotate(-45 427.60 250.97)">10</text>
<line x1="429.30" y1="261.23" x2="431.20" y2="261.23" stroke="#333" stroke-width="0.6"/>
<text x="427.60" y="261.08" font-size="1.8" fill="#999" text-anchor="middle" transform="rotate(-45 427.60 260.43)">10</text>
<line x1="429.30" y1="270.70" x2="431.20" y2="270.70" stroke="#333" stroke-width="0.6"/>
<text x="427.60" y="270.55" font-size="1.8" fill="#999" text-anchor="middle" transform="rotate(-45 427.60 269.90)">10</text>
<rect x="429.90" y="276.30" width="1.30" height="1.70" fill="#111" stroke="none" stroke-width="1"/>
<path d="M430.00 279.70h1.2M430.00 282.90h1.2M430.00 285.50h1.2" stroke="#555" stroke-width="0.45" fill="none"/>
<path d="M436.20 288.90v1.2M438.20 288.90v1.2M441.80 288.90v1.2M444.60 288.90v1.2M447.40 288.90v1.2M451.00 288.90v1.2M453.00 288.90v1.2M455.00 288.90v1.2M457.00 288.90v1.2M459.00 288.90v1.2M460.40 288.90v1.2M462.40 288.90v1.2M465.20 288.90v1.2M468.00 288.90v1.2M470.80 288.90v1.2M474.40 288.90v1.2M476.40 288.90v1.2M478.40 288.90v1.2M479.80 288.90v1.2" stroke="#444" stroke-width="0.45" fill="none" opacity="0.8"/>
<rect x="442.20" y="288.60" width="2.60" height="1.30" fill="#111" stroke="none" stroke-width="1"/>
<text x="438.20" y="293.15" font-size="1.8" fill="#c88" text-anchor="middle" transform="rotate(-45 438.20 292.50)">10</text>
<text x="452.20" y="293.15" font-size="1.8" fill="#999" text-anchor="middle" transform="rotate(-45 452.20 292.50)">10</text>
<text x="466.20" y="293.15" font-size="1.8" fill="#8ac" text-anchor="middle" transform="rotate(-45 466.20 292.50)">10</text>
<text x="479.20" y="293.15" font-size="1.8" fill="#ca8" text-anchor="middle" transform="rotate(-45 479.20 292.50)">10</text>
<line x1="451.40" y1="238.80" x2="451.40" y2="288.80" stroke="#222" stroke-width="0.75"/>
<line x1="431.20" y1="272.70" x2="482.60" y2="272.70" stroke="#444" stroke-width="0.6"/>
<text x="456.70" y="237.92" font-size="7" font-weight="bold" fill="#26348c" text-anchor="middle">CAR 24</text>
<text x="433.50" y="245.67" font-size="5.2" font-weight="bold" fill="#161616" text-anchor="start">0.70</text>
<text x="481.20" y="245.67" font-size="5.2" font-weight="bold" fill="#161616" text-anchor="end">6.95</text>
<text x="433.50" y="286.47" font-size="5.2" font-weight="bold" fill="#161616" text-anchor="start">24.4</text>
<text x="481.20" y="286.47" font-size="5.2" font-weight="bold" fill="#161616" text-anchor="end">67.9</text>
<path d="M378.00 210.00C378.67 209.43 381.33 208.73 384.00 208.40C386.67 208.07 390.83 208.30 394.00 208.00C397.17 207.70 400.50 206.60 403.00 206.60C405.50 206.60 408.50 207.30 409.00 208.00C409.50 208.70 408.00 210.10 406.00 210.80C404.00 211.50 400.00 211.90 397.00 212.20C394.00 212.50 390.83 212.67 388.00 212.60C385.17 212.53 381.67 212.23 380.00 211.80C378.33 211.37 377.33 210.57 378.00 210.00Z" fill="#777" stroke="#666" stroke-width="0.4" opacity="0.28"/>
<path d="M378.00 210.00C378.67 209.43 381.33 208.73 384.00 208.40C386.67 208.07 390.83 208.30 394.00 208.00C397.17 207.70 400.50 206.60 403.00 206.60C405.50 206.60 408.50 207.30 409.00 208.00C409.50 208.70 408.00 210.10 406.00 210.80C404.00 211.50 400.00 211.90 397.00 212.20C394.00 212.50 390.83 212.67 388.00 212.60C385.17 212.53 381.67 212.23 380.00 211.80C378.33 211.37 377.33 210.57 378.00 210.00Z" fill="none" stroke="#555" stroke-width="0.35" opacity="0.75"/>
<path d="M381.70 210.04C382.23 209.59 384.37 209.03 386.50 208.76C388.63 208.49 391.97 208.68 394.50 208.44C397.03 208.20 399.70 207.32 401.70 207.32C403.70 207.32 406.10 207.88 406.50 208.44C406.90 209.00 405.70 210.12 404.10 210.68C402.50 211.24 399.30 211.56 396.90 211.80C394.50 212.04 391.97 212.17 389.70 212.12C387.43 212.07 384.63 211.83 383.30 211.48C381.97 211.13 381.17 210.49 381.70 210.04Z" fill="none" stroke="#555" stroke-width="0.35" opacity="0.75"/>
<line x1="382.00" y1="212.10" x2="401.00" y2="211.40" stroke="#333" stroke-width="0.5"/>
<path d="M387.00 207.20C385.67 206.48 390.92 204.92 393.00 203.30C395.08 201.68 397.42 199.30 399.50 197.50C401.58 195.70 403.67 192.33 405.50 192.50C407.33 192.67 409.42 196.78 410.50 198.50C411.58 200.22 411.67 201.38 412.00 202.80C412.33 204.22 414.33 206.20 412.50 207.00C410.67 207.80 405.25 207.57 401.00 207.60C396.75 207.63 388.33 207.92 387.00 207.20Z" fill="none" stroke="#888" stroke-width="0.3" opacity="0.4675"/>
<path d="M390.85 206.23C389.81 205.67 393.90 204.45 395.53 203.19C397.15 201.93 398.98 200.07 400.60 198.67C402.23 197.26 403.85 194.64 405.28 194.77C406.71 194.90 408.33 198.11 409.18 199.45C410.03 200.78 410.09 201.70 410.35 202.80C410.61 203.91 412.17 205.45 410.74 206.08C409.31 206.70 405.08 206.52 401.77 206.54C398.45 206.57 391.89 206.79 390.85 206.23Z" fill="none" stroke="#888" stroke-width="0.3" opacity="0.595"/>
<path d="M394.88 205.22C394.14 204.83 397.03 203.96 398.18 203.08C399.32 202.19 400.60 200.88 401.75 199.88C402.90 198.89 404.04 197.04 405.05 197.13C406.06 197.23 407.20 199.49 407.80 200.44C408.40 201.38 408.44 202.02 408.62 202.80C408.81 203.58 409.91 204.67 408.90 205.11C407.89 205.55 404.91 205.42 402.57 205.44C400.24 205.46 395.61 205.61 394.88 205.22Z" fill="none" stroke="#888" stroke-width="0.3" opacity="0.68"/>
<path d="M387.00 207.20C385.67 206.48 390.92 204.92 393.00 203.30C395.08 201.68 397.42 199.30 399.50 197.50C401.58 195.70 403.67 192.33 405.50 192.50C407.33 192.67 409.42 196.78 410.50 198.50C411.58 200.22 411.67 201.38 412.00 202.80C412.33 204.22 414.33 206.20 412.50 207.00C410.67 207.80 405.25 207.57 401.00 207.60C396.75 207.63 388.33 207.92 387.00 207.20Z" fill="#888" stroke="none" stroke-width="0" opacity="0.08"/>
<path d="M403.5 202.4h.01M403.5 195.5h.01M403.8 204.5h.01M415.6 195.3h.01M398.8 203.1h.01M402.2 192.3h.01M400.6 189.9h.01M405.2 200.5h.01M406.3 200.3h.01M395.4 201.0h.01M409.8 193.4h.01M399.3 198.9h.01M408.4 195.5h.01M394.8 196.1h.01M402.2 204.3h.01M411.2 193.3h.01M409.1 197.7h.01M409.5 189.6h.01M414.0 196.7h.01M397.3 196.5h.01M413.9 202.4h.01M399.9 196.4h.01M403.3 196.7h.01M406.0 202.0h.01M407.9 201.0h.01M403.5 198.5h.01M406.2 200.5h.01M411.4 206.9h.01M405.9 195.8h.01M415.5 199.6h.01M398.6 197.8h.01M404.4 192.3h.01M408.0 200.3h.01M400.4 195.0h.01M405.9 194.5h.01M409.8 201.4h.01M404.3 203.0h.01M404.9 206.6h.01M406.8 197.4h.01M400.7 197.1h.01M405.6 203.1h.01M401.6 210.5h.01M406.1 196.8h.01M405.6 196.8h.01M406.1 206.2h.01M403.9 194.6h.01M412.7 194.5h.01M410.5 203.3h.01M408.5 203.5h.01M412.1 204.0h.01M406.2 200.5h.01M398.3 198.5h.01M410.4 204.5h.01M403.9 193.0h.01M412.7 197.9h.01M402.9 197.3h.01M403.9 209.2h.01M403.2 200.0h.01M397.7 204.4h.01M411.1 203.7h.01M409.9 201.8h.01M410.8 195.7h.01M401.0 200.8h.01M404.0 191.1h.01M400.0 194.7h.01M415.7 197.2h.01M398.2 203.1h.01M402.8 199.7h.01M406.6 201.6h.01M407.8 204.9h.01M411.7 199.4h.01M412.0 195.8h.01M398.0 201.9h.01M406.3 192.8h.01M411.2 200.5h.01M405.5 202.1h.01M412.8 201.6h.01M412.1 201.9h.01M413.7 203.7h.01M401.6 205.9h.01M397.4 202.0h.01M402.9 194.6h.01M404.1 206.7h.01M403.0 189.1h.01M404.8 196.9h.01M410.8 193.1h.01M400.3 205.3h.01M402.0 200.0h.01M403.4 199.7h.01M412.7 192.3h.01M394.6 196.5h.01M405.2 197.4h.01M407.3 205.4h.01M394.6 202.0h.01M407.7 204.8h.01M408.0 195.6h.01M401.2 198.0h.01M409.2 194.6h.01M399.7 203.3h.01M407.7 199.8h.01M402.2 203.3h.01M413.0 199.0h.01M396.6 198.2h.01M410.4 204.2h.01M396.9 201.1h.01M404.9 203.2h.01M398.6 202.0h.01M410.8 196.0h.01M408.4 204.8h.01M406.8 207.2h.01M403.4 196.4h.01M406.0 194.2h.01M401.7 205.8h.01M410.1 199.8h.01M402.6 196.4h.01M403.1 207.3h.01M405.9 190.5h.01M399.5 191.8h.01M396.7 205.2h.01M406.7 195.6h.01" stroke="#555" stroke-width="0.36" stroke-linecap="round" fill="none" opacity="0.5"/>
<path d="M377.50 274.50C378.17 273.93 380.83 273.23 383.50 272.90C386.17 272.57 390.17 272.80 393.50 272.50C396.83 272.20 400.83 271.10 403.50 271.10C406.17 271.10 409.00 271.80 409.50 272.50C410.00 273.20 408.50 274.60 406.50 275.30C404.50 276.00 400.67 276.40 397.50 276.70C394.33 277.00 390.50 277.17 387.50 277.10C384.50 277.03 381.17 276.73 379.50 276.30C377.83 275.87 376.83 275.07 377.50 274.50Z" fill="#777" stroke="#666" stroke-width="0.4" opacity="0.28"/>
<path d="M377.50 274.50C378.17 273.93 380.83 273.23 383.50 272.90C386.17 272.57 390.17 272.80 393.50 272.50C396.83 272.20 400.83 271.10 403.50 271.10C406.17 271.10 409.00 271.80 409.50 272.50C410.00 273.20 408.50 274.60 406.50 275.30C404.50 276.00 400.67 276.40 397.50 276.70C394.33 277.00 390.50 277.17 387.50 277.10C384.50 277.03 381.17 276.73 379.50 276.30C377.83 275.87 376.83 275.07 377.50 274.50Z" fill="none" stroke="#555" stroke-width="0.35" opacity="0.75"/>
<path d="M381.30 274.54C381.83 274.09 383.97 273.53 386.10 273.26C388.23 272.99 391.43 273.18 394.10 272.94C396.77 272.70 399.97 271.82 402.10 271.82C404.23 271.82 406.50 272.38 406.90 272.94C407.30 273.50 406.10 274.62 404.50 275.18C402.90 275.74 399.83 276.06 397.30 276.30C394.77 276.54 391.70 276.67 389.30 276.62C386.90 276.57 384.23 276.33 382.90 275.98C381.57 275.63 380.77 274.99 381.30 274.54Z" fill="none" stroke="#555" stroke-width="0.35" opacity="0.75"/>
<line x1="381.50" y1="276.60" x2="401.50" y2="275.90" stroke="#333" stroke-width="0.5"/>
<path d="M387.50 271.70C386.17 270.98 391.42 269.67 393.50 267.80C395.58 265.93 397.92 262.55 400.00 260.50C402.08 258.45 404.17 255.33 406.00 255.50C407.83 255.67 409.92 259.53 411.00 261.50C412.08 263.47 412.17 265.63 412.50 267.30C412.83 268.97 414.83 270.70 413.00 271.50C411.17 272.30 405.75 272.07 401.50 272.10C397.25 272.13 388.83 272.42 387.50 271.70Z" fill="none" stroke="#888" stroke-width="0.3" opacity="0.4675"/>
<path d="M391.35 270.73C390.31 270.17 394.40 269.15 396.03 267.69C397.65 266.23 399.48 263.59 401.10 262.00C402.73 260.40 404.35 257.97 405.78 258.10C407.21 258.23 408.83 261.24 409.68 262.78C410.53 264.31 410.59 266.00 410.85 267.30C411.11 268.60 412.67 269.95 411.24 270.58C409.81 271.20 405.58 271.02 402.27 271.04C398.95 271.07 392.39 271.29 391.35 270.73Z" fill="none" stroke="#888" stroke-width="0.3" opacity="0.595"/>
<path d="M395.38 269.72C394.64 269.33 397.53 268.60 398.68 267.57C399.82 266.55 401.10 264.69 402.25 263.56C403.40 262.43 404.54 260.72 405.55 260.81C406.56 260.90 407.70 263.03 408.30 264.11C408.90 265.19 408.94 266.38 409.12 267.30C409.31 268.22 410.41 269.17 409.40 269.61C408.39 270.05 405.41 269.92 403.07 269.94C400.74 269.96 396.11 270.11 395.38 269.72Z" fill="none" stroke="#888" stroke-width="0.3" opacity="0.68"/>
<path d="M387.50 271.70C386.17 270.98 391.42 269.67 393.50 267.80C395.58 265.93 397.92 262.55 400.00 260.50C402.08 258.45 404.17 255.33 406.00 255.50C407.83 255.67 409.92 259.53 411.00 261.50C412.08 263.47 412.17 265.63 412.50 267.30C412.83 268.97 414.83 270.70 413.00 271.50C411.17 272.30 405.75 272.07 401.50 272.10C397.25 272.13 388.83 272.42 387.50 271.70Z" fill="#888" stroke="none" stroke-width="0" opacity="0.08"/>
<path d="M413.2 258.4h.01M396.1 268.2h.01M399.4 271.6h.01M399.1 262.3h.01M399.3 268.3h.01M402.2 269.3h.01M405.3 272.5h.01M399.9 265.9h.01M405.5 266.5h.01M401.5 263.1h.01M405.2 272.9h.01M408.2 259.8h.01M405.4 262.2h.01M396.7 264.2h.01M402.1 255.2h.01M397.7 266.2h.01M402.6 268.5h.01M403.4 272.8h.01M402.2 264.0h.01M401.5 269.7h.01M408.2 253.9h.01M398.7 270.3h.01M404.1 270.8h.01M410.7 266.0h.01M405.0 257.3h.01M408.9 254.4h.01M412.8 257.8h.01M409.7 265.0h.01M401.6 264.7h.01M398.1 261.2h.01M410.5 259.4h.01M400.9 269.9h.01M404.6 262.6h.01M405.8 255.1h.01M410.3 267.1h.01M408.0 269.8h.01M411.4 259.1h.01M409.2 263.7h.01M407.7 263.2h.01M396.0 266.7h.01M404.8 261.1h.01M402.9 257.6h.01M404.4 266.4h.01M414.7 263.4h.01M404.1 268.9h.01M414.7 260.8h.01M410.2 258.0h.01M406.2 264.9h.01M406.2 256.7h.01M404.6 257.5h.01M411.3 257.0h.01M408.4 268.2h.01M409.0 267.4h.01M398.4 267.5h.01M409.2 265.3h.01M409.4 259.3h.01M411.7 263.9h.01M404.0 264.8h.01M405.0 257.9h.01M408.5 265.5h.01M412.3 260.4h.01M411.1 265.5h.01M407.7 269.4h.01M398.0 270.8h.01M410.7 265.5h.01M402.3 270.8h.01M409.4 258.3h.01M402.2 265.8h.01M408.9 271.1h.01M403.7 267.8h.01M410.1 268.0h.01M398.9 265.9h.01M402.8 257.2h.01M399.7 263.6h.01M409.8 262.8h.01M405.2 269.3h.01M399.0 263.9h.01M405.4 265.1h.01M407.3 265.7h.01M407.0 269.5h.01M401.6 253.4h.01M408.9 263.9h.01M398.9 259.1h.01M400.4 270.4h.01M409.0 269.7h.01M401.6 262.1h.01M409.8 254.9h.01M406.7 262.4h.01M408.8 266.0h.01M410.8 261.1h.01M412.5 267.7h.01M401.9 259.6h.01M401.4 260.5h.01M405.4 255.3h.01M414.5 260.2h.01M409.0 261.9h.01M403.8 258.0h.01M403.5 260.4h.01M400.9 271.8h.01M406.0 266.1h.01M399.0 271.5h.01M400.0 255.6h.01M403.2 264.7h.01M399.9 269.8h.01M411.6 264.4h.01M399.4 258.0h.01M394.7 265.6h.01M401.1 264.0h.01M403.9 268.2h.01M405.4 266.7h.01M401.4 260.9h.01M397.6 266.3h.01M404.0 269.0h.01M411.4 265.0h.01M404.4 255.2h.01M412.1 266.7h.01M397.5 269.8h.01M409.9 263.6h.01M406.5 264.3h.01M410.9 267.7h.01" stroke="#555" stroke-width="0.36" stroke-linecap="round" fill="none" opacity="0.5"/>
<ellipse cx="458.05" cy="210.50" rx="15.55" ry="2.40" transform="rotate(-3 458.05 210.50)" fill="none" stroke="#0c0c0c" stroke-width="0.35"/>
<ellipse cx="458.05" cy="210.50" rx="14.46" ry="1.92" transform="rotate(-3 458.05 210.50)" fill="none" stroke="#0c0c0c" stroke-width="0.35"/>
<ellipse cx="458.05" cy="210.50" rx="13.37" ry="1.44" transform="rotate(-3 458.05 210.50)" fill="none" stroke="#0c0c0c" stroke-width="0.35"/>
<ellipse cx="458.05" cy="210.50" rx="12.28" ry="0.96" transform="rotate(-3 458.05 210.50)" fill="none" stroke="#0c0c0c" stroke-width="0.35"/>
<ellipse cx="458.05" cy="210.50" rx="14.00" ry="1.80" transform="rotate(-3 458.05 210.50)" fill="#0c0c0c" stroke="none" stroke-width="0" opacity="0.475"/>
<path d="M470.9 203.3h.01M464.9 205.2h.01M476.0 198.5h.01M475.5 202.5h.01M462.9 202.9h.01M463.0 205.4h.01M475.2 198.7h.01M457.3 200.3h.01M467.3 205.4h.01M475.4 199.6h.01M466.3 206.1h.01M467.9 195.9h.01M464.7 194.7h.01M465.4 206.5h.01M465.5 207.5h.01M463.1 208.9h.01M473.4 200.8h.01M466.8 194.5h.01M471.1 198.1h.01M470.3 204.5h.01M472.6 202.3h.01M460.2 207.6h.01M471.4 201.2h.01M465.7 202.1h.01M468.5 195.6h.01M467.1 208.8h.01M462.5 206.4h.01M458.2 198.3h.01M469.9 204.6h.01M461.2 203.1h.01M471.2 202.5h.01M475.0 196.6h.01M474.5 197.2h.01M466.1 200.4h.01M461.0 201.8h.01M471.5 198.1h.01M466.3 207.9h.01M470.3 201.2h.01M463.7 204.4h.01M463.2 208.3h.01M459.3 204.5h.01M470.4 203.2h.01M462.4 203.2h.01M467.0 204.7h.01M468.3 207.5h.01" stroke="#555" stroke-width="0.36" stroke-linecap="round" fill="none" opacity="0.55"/>
<ellipse cx="466.00" cy="204.50" rx="9.00" ry="4.60" transform="rotate(-28 466.00 204.50)" fill="none" stroke="#888" stroke-width="0.25" opacity="0.8"/>
<ellipse cx="466.00" cy="204.50" rx="6.00" ry="3.07" transform="rotate(-28 466.00 204.50)" fill="none" stroke="#888" stroke-width="0.25" opacity="0.8"/>
<ellipse cx="458.15" cy="275.00" rx="14.65" ry="2.20" transform="rotate(-4 458.15 275.00)" fill="none" stroke="#1e1e1e" stroke-width="0.35"/>
<ellipse cx="458.15" cy="275.00" rx="13.62" ry="1.76" transform="rotate(-4 458.15 275.00)" fill="none" stroke="#1e1e1e" stroke-width="0.35"/>
<ellipse cx="458.15" cy="275.00" rx="12.60" ry="1.32" transform="rotate(-4 458.15 275.00)" fill="none" stroke="#1e1e1e" stroke-width="0.35"/>
<ellipse cx="458.15" cy="275.00" rx="11.57" ry="0.88" transform="rotate(-4 458.15 275.00)" fill="none" stroke="#1e1e1e" stroke-width="0.35"/>
<ellipse cx="458.15" cy="275.00" rx="13.19" ry="1.65" transform="rotate(-4 458.15 275.00)" fill="#1e1e1e" stroke="none" stroke-width="0" opacity="0.44"/>
<path d="M467.8 272.4h.01M459.3 270.7h.01M463.5 270.4h.01M467.7 262.0h.01M463.8 265.6h.01M463.3 266.3h.01M462.6 272.3h.01M458.0 269.3h.01M464.6 266.9h.01M464.5 269.5h.01M468.1 272.0h.01M458.6 275.3h.01M468.4 261.5h.01M466.7 264.9h.01M463.1 276.1h.01M465.4 265.8h.01M460.8 261.4h.01M471.0 267.2h.01M458.0 269.9h.01M469.7 263.5h.01M469.7 272.4h.01M462.5 268.5h.01M471.8 269.5h.01M459.5 269.4h.01M463.1 271.9h.01" stroke="#555" stroke-width="0.36" stroke-linecap="round" fill="none" opacity="0.55"/>
<ellipse cx="465.00" cy="270.50" rx="9.00" ry="4.60" transform="rotate(-28 465.00 270.50)" fill="none" stroke="#888" stroke-width="0.25" opacity="0.8"/>
<ellipse cx="465.00" cy="270.50" rx="6.00" ry="3.07" transform="rotate(-28 465.00 270.50)" fill="none" stroke="#888" stroke-width="0.25" opacity="0.8"/>
<text x="353.90" y="281.21" font-size="6.7" font-weight="bold" fill="#222" text-anchor="middle" transform="rotate(-90 353.90 278.80)">4-1BB</text>
<line x1="353.70" y1="261.80" x2="353.70" y2="192.10" stroke="#3c3c3c" stroke-width="1.1"/>
<polygon points="353.70,188.50 356.60,193.50 353.70,192.10 350.80,193.50" fill="#111"/>
<text x="376.50" y="304.95" font-size="6.8" font-weight="bold" fill="#222" text-anchor="middle">CD25</text>
<line x1="389.00" y1="302.70" x2="465.00" y2="302.70" stroke="#3c3c3c" stroke-width="1.1"/>
<polygon points="468.60,302.70 463.60,305.60 465.00,302.70 463.60,299.80" fill="#111"/>
</g>
<g id="panelF">
<text x="5.00" y="324.20" font-size="15.7" font-weight="bold" fill="#000" text-anchor="middle">F</text>
<polyline points="38.40,363.91 65.40,364.56 92.40,365.20 119.40,363.27 146.40,360.70" fill="none" stroke="#9d9fa2" stroke-width="1.6" stroke-linejoin="round" stroke-linecap="round"/>
<path d="M38.40 361.99V365.84M36.70 361.99h3.40M36.70 365.84h3.40" stroke="#9d9fa2" stroke-width="0.85" fill="none"/>
<path d="M65.40 362.63V366.49M63.70 362.63h3.40M63.70 366.49h3.40" stroke="#9d9fa2" stroke-width="0.85" fill="none"/>
<path d="M92.40 363.91V366.49M90.70 363.91h3.40M90.70 366.49h3.40" stroke="#9d9fa2" stroke-width="0.85" fill="none"/>
<path d="M119.40 361.99V364.56M117.70 361.99h3.40M117.70 364.56h3.40" stroke="#9d9fa2" stroke-width="0.85" fill="none"/>
<polygon points="36.40,362.31 40.40,362.31 38.40,365.91" fill="#9d9fa2"/>
<polygon points="63.40,362.96 67.40,362.96 65.40,366.56" fill="#9d9fa2"/>
<polygon points="90.40,363.60 94.40,363.60 92.40,367.20" fill="#9d9fa2"/>
<polygon points="117.40,361.67 121.40,361.67 119.40,365.27" fill="#9d9fa2"/>
<polygon points="144.40,359.10 148.40,359.10 146.40,362.70" fill="#9d9fa2"/>
<polyline points="38.40,366.49 65.40,367.13 92.40,368.42 119.40,365.84 146.40,360.70" fill="none" stroke="#9d9fa2" stroke-width="1.6" stroke-linejoin="round" stroke-linecap="round"/>
<path d="M38.40 365.20V367.77M36.70 365.20h3.40M36.70 367.77h3.40" stroke="#9d9fa2" stroke-width="0.85" fill="none"/>
<path d="M65.40 365.20V369.06M63.70 365.20h3.40M63.70 369.06h3.40" stroke="#9d9fa2" stroke-width="0.85" fill="none"/>
<path d="M92.40 366.49V370.34M90.70 366.49h3.40M90.70 370.34h3.40" stroke="#9d9fa2" stroke-width="0.85" fill="none"/>
<path d="M119.40 364.56V367.13M117.70 364.56h3.40M117.70 367.13h3.40" stroke="#9d9fa2" stroke-width="0.85" fill="none"/>
<polygon points="36.40,364.89 40.40,364.89 38.40,368.49" fill="#9d9fa2"/>
<polygon points="63.40,365.53 67.40,365.53 65.40,369.13" fill="#9d9fa2"/>
<polygon points="90.40,366.82 94.40,366.82 92.40,370.42" fill="#9d9fa2"/>
<polygon points="117.40,364.24 121.40,364.24 119.40,367.84" fill="#9d9fa2"/>
<polygon points="144.40,359.10 148.40,359.10 146.40,362.70" fill="#9d9fa2"/>
<polyline points="38.40,369.70 65.40,368.42 92.40,370.99 119.40,367.13 146.40,360.70" fill="none" stroke="#9d9fa2" stroke-width="1.6" stroke-linejoin="round" stroke-linecap="round"/>
<path d="M38.40 368.42V370.99M36.70 368.42h3.40M36.70 370.99h3.40" stroke="#9d9fa2" stroke-width="0.85" fill="none"/>
<path d="M65.40 367.13V369.70M63.70 367.13h3.40M63.70 369.70h3.40" stroke="#9d9fa2" stroke-width="0.85" fill="none"/>
<path d="M92.40 369.06V372.92M90.70 369.06h3.40M90.70 372.92h3.40" stroke="#9d9fa2" stroke-width="0.85" fill="none"/>
<path d="M119.40 364.56V369.70M117.70 364.56h3.40M117.70 369.70h3.40" stroke="#9d9fa2" stroke-width="0.85" fill="none"/>
<polygon points="36.40,368.10 40.40,368.10 38.40,371.70" fill="#9d9fa2"/>
<polygon points="63.40,366.82 67.40,366.82 65.40,370.42" fill="#9d9fa2"/>
<polygon points="90.40,369.39 94.40,369.39 92.40,372.99" fill="#9d9fa2"/>
<polygon points="117.40,365.53 121.40,365.53 119.40,369.13" fill="#9d9fa2"/>
<polygon points="144.40,359.10 148.40,359.10 146.40,362.70" fill="#9d9fa2"/>
<polyline points="38.40,390.28 65.40,381.28 92.40,373.56 119.40,368.42 146.40,360.70" fill="none" stroke="#9d9fa2" stroke-width="1.6" stroke-linejoin="round" stroke-linecap="round"/>
<path d="M65.40 377.42V385.13M63.70 377.42h3.40M63.70 385.13h3.40" stroke="#9d9fa2" stroke-width="0.85" fill="none"/>
<polygon points="36.40,388.68 40.40,388.68 38.40,392.28" fill="#9d9fa2"/>
<polygon points="63.40,379.68 67.40,379.68 65.40,383.28" fill="#9d9fa2"/>
<polygon points="90.40,371.96 94.40,371.96 92.40,375.56" fill="#9d9fa2"/>
<polygon points="117.40,366.82 121.40,366.82 119.40,370.42" fill="#9d9fa2"/>
<polygon points="144.40,359.10 148.40,359.10 146.40,362.70" fill="#9d9fa2"/>
<polyline points="38.40,396.71 65.40,386.42 92.40,376.13 119.40,369.70 146.40,360.70" fill="none" stroke="#9d9fa2" stroke-width="1.6" stroke-linejoin="round" stroke-linecap="round"/>
<path d="M119.40 367.77V371.63M117.70 367.77h3.40M117.70 371.63h3.40" stroke="#9d9fa2" stroke-width="0.85" fill="none"/>
<polygon points="36.40,395.11 40.40,395.11 38.40,398.71" fill="#9d9fa2"/>
<polygon points="63.40,384.82 67.40,384.82 65.40,388.42" fill="#9d9fa2"/>
<polygon points="90.40,374.53 94.40,374.53 92.40,378.13" fill="#9d9fa2"/>
<polygon points="117.40,368.10 121.40,368.10 119.40,371.70" fill="#9d9fa2"/>
<polygon points="144.40,359.10 148.40,359.10 146.40,362.70" fill="#9d9fa2"/>
<polyline points="38.40,404.42 65.40,396.06 92.40,387.06 119.40,381.28 146.40,360.70" fill="none" stroke="#9d9fa2" stroke-width="1.6" stroke-linejoin="round" stroke-linecap="round"/>
<path d="M119.40 376.13V386.42M117.70 376.13h3.40M117.70 386.42h3.40" stroke="#9d9fa2" stroke-width="0.85" fill="none"/>
<polygon points="36.40,402.82 40.40,402.82 38.40,406.42" fill="#9d9fa2"/>
<polygon points="63.40,394.46 67.40,394.46 65.40,398.06" fill="#9d9fa2"/>
<polygon points="90.40,385.46 94.40,385.46 92.40,389.06" fill="#9d9fa2"/>
<polygon points="117.40,379.68 121.40,379.68 119.40,383.28" fill="#9d9fa2"/>
<polygon points="144.40,359.10 148.40,359.10 146.40,362.70" fill="#9d9fa2"/>
<polyline points="38.40,414.71 65.40,401.85 92.40,394.14 119.40,386.42 146.40,360.70" fill="none" stroke="#9d9fa2" stroke-width="1.6" stroke-linejoin="round" stroke-linecap="round"/>
<polygon points="36.40,413.11 40.40,413.11 38.40,416.71" fill="#9d9fa2"/>
<polygon points="63.40,400.25 67.40,400.25 65.40,403.85" fill="#9d9fa2"/>
<polygon points="90.40,392.54 94.40,392.54 92.40,396.14" fill="#9d9fa2"/>
<polygon points="117.40,384.82 121.40,384.82 119.40,388.42" fill="#9d9fa2"/>
<polygon points="144.40,359.10 148.40,359.10 146.40,362.70" fill="#9d9fa2"/>
<polyline points="38.40,418.57 65.40,408.28 92.40,400.57 119.40,396.06 146.40,360.70" fill="none" stroke="#9d9fa2" stroke-width="1.6" stroke-linejoin="round" stroke-linecap="round"/>
<polygon points="36.40,416.97 40.40,416.97 38.40,420.57" fill="#9d9fa2"/>
<polygon points="63.40,406.68 67.40,406.68 65.40,410.28" fill="#9d9fa2"/>
<polygon points="90.40,398.97 94.40,398.97 92.40,402.57" fill="#9d9fa2"/>
<polygon points="117.40,394.46 121.40,394.46 119.40,398.06" fill="#9d9fa2"/>
<polygon points="144.40,359.10 148.40,359.10 146.40,362.70" fill="#9d9fa2"/>
<polyline points="38.40,420.50 65.40,412.14 92.40,403.78 119.40,398.64 146.40,360.70" fill="none" stroke="#9d9fa2" stroke-width="1.6" stroke-linejoin="round" stroke-linecap="round"/>
<polygon points="36.40,418.90 40.40,418.90 38.40,422.50" fill="#9d9fa2"/>
<polygon points="63.40,410.54 67.40,410.54 65.40,414.14" fill="#9d9fa2"/>
<polygon points="90.40,402.18 94.40,402.18 92.40,405.78" fill="#9d9fa2"/>
<polygon points="117.40,397.04 121.40,397.04 119.40,400.64" fill="#9d9fa2"/>
<polygon points="144.40,359.10 148.40,359.10 146.40,362.70" fill="#9d9fa2"/>
<polyline points="38.40,421.79 65.40,414.71 92.40,405.71 119.40,399.92 146.40,360.70" fill="none" stroke="#9d9fa2" stroke-width="1.6" stroke-linejoin="round" stroke-linecap="round"/>
<polygon points="36.40,420.19 40.40,420.19 38.40,423.79" fill="#9d9fa2"/>
<polygon points="63.40,413.11 67.40,413.11 65.40,416.71" fill="#9d9fa2"/>
<polygon points="90.40,404.11 94.40,404.11 92.40,407.71" fill="#9d9fa2"/>
<polygon points="117.40,398.32 121.40,398.32 119.40,401.92" fill="#9d9fa2"/>
<polygon points="144.40,359.10 148.40,359.10 146.40,362.70" fill="#9d9fa2"/>
<polyline points="38.40,423.07 65.40,416.64 92.40,407.64 119.40,401.21 146.40,360.70" fill="none" stroke="#9d9fa2" stroke-width="1.6" stroke-linejoin="round" stroke-linecap="round"/>
<polygon points="36.40,421.47 40.40,421.47 38.40,425.07" fill="#9d9fa2"/>
<polygon points="63.40,415.04 67.40,415.04 65.40,418.64" fill="#9d9fa2"/>
<polygon points="90.40,406.04 94.40,406.04 92.40,409.64" fill="#9d9fa2"/>
<polygon points="117.40,399.61 121.40,399.61 119.40,403.21" fill="#9d9fa2"/>
<polygon points="144.40,359.10 148.40,359.10 146.40,362.70" fill="#9d9fa2"/>
<polyline points="38.40,425.00 65.40,421.14 92.40,414.07 119.40,407.00 146.40,360.70" fill="none" stroke="#2b3c9b" stroke-width="2.1" stroke-linejoin="round" stroke-linecap="round"/>
<polygon points="36.90,423.80 39.90,423.80 38.40,426.50" fill="#2b3c9b"/>
<polygon points="63.90,419.94 66.90,419.94 65.40,422.64" fill="#2b3c9b"/>
<polygon points="90.90,412.87 93.90,412.87 92.40,415.57" fill="#2b3c9b"/>
<polygon points="117.90,405.80 120.90,405.80 119.40,408.50" fill="#2b3c9b"/>
<polygon points="144.90,359.50 147.90,359.50 146.40,362.20" fill="#2b3c9b"/>
<polyline points="38.40,424.36 65.40,419.21 92.40,410.21 119.40,403.14 146.40,360.70" fill="none" stroke="#1d9e57" stroke-width="2.1" stroke-linejoin="round" stroke-linecap="round"/>
<polygon points="36.90,423.16 39.90,423.16 38.40,425.86" fill="#1d9e57"/>
<polygon points="63.90,418.01 66.90,418.01 65.40,420.71" fill="#1d9e57"/>
<polygon points="90.90,409.01 93.90,409.01 92.40,411.71" fill="#1d9e57"/>
<polygon points="117.90,401.94 120.90,401.94 119.40,404.64" fill="#1d9e57"/>
<polygon points="144.90,359.50 147.90,359.50 146.40,362.20" fill="#1d9e57"/>
<polyline points="38.40,424.36 65.40,417.93 92.40,408.93 119.40,402.50 146.40,360.70" fill="none" stroke="#e5202e" stroke-width="2.4" stroke-linejoin="round" stroke-linecap="round"/>
<polygon points="36.90,423.16 39.90,423.16 38.40,425.86" fill="#e5202e"/>
<polygon points="63.90,416.73 66.90,416.73 65.40,419.43" fill="#e5202e"/>
<polygon points="90.90,407.73 93.90,407.73 92.40,410.43" fill="#e5202e"/>
<polygon points="117.90,401.30 120.90,401.30 119.40,404.00" fill="#e5202e"/>
<polygon points="144.90,359.50 147.90,359.50 146.40,362.20" fill="#e5202e"/>
<polyline points="38.40,423.71 65.40,416.64 92.40,407.64 119.40,401.21 146.40,360.70" fill="none" stroke="#f26a30" stroke-width="2.2" stroke-linejoin="round" stroke-linecap="round"/>
<polygon points="36.90,422.51 39.90,422.51 38.40,425.21" fill="#f26a30"/>
<polygon points="63.90,415.44 66.90,415.44 65.40,418.14" fill="#f26a30"/>
<polygon points="90.90,406.44 93.90,406.44 92.40,409.14" fill="#f26a30"/>
<polygon points="117.90,400.01 120.90,400.01 119.40,402.71" fill="#f26a30"/>
<polygon points="144.90,359.50 147.90,359.50 146.40,362.20" fill="#f26a30"/>
<polyline points="38.40,370.99 65.40,368.42 92.40,365.84 119.40,363.91 146.40,360.70" fill="none" stroke="#000" stroke-width="1.9" stroke-linejoin="round" stroke-linecap="round"/>
<path d="M38.40 367.77V374.20M36.70 367.77h3.40M36.70 374.20h3.40" stroke="#000" stroke-width="0.85" fill="none"/>
<path d="M65.40 367.13V369.70M63.70 367.13h3.40M63.70 369.70h3.40" stroke="#000" stroke-width="0.85" fill="none"/>
<path d="M92.40 363.92V367.77M90.70 363.92h3.40M90.70 367.77h3.40" stroke="#000" stroke-width="0.85" fill="none"/>
<path d="M119.40 361.34V366.49M117.70 361.34h3.40M117.70 366.49h3.40" stroke="#000" stroke-width="0.85" fill="none"/>
<rect x="36.80" y="369.39" width="3.20" height="3.20" fill="#000"/>
<rect x="63.80" y="366.82" width="3.20" height="3.20" fill="#000"/>
<rect x="90.80" y="364.24" width="3.20" height="3.20" fill="#000"/>
<rect x="117.80" y="362.31" width="3.20" height="3.20" fill="#000"/>
<rect x="144.80" y="359.10" width="3.20" height="3.20" fill="#000"/>
<polygon points="144.50,359.18 148.30,359.18 146.40,362.60" fill="#f26a30"/>
<line x1="24.90" y1="334.02" x2="24.90" y2="425.60" stroke="#000" stroke-width="1.25"/>
<line x1="24.30" y1="425.00" x2="160.80" y2="425.00" stroke="#000" stroke-width="1.25"/>
<line x1="21.50" y1="425.00" x2="24.90" y2="425.00" stroke="#000" stroke-width="1.0"/>
<text x="21.30" y="427.45" font-size="6.8" font-weight="bold" fill="#111" text-anchor="end">0</text>
<line x1="21.50" y1="408.93" x2="24.90" y2="408.93" stroke="#000" stroke-width="1.0"/>
<text x="21.30" y="411.37" font-size="6.8" font-weight="bold" fill="#111" text-anchor="end">25</text>
<line x1="21.50" y1="392.85" x2="24.90" y2="392.85" stroke="#000" stroke-width="1.0"/>
<text x="21.30" y="395.30" font-size="6.8" font-weight="bold" fill="#111" text-anchor="end">50</text>
<line x1="21.50" y1="376.77" x2="24.90" y2="376.77" stroke="#000" stroke-width="1.0"/>
<text x="21.30" y="379.22" font-size="6.8" font-weight="bold" fill="#111" text-anchor="end">75</text>
<line x1="21.50" y1="360.70" x2="24.90" y2="360.70" stroke="#000" stroke-width="1.0"/>
<text x="21.30" y="363.15" font-size="6.8" font-weight="bold" fill="#111" text-anchor="end">100</text>
<line x1="21.50" y1="344.62" x2="24.90" y2="344.62" stroke="#000" stroke-width="1.0"/>
<text x="21.30" y="347.07" font-size="6.8" font-weight="bold" fill="#111" text-anchor="end">125</text>
<line x1="38.40" y1="425.00" x2="38.40" y2="427.70" stroke="#000" stroke-width="1.0"/>
<text x="38.40" y="435.08" font-size="6.6" font-weight="bold" fill="#111" text-anchor="middle">1:1</text>
<line x1="65.40" y1="425.00" x2="65.40" y2="427.70" stroke="#000" stroke-width="1.0"/>
<text x="65.40" y="435.08" font-size="6.6" font-weight="bold" fill="#111" text-anchor="middle">1:3</text>
<line x1="92.40" y1="425.00" x2="92.40" y2="427.70" stroke="#000" stroke-width="1.0"/>
<text x="92.40" y="435.08" font-size="6.6" font-weight="bold" fill="#111" text-anchor="middle">1:9</text>
<line x1="119.40" y1="425.00" x2="119.40" y2="427.70" stroke="#000" stroke-width="1.0"/>
<text x="119.40" y="435.08" font-size="6.6" font-weight="bold" fill="#111" text-anchor="middle">1:27</text>
<line x1="146.40" y1="425.00" x2="146.40" y2="427.70" stroke="#000" stroke-width="1.0"/>
<text x="146.40" y="435.08" font-size="6.6" font-weight="bold" fill="#111" text-anchor="middle">0:1</text>
<text x="94.90" y="330.67" font-size="10.2" font-weight="bold" fill="#111" text-anchor="middle">786-O</text>
<text x="95.30" y="450.93" font-size="7.3" font-weight="bold" fill="#111" text-anchor="middle">E:T Ratio</text>
<text x="4.40" y="382.60" font-size="7.5" font-weight="bold" fill="#111" text-anchor="middle" transform="rotate(-90 4.40 379.90)">% Live target cells (RLU)</text>
<text x="143.00" y="378.95" font-size="6.8" font-weight="bold" fill="#d01f2e" text-anchor="start">CAR 17</text>
<text x="143.00" y="387.35" font-size="6.8" font-weight="bold" fill="#ee6a36" text-anchor="start">CAR 23</text>
<text x="143.00" y="395.75" font-size="6.8" font-weight="bold" fill="#1c8f50" text-anchor="start">CAR 1</text>
<text x="143.00" y="404.15" font-size="6.8" font-weight="bold" fill="#26348c" text-anchor="start">CAR 24</text>
<text x="143.00" y="412.55" font-size="6.8" font-weight="bold" fill="#111" text-anchor="start">NTD</text>
<text x="161.40" y="421.15" font-size="6.8" font-weight="bold" fill="#8b8d90" text-anchor="end">Additonal CARs</text>
<polyline points="214.80,356.15 241.70,358.07 268.60,361.28 295.60,360.00 322.50,360.00" fill="none" stroke="#9d9fa2" stroke-width="1.6" stroke-linejoin="round" stroke-linecap="round"/>
<path d="M214.80 351.65V360.64M213.10 351.65h3.40M213.10 360.64h3.40" stroke="#9d9fa2" stroke-width="0.85" fill="none"/>
<path d="M241.70 354.22V361.93M240.00 354.22h3.40M240.00 361.93h3.40" stroke="#9d9fa2" stroke-width="0.85" fill="none"/>
<path d="M268.60 359.36V363.21M266.90 359.36h3.40M266.90 363.21h3.40" stroke="#9d9fa2" stroke-width="0.85" fill="none"/>
<path d="M295.60 358.72V361.28M293.90 358.72h3.40M293.90 361.28h3.40" stroke="#9d9fa2" stroke-width="0.85" fill="none"/>
<polygon points="212.80,354.55 216.80,354.55 214.80,358.15" fill="#9d9fa2"/>
<polygon points="239.70,356.47 243.70,356.47 241.70,360.07" fill="#9d9fa2"/>
<polygon points="266.60,359.68 270.60,359.68 268.60,363.28" fill="#9d9fa2"/>
<polygon points="293.60,358.40 297.60,358.40 295.60,362.00" fill="#9d9fa2"/>
<polygon points="320.50,358.40 324.50,358.40 322.50,362.00" fill="#9d9fa2"/>
<polyline points="214.80,361.28 241.70,361.28 268.60,361.93 295.60,361.28 322.50,360.00" fill="none" stroke="#9d9fa2" stroke-width="1.6" stroke-linejoin="round" stroke-linecap="round"/>
<path d="M214.80 359.36V363.21M213.10 359.36h3.40M213.10 363.21h3.40" stroke="#9d9fa2" stroke-width="0.85" fill="none"/>
<path d="M241.70 359.36V363.21M240.00 359.36h3.40M240.00 363.21h3.40" stroke="#9d9fa2" stroke-width="0.85" fill="none"/>
<path d="M268.60 360.64V363.21M266.90 360.64h3.40M266.90 363.21h3.40" stroke="#9d9fa2" stroke-width="0.85" fill="none"/>
<path d="M295.60 360.00V362.57M293.90 360.00h3.40M293.90 362.57h3.40" stroke="#9d9fa2" stroke-width="0.85" fill="none"/>
<polygon points="212.80,359.68 216.80,359.68 214.80,363.28" fill="#9d9fa2"/>
<polygon points="239.70,359.68 243.70,359.68 241.70,363.28" fill="#9d9fa2"/>
<polygon points="266.60,360.33 270.60,360.33 268.60,363.93" fill="#9d9fa2"/>
<polygon points="293.60,359.68 297.60,359.68 295.60,363.28" fill="#9d9fa2"/>
<polygon points="320.50,358.40 324.50,358.40 322.50,362.00" fill="#9d9fa2"/>
<polyline points="214.80,370.27 241.70,365.14 268.60,364.49 295.60,363.21 322.50,360.00" fill="none" stroke="#9d9fa2" stroke-width="1.6" stroke-linejoin="round" stroke-linecap="round"/>
<path d="M214.80 368.35V372.20M213.10 368.35h3.40M213.10 372.20h3.40" stroke="#9d9fa2" stroke-width="0.85" fill="none"/>
<path d="M241.70 363.21V367.06M240.00 363.21h3.40M240.00 367.06h3.40" stroke="#9d9fa2" stroke-width="0.85" fill="none"/>
<path d="M268.60 362.57V366.42M266.90 362.57h3.40M266.90 366.42h3.40" stroke="#9d9fa2" stroke-width="0.85" fill="none"/>
<path d="M295.60 361.93V364.49M293.90 361.93h3.40M293.90 364.49h3.40" stroke="#9d9fa2" stroke-width="0.85" fill="none"/>
<polygon points="212.80,368.67 216.80,368.67 214.80,372.27" fill="#9d9fa2"/>
<polygon points="239.70,363.54 243.70,363.54 241.70,367.14" fill="#9d9fa2"/>
<polygon points="266.60,362.89 270.60,362.89 268.60,366.49" fill="#9d9fa2"/>
<polygon points="293.60,361.61 297.60,361.61 295.60,365.21" fill="#9d9fa2"/>
<polygon points="320.50,358.40 324.50,358.40 322.50,362.00" fill="#9d9fa2"/>
<polyline points="214.80,372.84 241.70,375.41 268.60,366.42 295.60,365.14 322.50,360.00" fill="none" stroke="#9d9fa2" stroke-width="1.6" stroke-linejoin="round" stroke-linecap="round"/>
<path d="M214.80 370.27V375.41M213.10 370.27h3.40M213.10 375.41h3.40" stroke="#9d9fa2" stroke-width="0.85" fill="none"/>
<path d="M241.70 372.20V378.62M240.00 372.20h3.40M240.00 378.62h3.40" stroke="#9d9fa2" stroke-width="0.85" fill="none"/>
<path d="M268.60 364.49V368.35M266.90 364.49h3.40M266.90 368.35h3.40" stroke="#9d9fa2" stroke-width="0.85" fill="none"/>
<path d="M295.60 363.21V367.06M293.90 363.21h3.40M293.90 367.06h3.40" stroke="#9d9fa2" stroke-width="0.85" fill="none"/>
<polygon points="212.80,371.24 216.80,371.24 214.80,374.84" fill="#9d9fa2"/>
<polygon points="239.70,373.81 243.70,373.81 241.70,377.41" fill="#9d9fa2"/>
<polygon points="266.60,364.82 270.60,364.82 268.60,368.42" fill="#9d9fa2"/>
<polygon points="293.60,363.54 297.60,363.54 295.60,367.14" fill="#9d9fa2"/>
<polygon points="320.50,358.40 324.50,358.40 322.50,362.00" fill="#9d9fa2"/>
<polyline points="214.80,377.98 241.70,386.96 268.60,374.12 295.60,367.70 322.50,360.00" fill="none" stroke="#9d9fa2" stroke-width="1.6" stroke-linejoin="round" stroke-linecap="round"/>
<path d="M214.80 374.77V381.19M213.10 374.77h3.40M213.10 381.19h3.40" stroke="#9d9fa2" stroke-width="0.85" fill="none"/>
<path d="M241.70 384.40V389.53M240.00 384.40h3.40M240.00 389.53h3.40" stroke="#9d9fa2" stroke-width="0.85" fill="none"/>
<path d="M268.60 368.99V379.26M266.90 368.99h3.40M266.90 379.26h3.40" stroke="#9d9fa2" stroke-width="0.85" fill="none"/>
<path d="M295.60 360.00V375.41M293.90 360.00h3.40M293.90 375.41h3.40" stroke="#9d9fa2" stroke-width="0.85" fill="none"/>
<polygon points="212.80,376.38 216.80,376.38 214.80,379.98" fill="#9d9fa2"/>
<polygon points="239.70,385.36 243.70,385.36 241.70,388.96" fill="#9d9fa2"/>
<polygon points="266.60,372.52 270.60,372.52 268.60,376.12" fill="#9d9fa2"/>
<polygon points="293.60,366.10 297.60,366.10 295.60,369.70" fill="#9d9fa2"/>
<polygon points="320.50,358.40 324.50,358.40 322.50,362.00" fill="#9d9fa2"/>
<polyline points="214.80,385.68 241.70,386.96 268.60,384.40 295.60,369.63 322.50,360.00" fill="none" stroke="#9d9fa2" stroke-width="1.6" stroke-linejoin="round" stroke-linecap="round"/>
<path d="M214.80 383.75V387.61M213.10 383.75h3.40M213.10 387.61h3.40" stroke="#9d9fa2" stroke-width="0.85" fill="none"/>
<path d="M241.70 385.04V388.89M240.00 385.04h3.40M240.00 388.89h3.40" stroke="#9d9fa2" stroke-width="0.85" fill="none"/>
<path d="M268.60 379.26V389.53M266.90 379.26h3.40M266.90 389.53h3.40" stroke="#9d9fa2" stroke-width="0.85" fill="none"/>
<path d="M295.60 363.21V376.05M293.90 363.21h3.40M293.90 376.05h3.40" stroke="#9d9fa2" stroke-width="0.85" fill="none"/>
<polygon points="212.80,384.08 216.80,384.08 214.80,387.68" fill="#9d9fa2"/>
<polygon points="239.70,385.36 243.70,385.36 241.70,388.96" fill="#9d9fa2"/>
<polygon points="266.60,382.80 270.60,382.80 268.60,386.40" fill="#9d9fa2"/>
<polygon points="293.60,368.03 297.60,368.03 295.60,371.63" fill="#9d9fa2"/>
<polygon points="320.50,358.40 324.50,358.40 322.50,362.00" fill="#9d9fa2"/>
<polyline points="214.80,408.15 241.70,388.89 268.60,379.26 295.60,369.63 322.50,360.00" fill="none" stroke="#9d9fa2" stroke-width="1.6" stroke-linejoin="round" stroke-linecap="round"/>
<path d="M214.80 405.58V410.72M213.10 405.58h3.40M213.10 410.72h3.40" stroke="#9d9fa2" stroke-width="0.85" fill="none"/>
<path d="M241.70 386.96V390.82M240.00 386.96h3.40M240.00 390.82h3.40" stroke="#9d9fa2" stroke-width="0.85" fill="none"/>
<path d="M268.60 377.33V381.19M266.90 377.33h3.40M266.90 381.19h3.40" stroke="#9d9fa2" stroke-width="0.85" fill="none"/>
<path d="M295.60 367.70V371.56M293.90 367.70h3.40M293.90 371.56h3.40" stroke="#9d9fa2" stroke-width="0.85" fill="none"/>
<polygon points="212.80,406.55 216.80,406.55 214.80,410.15" fill="#9d9fa2"/>
<polygon points="239.70,387.29 243.70,387.29 241.70,390.89" fill="#9d9fa2"/>
<polygon points="266.60,377.66 270.60,377.66 268.60,381.26" fill="#9d9fa2"/>
<polygon points="293.60,368.03 297.60,368.03 295.60,371.63" fill="#9d9fa2"/>
<polygon points="320.50,358.40 324.50,358.40 322.50,362.00" fill="#9d9fa2"/>
<polyline points="214.80,411.36 241.70,401.09 268.60,397.24 295.60,394.03 322.50,360.00" fill="none" stroke="#9d9fa2" stroke-width="1.6" stroke-linejoin="round" stroke-linecap="round"/>
<path d="M214.80 409.43V413.29M213.10 409.43h3.40M213.10 413.29h3.40" stroke="#9d9fa2" stroke-width="0.85" fill="none"/>
<path d="M241.70 399.80V402.37M240.00 399.80h3.40M240.00 402.37h3.40" stroke="#9d9fa2" stroke-width="0.85" fill="none"/>
<path d="M268.60 395.95V398.52M266.90 395.95h3.40M266.90 398.52h3.40" stroke="#9d9fa2" stroke-width="0.85" fill="none"/>
<path d="M295.60 392.74V395.31M293.90 392.74h3.40M293.90 395.31h3.40" stroke="#9d9fa2" stroke-width="0.85" fill="none"/>
<polygon points="212.80,409.76 216.80,409.76 214.80,413.36" fill="#9d9fa2"/>
<polygon points="239.70,399.49 243.70,399.49 241.70,403.09" fill="#9d9fa2"/>
<polygon points="266.60,395.64 270.60,395.64 268.60,399.24" fill="#9d9fa2"/>
<polygon points="293.60,392.43 297.60,392.43 295.60,396.03" fill="#9d9fa2"/>
<polygon points="320.50,358.40 324.50,358.40 322.50,362.00" fill="#9d9fa2"/>
<polyline points="214.80,415.21 241.70,406.22 268.60,398.52 295.60,394.67 322.50,360.00" fill="none" stroke="#9d9fa2" stroke-width="1.6" stroke-linejoin="round" stroke-linecap="round"/>
<polygon points="212.80,413.61 216.80,413.61 214.80,417.21" fill="#9d9fa2"/>
<polygon points="239.70,404.62 243.70,404.62 241.70,408.22" fill="#9d9fa2"/>
<polygon points="266.60,396.92 270.60,396.92 268.60,400.52" fill="#9d9fa2"/>
<polygon points="293.60,393.07 297.60,393.07 295.60,396.67" fill="#9d9fa2"/>
<polygon points="320.50,358.40 324.50,358.40 322.50,362.00" fill="#9d9fa2"/>
<polyline points="214.80,417.78 241.70,410.08 268.60,399.80 295.60,395.95 322.50,360.00" fill="none" stroke="#9d9fa2" stroke-width="1.6" stroke-linejoin="round" stroke-linecap="round"/>
<path d="M241.70 404.94V415.21M240.00 404.94h3.40M240.00 415.21h3.40" stroke="#9d9fa2" stroke-width="0.85" fill="none"/>
<path d="M268.60 397.24V402.37M266.90 397.24h3.40M266.90 402.37h3.40" stroke="#9d9fa2" stroke-width="0.85" fill="none"/>
<polygon points="212.80,416.18 216.80,416.18 214.80,419.78" fill="#9d9fa2"/>
<polygon points="239.70,408.48 243.70,408.48 241.70,412.08" fill="#9d9fa2"/>
<polygon points="266.60,398.20 270.60,398.20 268.60,401.80" fill="#9d9fa2"/>
<polygon points="293.60,394.35 297.60,394.35 295.60,397.95" fill="#9d9fa2"/>
<polygon points="320.50,358.40 324.50,358.40 322.50,362.00" fill="#9d9fa2"/>
<polyline points="214.80,422.92 241.70,411.36 268.60,401.73 295.60,399.80 322.50,360.00" fill="none" stroke="#e5202e" stroke-width="2.4" stroke-linejoin="round" stroke-linecap="round"/>
<polygon points="213.30,421.72 216.30,421.72 214.80,424.42" fill="#e5202e"/>
<polygon points="240.20,410.16 243.20,410.16 241.70,412.86" fill="#e5202e"/>
<polygon points="267.10,400.53 270.10,400.53 268.60,403.23" fill="#e5202e"/>
<polygon points="294.10,398.60 297.10,398.60 295.60,401.30" fill="#e5202e"/>
<polygon points="321.00,358.80 324.00,358.80 322.50,361.50" fill="#e5202e"/>
<polyline points="214.80,420.99 241.70,410.08 268.60,401.09 295.60,397.24 322.50,360.00" fill="none" stroke="#1d9e57" stroke-width="2.1" stroke-linejoin="round" stroke-linecap="round"/>
<polygon points="213.30,419.79 216.30,419.79 214.80,422.49" fill="#1d9e57"/>
<polygon points="240.20,408.88 243.20,408.88 241.70,411.58" fill="#1d9e57"/>
<polygon points="267.10,399.89 270.10,399.89 268.60,402.59" fill="#1d9e57"/>
<polygon points="294.10,396.04 297.10,396.04 295.60,398.74" fill="#1d9e57"/>
<polygon points="321.00,358.80 324.00,358.80 322.50,361.50" fill="#1d9e57"/>
<polyline points="214.80,419.71 241.70,411.36 268.60,401.73 295.60,396.59 322.50,360.00" fill="none" stroke="#2b3c9b" stroke-width="2.1" stroke-linejoin="round" stroke-linecap="round"/>
<path d="M268.60 398.52V404.94M266.90 398.52h3.40M266.90 404.94h3.40" stroke="#2b3c9b" stroke-width="0.85" fill="none"/>
<polygon points="213.30,418.51 216.30,418.51 214.80,421.21" fill="#2b3c9b"/>
<polygon points="240.20,410.16 243.20,410.16 241.70,412.86" fill="#2b3c9b"/>
<polygon points="267.10,400.53 270.10,400.53 268.60,403.23" fill="#2b3c9b"/>
<polygon points="294.10,395.39 297.10,395.39 295.60,398.09" fill="#2b3c9b"/>
<polygon points="321.00,358.80 324.00,358.80 322.50,361.50" fill="#2b3c9b"/>
<polyline points="214.80,417.14 241.70,407.51 268.60,399.80 295.60,395.31 322.50,360.00" fill="none" stroke="#f26a30" stroke-width="2.2" stroke-linejoin="round" stroke-linecap="round"/>
<path d="M241.70 405.58V409.43M240.00 405.58h3.40M240.00 409.43h3.40" stroke="#f26a30" stroke-width="0.85" fill="none"/>
<polygon points="213.30,415.94 216.30,415.94 214.80,418.64" fill="#f26a30"/>
<polygon points="240.20,406.31 243.20,406.31 241.70,409.01" fill="#f26a30"/>
<polygon points="267.10,398.60 270.10,398.60 268.60,401.30" fill="#f26a30"/>
<polygon points="294.10,394.11 297.10,394.11 295.60,396.81" fill="#f26a30"/>
<polygon points="321.00,358.80 324.00,358.80 322.50,361.50" fill="#f26a30"/>
<polyline points="214.80,366.42 241.70,364.49 268.60,363.85 295.60,362.57 322.50,360.00" fill="none" stroke="#000" stroke-width="1.9" stroke-linejoin="round" stroke-linecap="round"/>
<path d="M214.80 363.21V369.63M213.10 363.21h3.40M213.10 369.63h3.40" stroke="#000" stroke-width="0.85" fill="none"/>
<path d="M241.70 361.28V367.70M240.00 361.28h3.40M240.00 367.70h3.40" stroke="#000" stroke-width="0.85" fill="none"/>
<path d="M268.60 362.57V365.14M266.90 362.57h3.40M266.90 365.14h3.40" stroke="#000" stroke-width="0.85" fill="none"/>
<path d="M295.60 361.28V363.85M293.90 361.28h3.40M293.90 363.85h3.40" stroke="#000" stroke-width="0.85" fill="none"/>
<rect x="213.20" y="364.82" width="3.20" height="3.20" fill="#000"/>
<rect x="240.10" y="362.89" width="3.20" height="3.20" fill="#000"/>
<rect x="267.00" y="362.25" width="3.20" height="3.20" fill="#000"/>
<rect x="294.00" y="360.97" width="3.20" height="3.20" fill="#000"/>
<rect x="320.90" y="358.40" width="3.20" height="3.20" fill="#000"/>
<polygon points="320.60,358.48 324.40,358.48 322.50,361.90" fill="#f26a30"/>
<line x1="201.00" y1="333.36" x2="201.00" y2="424.80" stroke="#000" stroke-width="1.25"/>
<line x1="200.40" y1="424.20" x2="337.00" y2="424.20" stroke="#000" stroke-width="1.25"/>
<line x1="197.60" y1="424.20" x2="201.00" y2="424.20" stroke="#000" stroke-width="1.0"/>
<text x="197.40" y="426.65" font-size="6.8" font-weight="bold" fill="#111" text-anchor="end">0</text>
<line x1="197.60" y1="408.15" x2="201.00" y2="408.15" stroke="#000" stroke-width="1.0"/>
<text x="197.40" y="410.60" font-size="6.8" font-weight="bold" fill="#111" text-anchor="end">25</text>
<line x1="197.60" y1="392.10" x2="201.00" y2="392.10" stroke="#000" stroke-width="1.0"/>
<text x="197.40" y="394.55" font-size="6.8" font-weight="bold" fill="#111" text-anchor="end">50</text>
<line x1="197.60" y1="376.05" x2="201.00" y2="376.05" stroke="#000" stroke-width="1.0"/>
<text x="197.40" y="378.50" font-size="6.8" font-weight="bold" fill="#111" text-anchor="end">75</text>
<line x1="197.60" y1="360.00" x2="201.00" y2="360.00" stroke="#000" stroke-width="1.0"/>
<text x="197.40" y="362.45" font-size="6.8" font-weight="bold" fill="#111" text-anchor="end">100</text>
<line x1="197.60" y1="343.95" x2="201.00" y2="343.95" stroke="#000" stroke-width="1.0"/>
<text x="197.40" y="346.40" font-size="6.8" font-weight="bold" fill="#111" text-anchor="end">125</text>
<line x1="214.80" y1="424.20" x2="214.80" y2="426.90" stroke="#000" stroke-width="1.0"/>
<text x="214.80" y="434.88" font-size="6.6" font-weight="bold" fill="#111" text-anchor="middle">1:1</text>
<line x1="241.70" y1="424.20" x2="241.70" y2="426.90" stroke="#000" stroke-width="1.0"/>
<text x="241.70" y="434.88" font-size="6.6" font-weight="bold" fill="#111" text-anchor="middle">1:3</text>
<line x1="268.60" y1="424.20" x2="268.60" y2="426.90" stroke="#000" stroke-width="1.0"/>
<text x="268.60" y="434.88" font-size="6.6" font-weight="bold" fill="#111" text-anchor="middle">1:9</text>
<line x1="295.60" y1="424.20" x2="295.60" y2="426.90" stroke="#000" stroke-width="1.0"/>
<text x="295.60" y="434.88" font-size="6.6" font-weight="bold" fill="#111" text-anchor="middle">1:27</text>
<line x1="322.50" y1="424.20" x2="322.50" y2="426.90" stroke="#000" stroke-width="1.0"/>
<text x="322.50" y="434.88" font-size="6.6" font-weight="bold" fill="#111" text-anchor="middle">0:1</text>
<text x="276.30" y="330.67" font-size="10.2" font-weight="bold" fill="#111" text-anchor="middle">ACHN</text>
<text x="269.00" y="451.13" font-size="7.3" font-weight="bold" fill="#111" text-anchor="middle">E:T Ratio</text>
<text x="179.50" y="382.30" font-size="7.5" font-weight="bold" fill="#111" text-anchor="middle" transform="rotate(-90 179.50 379.60)">% Live target cells (RLU)</text>
<text x="318.80" y="377.45" font-size="6.8" font-weight="bold" fill="#d01f2e" text-anchor="start">CAR 17</text>
<text x="318.80" y="385.85" font-size="6.8" font-weight="bold" fill="#ee6a36" text-anchor="start">CAR 23</text>
<text x="318.80" y="394.25" font-size="6.8" font-weight="bold" fill="#1c8f50" text-anchor="start">CAR 1</text>
<text x="318.80" y="402.65" font-size="6.8" font-weight="bold" fill="#26348c" text-anchor="start">CAR 24</text>
<text x="318.80" y="411.05" font-size="6.8" font-weight="bold" fill="#111" text-anchor="start">NTD</text>
<text x="336.20" y="420.35" font-size="6.8" font-weight="bold" fill="#8b8d90" text-anchor="end">Additonal CARs</text>
<polyline points="388.70,377.40 415.80,366.45 442.80,361.30 469.80,361.30 496.90,361.30" fill="none" stroke="#9d9fa2" stroke-width="1.6" stroke-linejoin="round" stroke-linecap="round"/>
<path d="M388.70 374.18V380.62M387.00 374.18h3.40M387.00 380.62h3.40" stroke="#9d9fa2" stroke-width="0.85" fill="none"/>
<path d="M415.80 363.88V369.03M414.10 363.88h3.40M414.10 369.03h3.40" stroke="#9d9fa2" stroke-width="0.85" fill="none"/>
<path d="M442.80 359.37V363.23M441.10 359.37h3.40M441.10 363.23h3.40" stroke="#9d9fa2" stroke-width="0.85" fill="none"/>
<path d="M469.80 360.01V362.59M468.10 360.01h3.40M468.10 362.59h3.40" stroke="#9d9fa2" stroke-width="0.85" fill="none"/>
<polygon points="386.70,375.80 390.70,375.80 388.70,379.40" fill="#9d9fa2"/>
<polygon points="413.80,364.85 417.80,364.85 415.80,368.45" fill="#9d9fa2"/>
<polygon points="440.80,359.70 444.80,359.70 442.80,363.30" fill="#9d9fa2"/>
<polygon points="467.80,359.70 471.80,359.70 469.80,363.30" fill="#9d9fa2"/>
<polygon points="494.90,359.70 498.90,359.70 496.90,363.30" fill="#9d9fa2"/>
<polyline points="388.70,381.91 415.80,369.03 442.80,363.23 469.80,361.94 496.90,361.30" fill="none" stroke="#9d9fa2" stroke-width="1.6" stroke-linejoin="round" stroke-linecap="round"/>
<path d="M388.70 378.69V385.13M387.00 378.69h3.40M387.00 385.13h3.40" stroke="#9d9fa2" stroke-width="0.85" fill="none"/>
<path d="M415.80 366.45V371.60M414.10 366.45h3.40M414.10 371.60h3.40" stroke="#9d9fa2" stroke-width="0.85" fill="none"/>
<path d="M442.80 361.30V365.16M441.10 361.30h3.40M441.10 365.16h3.40" stroke="#9d9fa2" stroke-width="0.85" fill="none"/>
<path d="M469.80 360.66V363.23M468.10 360.66h3.40M468.10 363.23h3.40" stroke="#9d9fa2" stroke-width="0.85" fill="none"/>
<polygon points="386.70,380.31 390.70,380.31 388.70,383.91" fill="#9d9fa2"/>
<polygon points="413.80,367.43 417.80,367.43 415.80,371.03" fill="#9d9fa2"/>
<polygon points="440.80,361.63 444.80,361.63 442.80,365.23" fill="#9d9fa2"/>
<polygon points="467.80,360.34 471.80,360.34 469.80,363.94" fill="#9d9fa2"/>
<polygon points="494.90,359.70 498.90,359.70 496.90,363.30" fill="#9d9fa2"/>
<polyline points="388.70,385.77 415.80,370.96 442.80,364.52 469.80,362.59 496.90,361.30" fill="none" stroke="#9d9fa2" stroke-width="1.6" stroke-linejoin="round" stroke-linecap="round"/>
<path d="M388.70 381.91V389.64M387.00 381.91h3.40M387.00 389.64h3.40" stroke="#9d9fa2" stroke-width="0.85" fill="none"/>
<path d="M415.80 368.38V373.54M414.10 368.38h3.40M414.10 373.54h3.40" stroke="#9d9fa2" stroke-width="0.85" fill="none"/>
<path d="M442.80 362.59V366.45M441.10 362.59h3.40M441.10 366.45h3.40" stroke="#9d9fa2" stroke-width="0.85" fill="none"/>
<path d="M469.80 361.30V363.88M468.10 361.30h3.40M468.10 363.88h3.40" stroke="#9d9fa2" stroke-width="0.85" fill="none"/>
<polygon points="386.70,384.17 390.70,384.17 388.70,387.77" fill="#9d9fa2"/>
<polygon points="413.80,369.36 417.80,369.36 415.80,372.96" fill="#9d9fa2"/>
<polygon points="440.80,362.92 444.80,362.92 442.80,366.52" fill="#9d9fa2"/>
<polygon points="467.80,360.99 471.80,360.99 469.80,364.59" fill="#9d9fa2"/>
<polygon points="494.90,359.70 498.90,359.70 496.90,363.30" fill="#9d9fa2"/>
<polyline points="388.70,390.28 415.80,374.18 442.80,366.45 469.80,363.23 496.90,361.30" fill="none" stroke="#9d9fa2" stroke-width="1.6" stroke-linejoin="round" stroke-linecap="round"/>
<path d="M388.70 387.70V392.86M387.00 387.70h3.40M387.00 392.86h3.40" stroke="#9d9fa2" stroke-width="0.85" fill="none"/>
<path d="M415.80 371.60V376.76M414.10 371.60h3.40M414.10 376.76h3.40" stroke="#9d9fa2" stroke-width="0.85" fill="none"/>
<path d="M442.80 364.52V368.38M441.10 364.52h3.40M441.10 368.38h3.40" stroke="#9d9fa2" stroke-width="0.85" fill="none"/>
<path d="M469.80 361.94V364.52M468.10 361.94h3.40M468.10 364.52h3.40" stroke="#9d9fa2" stroke-width="0.85" fill="none"/>
<polygon points="386.70,388.68 390.70,388.68 388.70,392.28" fill="#9d9fa2"/>
<polygon points="413.80,372.58 417.80,372.58 415.80,376.18" fill="#9d9fa2"/>
<polygon points="440.80,364.85 444.80,364.85 442.80,368.45" fill="#9d9fa2"/>
<polygon points="467.80,361.63 471.80,361.63 469.80,365.23" fill="#9d9fa2"/>
<polygon points="494.90,359.70 498.90,359.70 496.90,363.30" fill="#9d9fa2"/>
<polyline points="388.70,394.79 415.80,387.06 442.80,370.96 469.80,364.52 496.90,361.30" fill="none" stroke="#9d9fa2" stroke-width="1.6" stroke-linejoin="round" stroke-linecap="round"/>
<path d="M388.70 392.21V397.36M387.00 392.21h3.40M387.00 397.36h3.40" stroke="#9d9fa2" stroke-width="0.85" fill="none"/>
<path d="M415.80 381.91V392.21M414.10 381.91h3.40M414.10 392.21h3.40" stroke="#9d9fa2" stroke-width="0.85" fill="none"/>
<path d="M442.80 367.74V374.18M441.10 367.74h3.40M441.10 374.18h3.40" stroke="#9d9fa2" stroke-width="0.85" fill="none"/>
<path d="M469.80 362.59V366.45M468.10 362.59h3.40M468.10 366.45h3.40" stroke="#9d9fa2" stroke-width="0.85" fill="none"/>
<polygon points="386.70,393.19 390.70,393.19 388.70,396.79" fill="#9d9fa2"/>
<polygon points="413.80,385.46 417.80,385.46 415.80,389.06" fill="#9d9fa2"/>
<polygon points="440.80,369.36 444.80,369.36 442.80,372.96" fill="#9d9fa2"/>
<polygon points="467.80,362.92 471.80,362.92 469.80,366.52" fill="#9d9fa2"/>
<polygon points="494.90,359.70 498.90,359.70 496.90,363.30" fill="#9d9fa2"/>
<polyline points="388.70,412.82 415.80,396.72 442.80,377.40 469.80,367.74 496.90,361.30" fill="none" stroke="#9d9fa2" stroke-width="1.6" stroke-linejoin="round" stroke-linecap="round"/>
<path d="M388.70 410.24V415.40M387.00 410.24h3.40M387.00 415.40h3.40" stroke="#9d9fa2" stroke-width="0.85" fill="none"/>
<path d="M415.80 390.28V403.16M414.10 390.28h3.40M414.10 403.16h3.40" stroke="#9d9fa2" stroke-width="0.85" fill="none"/>
<path d="M442.80 372.25V382.55M441.10 372.25h3.40M441.10 382.55h3.40" stroke="#9d9fa2" stroke-width="0.85" fill="none"/>
<path d="M469.80 365.16V370.32M468.10 365.16h3.40M468.10 370.32h3.40" stroke="#9d9fa2" stroke-width="0.85" fill="none"/>
<polygon points="386.70,411.22 390.70,411.22 388.70,414.82" fill="#9d9fa2"/>
<polygon points="413.80,395.12 417.80,395.12 415.80,398.72" fill="#9d9fa2"/>
<polygon points="440.80,375.80 444.80,375.80 442.80,379.40" fill="#9d9fa2"/>
<polygon points="467.80,366.14 471.80,366.14 469.80,369.74" fill="#9d9fa2"/>
<polygon points="494.90,359.70 498.90,359.70 496.90,363.30" fill="#9d9fa2"/>
<polyline points="388.70,419.26 415.80,406.38 442.80,390.28 469.80,375.47 496.90,361.30" fill="none" stroke="#9d9fa2" stroke-width="1.6" stroke-linejoin="round" stroke-linecap="round"/>
<path d="M388.70 416.68V421.84M387.00 416.68h3.40M387.00 421.84h3.40" stroke="#9d9fa2" stroke-width="0.85" fill="none"/>
<path d="M415.80 399.94V412.82M414.10 399.94h3.40M414.10 412.82h3.40" stroke="#9d9fa2" stroke-width="0.85" fill="none"/>
<path d="M442.80 382.55V398.01M441.10 382.55h3.40M441.10 398.01h3.40" stroke="#9d9fa2" stroke-width="0.85" fill="none"/>
<path d="M469.80 370.32V380.62M468.10 370.32h3.40M468.10 380.62h3.40" stroke="#9d9fa2" stroke-width="0.85" fill="none"/>
<polygon points="386.70,417.66 390.70,417.66 388.70,421.26" fill="#9d9fa2"/>
<polygon points="413.80,404.78 417.80,404.78 415.80,408.38" fill="#9d9fa2"/>
<polygon points="440.80,388.68 444.80,388.68 442.80,392.28" fill="#9d9fa2"/>
<polygon points="467.80,373.87 471.80,373.87 469.80,377.47" fill="#9d9fa2"/>
<polygon points="494.90,359.70 498.90,359.70 496.90,363.30" fill="#9d9fa2"/>
<polyline points="388.70,425.06 415.80,424.41 442.80,420.55 469.80,412.82 496.90,361.30" fill="none" stroke="#9d9fa2" stroke-width="1.6" stroke-linejoin="round" stroke-linecap="round"/>
<path d="M442.80 418.62V422.48M441.10 418.62h3.40M441.10 422.48h3.40" stroke="#9d9fa2" stroke-width="0.85" fill="none"/>
<path d="M469.80 407.67V417.97M468.10 407.67h3.40M468.10 417.97h3.40" stroke="#9d9fa2" stroke-width="0.85" fill="none"/>
<polygon points="386.70,423.46 390.70,423.46 388.70,427.06" fill="#9d9fa2"/>
<polygon points="413.80,422.81 417.80,422.81 415.80,426.41" fill="#9d9fa2"/>
<polygon points="440.80,418.95 444.80,418.95 442.80,422.55" fill="#9d9fa2"/>
<polygon points="467.80,411.22 471.80,411.22 469.80,414.82" fill="#9d9fa2"/>
<polygon points="494.90,359.70 498.90,359.70 496.90,363.30" fill="#9d9fa2"/>
<polyline points="388.70,424.41 415.80,423.77 442.80,419.26 469.80,409.60 496.90,361.30" fill="none" stroke="#9d9fa2" stroke-width="1.6" stroke-linejoin="round" stroke-linecap="round"/>
<path d="M442.80 417.33V421.19M441.10 417.33h3.40M441.10 421.19h3.40" stroke="#9d9fa2" stroke-width="0.85" fill="none"/>
<path d="M469.80 404.45V414.75M468.10 404.45h3.40M468.10 414.75h3.40" stroke="#9d9fa2" stroke-width="0.85" fill="none"/>
<polygon points="386.70,422.81 390.70,422.81 388.70,426.41" fill="#9d9fa2"/>
<polygon points="413.80,422.17 417.80,422.17 415.80,425.77" fill="#9d9fa2"/>
<polygon points="440.80,417.66 444.80,417.66 442.80,421.26" fill="#9d9fa2"/>
<polygon points="467.80,408.00 471.80,408.00 469.80,411.60" fill="#9d9fa2"/>
<polygon points="494.90,359.70 498.90,359.70 496.90,363.30" fill="#9d9fa2"/>
<polyline points="388.70,424.41 415.80,423.12 442.80,415.40 469.80,401.23 496.90,361.30" fill="none" stroke="#9d9fa2" stroke-width="1.6" stroke-linejoin="round" stroke-linecap="round"/>
<path d="M442.80 412.82V417.97M441.10 412.82h3.40M441.10 417.97h3.40" stroke="#9d9fa2" stroke-width="0.85" fill="none"/>
<path d="M469.80 394.79V407.67M468.10 394.79h3.40M468.10 407.67h3.40" stroke="#9d9fa2" stroke-width="0.85" fill="none"/>
<polygon points="386.70,422.81 390.70,422.81 388.70,426.41" fill="#9d9fa2"/>
<polygon points="413.80,421.52 417.80,421.52 415.80,425.12" fill="#9d9fa2"/>
<polygon points="440.80,413.80 444.80,413.80 442.80,417.40" fill="#9d9fa2"/>
<polygon points="467.80,399.63 471.80,399.63 469.80,403.23" fill="#9d9fa2"/>
<polygon points="494.90,359.70 498.90,359.70 496.90,363.30" fill="#9d9fa2"/>
<polyline points="388.70,425.06 415.80,423.77 442.80,417.97 469.80,406.38 496.90,361.30" fill="none" stroke="#9d9fa2" stroke-width="1.6" stroke-linejoin="round" stroke-linecap="round"/>
<polygon points="386.70,423.46 390.70,423.46 388.70,427.06" fill="#9d9fa2"/>
<polygon points="413.80,422.17 417.80,422.17 415.80,425.77" fill="#9d9fa2"/>
<polygon points="440.80,416.37 444.80,416.37 442.80,419.97" fill="#9d9fa2"/>
<polygon points="467.80,404.78 471.80,404.78 469.80,408.38" fill="#9d9fa2"/>
<polygon points="494.90,359.70 498.90,359.70 496.90,363.30" fill="#9d9fa2"/>
<polyline points="388.70,401.87 415.80,390.28 442.80,382.55 469.80,372.25 496.90,361.30" fill="none" stroke="#2b3c9b" stroke-width="2.1" stroke-linejoin="round" stroke-linecap="round"/>
<path d="M388.70 399.30V404.45M387.00 399.30h3.40M387.00 404.45h3.40" stroke="#2b3c9b" stroke-width="0.85" fill="none"/>
<path d="M415.80 387.06V393.50M414.10 387.06h3.40M414.10 393.50h3.40" stroke="#2b3c9b" stroke-width="0.85" fill="none"/>
<path d="M442.80 379.98V385.13M441.10 379.98h3.40M441.10 385.13h3.40" stroke="#2b3c9b" stroke-width="0.85" fill="none"/>
<path d="M469.80 369.03V375.47M468.10 369.03h3.40M468.10 375.47h3.40" stroke="#2b3c9b" stroke-width="0.85" fill="none"/>
<polygon points="387.20,400.67 390.20,400.67 388.70,403.37" fill="#2b3c9b"/>
<polygon points="414.30,389.08 417.30,389.08 415.80,391.78" fill="#2b3c9b"/>
<polygon points="441.30,381.35 444.30,381.35 442.80,384.05" fill="#2b3c9b"/>
<polygon points="468.30,371.05 471.30,371.05 469.80,373.75" fill="#2b3c9b"/>
<polygon points="495.40,360.10 498.40,360.10 496.90,362.80" fill="#2b3c9b"/>
<polyline points="388.70,416.68 415.80,407.67 442.80,390.92 469.80,376.11 496.90,361.30" fill="none" stroke="#1d9e57" stroke-width="2.1" stroke-linejoin="round" stroke-linecap="round"/>
<path d="M388.70 415.40V417.97M387.00 415.40h3.40M387.00 417.97h3.40" stroke="#1d9e57" stroke-width="0.85" fill="none"/>
<path d="M415.80 403.80V411.53M414.10 403.80h3.40M414.10 411.53h3.40" stroke="#1d9e57" stroke-width="0.85" fill="none"/>
<path d="M442.80 387.70V394.14M441.10 387.70h3.40M441.10 394.14h3.40" stroke="#1d9e57" stroke-width="0.85" fill="none"/>
<path d="M469.80 372.89V379.33M468.10 372.89h3.40M468.10 379.33h3.40" stroke="#1d9e57" stroke-width="0.85" fill="none"/>
<polygon points="387.20,415.48 390.20,415.48 388.70,418.18" fill="#1d9e57"/>
<polygon points="414.30,406.47 417.30,406.47 415.80,409.17" fill="#1d9e57"/>
<polygon points="441.30,389.72 444.30,389.72 442.80,392.42" fill="#1d9e57"/>
<polygon points="468.30,374.91 471.30,374.91 469.80,377.61" fill="#1d9e57"/>
<polygon points="495.40,360.10 498.40,360.10 496.90,362.80" fill="#1d9e57"/>
<polyline points="388.70,425.06 415.80,424.41 442.80,417.97 469.80,405.09 496.90,361.30" fill="none" stroke="#e5202e" stroke-width="2.3" stroke-linejoin="round" stroke-linecap="round"/>
<path d="M442.80 416.04V419.90M441.10 416.04h3.40M441.10 419.90h3.40" stroke="#e5202e" stroke-width="0.85" fill="none"/>
<path d="M469.80 398.65V411.53M468.10 398.65h3.40M468.10 411.53h3.40" stroke="#e5202e" stroke-width="0.85" fill="none"/>
<polygon points="387.20,423.86 390.20,423.86 388.70,426.56" fill="#e5202e"/>
<polygon points="414.30,423.21 417.30,423.21 415.80,425.91" fill="#e5202e"/>
<polygon points="441.30,416.77 444.30,416.77 442.80,419.47" fill="#e5202e"/>
<polygon points="468.30,403.89 471.30,403.89 469.80,406.59" fill="#e5202e"/>
<polygon points="495.40,360.10 498.40,360.10 496.90,362.80" fill="#e5202e"/>
<polyline points="388.70,424.41 415.80,423.12 442.80,416.68 469.80,403.80 496.90,361.30" fill="none" stroke="#f26a30" stroke-width="2.2" stroke-linejoin="round" stroke-linecap="round"/>
<path d="M415.80 421.84V424.41M414.10 421.84h3.40M414.10 424.41h3.40" stroke="#f26a30" stroke-width="0.85" fill="none"/>
<path d="M442.80 414.75V418.62M441.10 414.75h3.40M441.10 418.62h3.40" stroke="#f26a30" stroke-width="0.85" fill="none"/>
<path d="M469.80 394.79V412.82M468.10 394.79h3.40M468.10 412.82h3.40" stroke="#f26a30" stroke-width="0.85" fill="none"/>
<polygon points="387.20,423.21 390.20,423.21 388.70,425.91" fill="#f26a30"/>
<polygon points="414.30,421.92 417.30,421.92 415.80,424.62" fill="#f26a30"/>
<polygon points="441.30,415.48 444.30,415.48 442.80,418.18" fill="#f26a30"/>
<polygon points="468.30,402.60 471.30,402.60 469.80,405.30" fill="#f26a30"/>
<polygon points="495.40,360.10 498.40,360.10 496.90,362.80" fill="#f26a30"/>
<polyline points="388.70,370.96 415.80,363.88 442.80,361.30 469.80,360.66 496.90,361.30" fill="none" stroke="#000" stroke-width="1.9" stroke-linejoin="round" stroke-linecap="round"/>
<path d="M388.70 366.45V375.47M387.00 366.45h3.40M387.00 375.47h3.40" stroke="#000" stroke-width="0.85" fill="none"/>
<path d="M415.80 360.01V367.74M414.10 360.01h3.40M414.10 367.74h3.40" stroke="#000" stroke-width="0.85" fill="none"/>
<path d="M442.80 358.72V363.88M441.10 358.72h3.40M441.10 363.88h3.40" stroke="#000" stroke-width="0.85" fill="none"/>
<path d="M469.80 358.72V362.59M468.10 358.72h3.40M468.10 362.59h3.40" stroke="#000" stroke-width="0.85" fill="none"/>
<rect x="387.10" y="369.36" width="3.20" height="3.20" fill="#000"/>
<rect x="414.20" y="362.28" width="3.20" height="3.20" fill="#000"/>
<rect x="441.20" y="359.70" width="3.20" height="3.20" fill="#000"/>
<rect x="468.20" y="359.06" width="3.20" height="3.20" fill="#000"/>
<rect x="495.30" y="359.70" width="3.20" height="3.20" fill="#000"/>
<polygon points="495.00,359.78 498.80,359.78 496.90,363.20" fill="#f26a30"/>
<line x1="375.60" y1="334.57" x2="375.60" y2="426.30" stroke="#000" stroke-width="1.25"/>
<line x1="375.00" y1="425.70" x2="511.30" y2="425.70" stroke="#000" stroke-width="1.25"/>
<line x1="372.20" y1="425.70" x2="375.60" y2="425.70" stroke="#000" stroke-width="1.0"/>
<text x="372.00" y="428.15" font-size="6.8" font-weight="bold" fill="#111" text-anchor="end">0</text>
<line x1="372.20" y1="409.60" x2="375.60" y2="409.60" stroke="#000" stroke-width="1.0"/>
<text x="372.00" y="412.05" font-size="6.8" font-weight="bold" fill="#111" text-anchor="end">25</text>
<line x1="372.20" y1="393.50" x2="375.60" y2="393.50" stroke="#000" stroke-width="1.0"/>
<text x="372.00" y="395.95" font-size="6.8" font-weight="bold" fill="#111" text-anchor="end">50</text>
<line x1="372.20" y1="377.40" x2="375.60" y2="377.40" stroke="#000" stroke-width="1.0"/>
<text x="372.00" y="379.85" font-size="6.8" font-weight="bold" fill="#111" text-anchor="end">75</text>
<line x1="372.20" y1="361.30" x2="375.60" y2="361.30" stroke="#000" stroke-width="1.0"/>
<text x="372.00" y="363.75" font-size="6.8" font-weight="bold" fill="#111" text-anchor="end">100</text>
<line x1="372.20" y1="345.20" x2="375.60" y2="345.20" stroke="#000" stroke-width="1.0"/>
<text x="372.00" y="347.65" font-size="6.8" font-weight="bold" fill="#111" text-anchor="end">125</text>
<line x1="388.70" y1="425.70" x2="388.70" y2="428.40" stroke="#000" stroke-width="1.0"/>
<text x="388.70" y="435.68" font-size="6.6" font-weight="bold" fill="#111" text-anchor="middle">1:1</text>
<line x1="415.80" y1="425.70" x2="415.80" y2="428.40" stroke="#000" stroke-width="1.0"/>
<text x="415.80" y="435.68" font-size="6.6" font-weight="bold" fill="#111" text-anchor="middle">1:3</text>
<line x1="442.80" y1="425.70" x2="442.80" y2="428.40" stroke="#000" stroke-width="1.0"/>
<text x="442.80" y="435.68" font-size="6.6" font-weight="bold" fill="#111" text-anchor="middle">1:9</text>
<line x1="469.80" y1="425.70" x2="469.80" y2="428.40" stroke="#000" stroke-width="1.0"/>
<text x="469.80" y="435.68" font-size="6.6" font-weight="bold" fill="#111" text-anchor="middle">1:27</text>
<line x1="496.90" y1="425.70" x2="496.90" y2="428.40" stroke="#000" stroke-width="1.0"/>
<text x="496.90" y="435.68" font-size="6.6" font-weight="bold" fill="#111" text-anchor="middle">0:1</text>
<text x="443.00" y="331.17" font-size="10.2" font-weight="bold" fill="#111" text-anchor="middle">REH</text>
<text x="443.00" y="451.93" font-size="7.3" font-weight="bold" fill="#111" text-anchor="middle">E:T Ratio</text>
<text x="354.80" y="383.00" font-size="7.5" font-weight="bold" fill="#111" text-anchor="middle" transform="rotate(-90 354.80 380.30)">% Live target cells (RLU)</text>
<text x="496.20" y="374.25" font-size="6.8" font-weight="bold" fill="#d01f2e" text-anchor="start">CAR 17</text>
<text x="496.20" y="382.50" font-size="6.8" font-weight="bold" fill="#ee6a36" text-anchor="start">CAR 23</text>
<text x="496.20" y="390.75" font-size="6.8" font-weight="bold" fill="#1c8f50" text-anchor="start">CAR 1</text>
<text x="496.20" y="399.00" font-size="6.8" font-weight="bold" fill="#26348c" text-anchor="start">CAR 24</text>
<text x="496.20" y="407.25" font-size="6.8" font-weight="bold" fill="#111" text-anchor="start">NTD</text>
<text x="484.60" y="414.95" font-size="6.8" font-weight="bold" fill="#8b8d90" text-anchor="start">Additonal</text>
<text x="484.60" y="422.95" font-size="6.8" font-weight="bold" fill="#8b8d90" text-anchor="start">CARs</text>
</g>
<g id="panelG">
<text x="13.75" y="480.10" font-size="15.7" font-weight="bold" fill="#000" text-anchor="middle">G</text>
<rect x="149.00" y="469.00" width="13.43" height="11.50" fill="#0d8c42" stroke="none" stroke-width="1"/>
<rect x="161.73" y="469.00" width="13.43" height="11.50" fill="#0d8c42" stroke="none" stroke-width="1"/>
<rect x="174.47" y="469.00" width="13.43" height="11.50" fill="#118e43" stroke="none" stroke-width="1"/>
<rect x="187.20" y="469.00" width="13.43" height="11.50" fill="#0d8c42" stroke="none" stroke-width="1"/>
<rect x="199.93" y="469.00" width="13.43" height="11.50" fill="#0d8c42" stroke="none" stroke-width="1"/>
<rect x="212.67" y="469.00" width="13.43" height="11.50" fill="#118e43" stroke="none" stroke-width="1"/>
<rect x="225.40" y="469.00" width="13.43" height="11.50" fill="#0d8c42" stroke="none" stroke-width="1"/>
<rect x="238.13" y="469.00" width="13.43" height="11.50" fill="#0d8c42" stroke="none" stroke-width="1"/>
<rect x="250.87" y="469.00" width="13.43" height="11.50" fill="#118e43" stroke="none" stroke-width="1"/>
<rect x="263.60" y="469.00" width="13.43" height="11.50" fill="#0d8c42" stroke="none" stroke-width="1"/>
<rect x="276.33" y="469.00" width="13.43" height="11.50" fill="#0d8c42" stroke="none" stroke-width="1"/>
<rect x="289.07" y="469.00" width="13.43" height="11.50" fill="#92c73c" stroke="none" stroke-width="1"/>
<rect x="301.80" y="469.00" width="13.43" height="11.50" fill="#9bca37" stroke="none" stroke-width="1"/>
<rect x="314.53" y="469.00" width="13.43" height="11.50" fill="#9bca37" stroke="none" stroke-width="1"/>
<rect x="327.27" y="469.00" width="13.43" height="11.50" fill="#c8d71e" stroke="none" stroke-width="1"/>
<rect x="340.00" y="469.00" width="13.43" height="11.50" fill="#ffe600" stroke="none" stroke-width="1"/>
<rect x="352.73" y="469.00" width="13.43" height="11.50" fill="#fbbe0d" stroke="none" stroke-width="1"/>
<rect x="365.47" y="469.00" width="13.43" height="11.50" fill="#f14d22" stroke="none" stroke-width="1"/>
<rect x="378.20" y="469.00" width="13.43" height="11.50" fill="#ee2424" stroke="none" stroke-width="1"/>
<rect x="390.93" y="469.00" width="13.43" height="11.50" fill="#ee2424" stroke="none" stroke-width="1"/>
<rect x="403.67" y="469.00" width="13.43" height="11.50" fill="#ee2424" stroke="none" stroke-width="1"/>
<rect x="416.40" y="469.00" width="13.43" height="11.50" fill="#ee2424" stroke="none" stroke-width="1"/>
<rect x="429.13" y="469.00" width="13.43" height="11.50" fill="#ed2024" stroke="none" stroke-width="1"/>
<rect x="441.87" y="469.00" width="12.73" height="11.50" fill="#ed2024" stroke="none" stroke-width="1"/>
<rect x="149.00" y="479.80" width="13.43" height="11.20" fill="#47ac47" stroke="none" stroke-width="1"/>
<rect x="161.73" y="479.80" width="13.43" height="11.20" fill="#0d8c42" stroke="none" stroke-width="1"/>
<rect x="174.47" y="479.80" width="13.43" height="11.20" fill="#57b245" stroke="none" stroke-width="1"/>
<rect x="187.20" y="479.80" width="13.43" height="11.20" fill="#179446" stroke="none" stroke-width="1"/>
<rect x="199.93" y="479.80" width="13.43" height="11.20" fill="#118e43" stroke="none" stroke-width="1"/>
<rect x="212.67" y="479.80" width="13.43" height="11.20" fill="#0d8c42" stroke="none" stroke-width="1"/>
<rect x="225.40" y="479.80" width="13.43" height="11.20" fill="#1b9647" stroke="none" stroke-width="1"/>
<rect x="238.13" y="479.80" width="13.43" height="11.20" fill="#85c340" stroke="none" stroke-width="1"/>
<rect x="250.87" y="479.80" width="13.43" height="11.20" fill="#28a04b" stroke="none" stroke-width="1"/>
<rect x="263.60" y="479.80" width="13.43" height="11.20" fill="#0d8c42" stroke="none" stroke-width="1"/>
<rect x="276.33" y="479.80" width="13.43" height="11.20" fill="#0d8c42" stroke="none" stroke-width="1"/>
<rect x="289.07" y="479.80" width="13.43" height="11.20" fill="#bfd423" stroke="none" stroke-width="1"/>
<rect x="301.80" y="479.80" width="13.43" height="11.20" fill="#0a8a41" stroke="none" stroke-width="1"/>
<rect x="314.53" y="479.80" width="13.43" height="11.20" fill="#0a8a41" stroke="none" stroke-width="1"/>
<rect x="327.27" y="479.80" width="13.43" height="11.20" fill="#f68a1d" stroke="none" stroke-width="1"/>
<rect x="340.00" y="479.80" width="13.43" height="11.20" fill="#078740" stroke="none" stroke-width="1"/>
<rect x="352.73" y="479.80" width="13.43" height="11.20" fill="#b6d228" stroke="none" stroke-width="1"/>
<rect x="365.47" y="479.80" width="13.43" height="11.20" fill="#f03d23" stroke="none" stroke-width="1"/>
<rect x="378.20" y="479.80" width="13.43" height="11.20" fill="#ee2424" stroke="none" stroke-width="1"/>
<rect x="390.93" y="479.80" width="13.43" height="11.20" fill="#ee2424" stroke="none" stroke-width="1"/>
<rect x="403.67" y="479.80" width="13.43" height="11.20" fill="#f68a1d" stroke="none" stroke-width="1"/>
<rect x="416.40" y="479.80" width="13.43" height="11.20" fill="#ee2424" stroke="none" stroke-width="1"/>
<rect x="429.13" y="479.80" width="13.43" height="11.20" fill="#66b744" stroke="none" stroke-width="1"/>
<rect x="441.87" y="479.80" width="12.73" height="11.20" fill="#ee2424" stroke="none" stroke-width="1"/>
<rect x="149.00" y="490.30" width="13.43" height="10.50" fill="#ed2024" stroke="none" stroke-width="1"/>
<rect x="161.73" y="490.30" width="13.43" height="10.50" fill="#ed2024" stroke="none" stroke-width="1"/>
<rect x="174.47" y="490.30" width="13.43" height="10.50" fill="#ed2024" stroke="none" stroke-width="1"/>
<rect x="187.20" y="490.30" width="13.43" height="10.50" fill="#ed2024" stroke="none" stroke-width="1"/>
<rect x="199.93" y="490.30" width="13.43" height="10.50" fill="#ed2024" stroke="none" stroke-width="1"/>
<rect x="212.67" y="490.30" width="13.43" height="10.50" fill="#ed2024" stroke="none" stroke-width="1"/>
<rect x="225.40" y="490.30" width="13.43" height="10.50" fill="#ed2024" stroke="none" stroke-width="1"/>
<rect x="238.13" y="490.30" width="13.43" height="10.50" fill="#ef3023" stroke="none" stroke-width="1"/>
<rect x="250.87" y="490.30" width="13.43" height="10.50" fill="#ee2424" stroke="none" stroke-width="1"/>
<rect x="263.60" y="490.30" width="13.43" height="10.50" fill="#ed2024" stroke="none" stroke-width="1"/>
<rect x="276.33" y="490.30" width="13.43" height="10.50" fill="#ed2024" stroke="none" stroke-width="1"/>
<rect x="289.07" y="490.30" width="13.43" height="10.50" fill="#ed2024" stroke="none" stroke-width="1"/>
<rect x="301.80" y="490.30" width="13.43" height="10.50" fill="#0a8a41" stroke="none" stroke-width="1"/>
<rect x="314.53" y="490.30" width="13.43" height="10.50" fill="#03843f" stroke="none" stroke-width="1"/>
<rect x="327.27" y="490.30" width="13.43" height="10.50" fill="#85c340" stroke="none" stroke-width="1"/>
<rect x="340.00" y="490.30" width="13.43" height="10.50" fill="#fede03" stroke="none" stroke-width="1"/>
<rect x="352.73" y="490.30" width="13.43" height="10.50" fill="#c8d71e" stroke="none" stroke-width="1"/>
<rect x="365.47" y="490.30" width="13.43" height="10.50" fill="#9bca37" stroke="none" stroke-width="1"/>
<rect x="378.20" y="490.30" width="13.43" height="10.50" fill="#f14d22" stroke="none" stroke-width="1"/>
<rect x="390.93" y="490.30" width="13.43" height="10.50" fill="#fdd605" stroke="none" stroke-width="1"/>
<rect x="403.67" y="490.30" width="13.43" height="10.50" fill="#f58220" stroke="none" stroke-width="1"/>
<rect x="416.40" y="490.30" width="13.43" height="10.50" fill="#f47a20" stroke="none" stroke-width="1"/>
<rect x="429.13" y="490.30" width="13.43" height="10.50" fill="#fbbe0d" stroke="none" stroke-width="1"/>
<rect x="441.87" y="490.30" width="12.73" height="10.50" fill="#ef3423" stroke="none" stroke-width="1"/>
<rect x="149.00" y="469.00" width="305.60" height="31.80" fill="none" stroke="#000" stroke-width="1.1"/>
<line x1="144.30" y1="474.90" x2="149.00" y2="474.90" stroke="#000" stroke-width="1.0"/>
<line x1="144.30" y1="485.30" x2="149.00" y2="485.30" stroke="#000" stroke-width="1.0"/>
<line x1="144.30" y1="496.30" x2="149.00" y2="496.30" stroke="#000" stroke-width="1.0"/>
<text x="141.9" y="477.70" font-size="7.0" font-weight="bold" fill="#222" text-anchor="end">% Lysis of CD70<tspan font-size="4.8" dy="-2.6">lo</tspan><tspan dy="2.6"> targets</tspan></text>
<text x="141.9" y="487.80" font-size="7.0" font-weight="bold" fill="#222" text-anchor="end">% Lysis of CD70<tspan font-size="4.8" dy="-2.6">hi</tspan><tspan dy="2.6"> targets</tspan></text>
<text x="141.90" y="499.52" font-size="7.0" font-weight="bold" fill="#222" text-anchor="end">% CD70 expression</text>
<line x1="155.37" y1="500.80" x2="155.37" y2="505.60" stroke="#000" stroke-width="1.2"/>
<text x="157.57" y="510.30" font-size="6.8" fill="#1a1a1a" stroke="#1a1a1a" stroke-width="0.18" text-anchor="end" transform="rotate(-45 157.57 510.30)">CAR<tspan font-size="5.9" font-weight="bold">19</tspan></text>
<line x1="168.10" y1="500.80" x2="168.10" y2="505.60" stroke="#000" stroke-width="1.2"/>
<text x="170.30" y="510.30" font-size="6.8" fill="#1a1a1a" stroke="#1a1a1a" stroke-width="0.18" text-anchor="end" transform="rotate(-45 170.30 510.30)">CAR<tspan font-size="5.9" font-weight="bold">3</tspan></text>
<line x1="180.83" y1="500.80" x2="180.83" y2="505.60" stroke="#000" stroke-width="1.2"/>
<text x="183.03" y="510.30" font-size="6.8" fill="#1a1a1a" stroke="#1a1a1a" stroke-width="0.18" text-anchor="end" transform="rotate(-45 183.03 510.30)">CAR<tspan font-size="5.9" font-weight="bold">22</tspan></text>
<line x1="193.57" y1="500.80" x2="193.57" y2="505.60" stroke="#000" stroke-width="1.2"/>
<text x="195.77" y="510.30" font-size="6.8" fill="#1a1a1a" stroke="#1a1a1a" stroke-width="0.18" text-anchor="end" transform="rotate(-45 195.77 510.30)">CAR<tspan font-size="5.9" font-weight="bold">15</tspan></text>
<line x1="206.30" y1="500.80" x2="206.30" y2="505.60" stroke="#000" stroke-width="1.2"/>
<text x="208.50" y="510.30" font-size="6.8" fill="#1a1a1a" stroke="#1a1a1a" stroke-width="0.18" text-anchor="end" transform="rotate(-45 208.50 510.30)">CAR<tspan font-size="5.9" font-weight="bold">17</tspan></text>
<line x1="219.03" y1="500.80" x2="219.03" y2="505.60" stroke="#000" stroke-width="1.2"/>
<text x="221.23" y="510.30" font-size="6.8" fill="#1a1a1a" stroke="#1a1a1a" stroke-width="0.18" text-anchor="end" transform="rotate(-45 221.23 510.30)">CAR<tspan font-size="5.9" font-weight="bold">9</tspan></text>
<line x1="231.77" y1="500.80" x2="231.77" y2="505.60" stroke="#000" stroke-width="1.2"/>
<text x="233.97" y="510.30" font-size="6.8" fill="#1a1a1a" stroke="#1a1a1a" stroke-width="0.18" text-anchor="end" transform="rotate(-45 233.97 510.30)">CAR<tspan font-size="5.9" font-weight="bold">14</tspan></text>
<line x1="244.50" y1="500.80" x2="244.50" y2="505.60" stroke="#000" stroke-width="1.2"/>
<text x="246.70" y="510.30" font-size="6.8" fill="#1a1a1a" stroke="#1a1a1a" stroke-width="0.18" text-anchor="end" transform="rotate(-45 246.70 510.30)">CAR<tspan font-size="5.9" font-weight="bold">18</tspan></text>
<line x1="257.23" y1="500.80" x2="257.23" y2="505.60" stroke="#000" stroke-width="1.2"/>
<text x="259.43" y="510.30" font-size="6.8" fill="#1a1a1a" stroke="#1a1a1a" stroke-width="0.18" text-anchor="end" transform="rotate(-45 259.43 510.30)">CAR<tspan font-size="5.9" font-weight="bold">23</tspan></text>
<line x1="269.97" y1="500.80" x2="269.97" y2="505.60" stroke="#000" stroke-width="1.2"/>
<text x="272.17" y="510.30" font-size="6.8" fill="#1a1a1a" stroke="#1a1a1a" stroke-width="0.18" text-anchor="end" transform="rotate(-45 272.17 510.30)">CAR<tspan font-size="5.9" font-weight="bold">20</tspan></text>
<line x1="282.70" y1="500.80" x2="282.70" y2="505.60" stroke="#000" stroke-width="1.2"/>
<text x="284.90" y="510.30" font-size="6.8" fill="#1a1a1a" stroke="#1a1a1a" stroke-width="0.18" text-anchor="end" transform="rotate(-45 284.90 510.30)">CAR<tspan font-size="5.9" font-weight="bold">12</tspan></text>
<line x1="295.43" y1="500.80" x2="295.43" y2="505.60" stroke="#000" stroke-width="1.2"/>
<text x="297.63" y="510.30" font-size="6.8" fill="#1a1a1a" stroke="#1a1a1a" stroke-width="0.18" text-anchor="end" transform="rotate(-45 297.63 510.30)">CAR<tspan font-size="5.9" font-weight="bold">11</tspan></text>
<line x1="308.17" y1="500.80" x2="308.17" y2="505.60" stroke="#000" stroke-width="1.2"/>
<text x="310.37" y="510.30" font-size="6.8" fill="#1a1a1a" stroke="#1a1a1a" stroke-width="0.18" text-anchor="end" transform="rotate(-45 310.37 510.30)">CAR<tspan font-size="5.9" font-weight="bold">6</tspan></text>
<line x1="320.90" y1="500.80" x2="320.90" y2="505.60" stroke="#000" stroke-width="1.2"/>
<text x="323.10" y="510.30" font-size="6.8" fill="#1a1a1a" stroke="#1a1a1a" stroke-width="0.18" text-anchor="end" transform="rotate(-45 323.10 510.30)">CAR<tspan font-size="5.9" font-weight="bold">1</tspan></text>
<line x1="333.63" y1="500.80" x2="333.63" y2="505.60" stroke="#000" stroke-width="1.2"/>
<text x="335.83" y="510.30" font-size="6.8" fill="#1a1a1a" stroke="#1a1a1a" stroke-width="0.18" text-anchor="end" transform="rotate(-45 335.83 510.30)">CAR<tspan font-size="5.9" font-weight="bold">10</tspan></text>
<line x1="346.37" y1="500.80" x2="346.37" y2="505.60" stroke="#000" stroke-width="1.2"/>
<text x="348.57" y="510.30" font-size="6.8" fill="#1a1a1a" stroke="#1a1a1a" stroke-width="0.18" text-anchor="end" transform="rotate(-45 348.57 510.30)">CAR<tspan font-size="5.9" font-weight="bold">24</tspan></text>
<line x1="359.10" y1="500.80" x2="359.10" y2="505.60" stroke="#000" stroke-width="1.2"/>
<text x="361.30" y="510.30" font-size="6.8" fill="#1a1a1a" stroke="#1a1a1a" stroke-width="0.18" text-anchor="end" transform="rotate(-45 361.30 510.30)">CAR<tspan font-size="5.9" font-weight="bold">2</tspan></text>
<line x1="371.83" y1="500.80" x2="371.83" y2="505.60" stroke="#000" stroke-width="1.2"/>
<text x="374.03" y="510.30" font-size="6.8" fill="#1a1a1a" stroke="#1a1a1a" stroke-width="0.18" text-anchor="end" transform="rotate(-45 374.03 510.30)">CAR<tspan font-size="5.9" font-weight="bold">21</tspan></text>
<line x1="384.57" y1="500.80" x2="384.57" y2="505.60" stroke="#000" stroke-width="1.2"/>
<text x="386.77" y="510.30" font-size="6.8" fill="#1a1a1a" stroke="#1a1a1a" stroke-width="0.18" text-anchor="end" transform="rotate(-45 386.77 510.30)">CAR<tspan font-size="5.9" font-weight="bold">5</tspan></text>
<line x1="397.30" y1="500.80" x2="397.30" y2="505.60" stroke="#000" stroke-width="1.2"/>
<text x="399.50" y="510.30" font-size="6.8" fill="#1a1a1a" stroke="#1a1a1a" stroke-width="0.18" text-anchor="end" transform="rotate(-45 399.50 510.30)">CAR<tspan font-size="5.9" font-weight="bold">13</tspan></text>
<line x1="410.03" y1="500.80" x2="410.03" y2="505.60" stroke="#000" stroke-width="1.2"/>
<text x="412.23" y="510.30" font-size="6.8" fill="#1a1a1a" stroke="#1a1a1a" stroke-width="0.18" text-anchor="end" transform="rotate(-45 412.23 510.30)">CAR<tspan font-size="5.9" font-weight="bold">8</tspan></text>
<line x1="422.77" y1="500.80" x2="422.77" y2="505.60" stroke="#000" stroke-width="1.2"/>
<text x="424.97" y="510.30" font-size="6.8" fill="#1a1a1a" stroke="#1a1a1a" stroke-width="0.18" text-anchor="end" transform="rotate(-45 424.97 510.30)">CAR<tspan font-size="5.9" font-weight="bold">7</tspan></text>
<line x1="435.50" y1="500.80" x2="435.50" y2="505.60" stroke="#000" stroke-width="1.2"/>
<text x="437.70" y="510.30" font-size="6.8" fill="#1a1a1a" stroke="#1a1a1a" stroke-width="0.18" text-anchor="end" transform="rotate(-45 437.70 510.30)">CAR<tspan font-size="5.9" font-weight="bold">4</tspan></text>
<line x1="448.23" y1="500.80" x2="448.23" y2="505.60" stroke="#000" stroke-width="1.2"/>
<text x="450.43" y="510.30" font-size="6.4" fill="#1a1a1a" stroke="#1a1a1a" stroke-width="0.18" text-anchor="end" transform="rotate(-45 450.43 510.30)">NTD</text>
<line x1="150.20" y1="528.30" x2="293.60" y2="528.30" stroke="#e5202e" stroke-width="1.3"/>
<line x1="295.40" y1="528.30" x2="433.60" y2="528.30" stroke="#1d9e57" stroke-width="1.3"/>
<text x="223.20" y="537.28" font-size="6.9" fill="#d01f2e" text-anchor="middle">Class 1 CARs</text>
<text x="366.20" y="537.28" font-size="6.9" fill="#1c8f50" text-anchor="middle">Class 2 CARs</text>
<defs><linearGradient id="cbar" x1="0" y1="1" x2="0" y2="0"><stop offset="0%" stop-color="#ed1c24"/><stop offset="12%" stop-color="#f14d22"/><stop offset="25%" stop-color="#f58220"/><stop offset="38%" stop-color="#fab60f"/><stop offset="50%" stop-color="#ffe600"/><stop offset="62%" stop-color="#c8d71e"/><stop offset="75%" stop-color="#8dc63f"/><stop offset="88%" stop-color="#28a04b"/><stop offset="100%" stop-color="#00823e"/></linearGradient></defs>
<rect x="467.60" y="469.70" width="12.40" height="31.50" fill="url(#cbar)" stroke="#000" stroke-width="1.0"/>
<line x1="467.60" y1="494.64" x2="469.60" y2="494.64" stroke="#000" stroke-width="0.7"/>
<line x1="478.00" y1="494.64" x2="480.00" y2="494.64" stroke="#000" stroke-width="0.7"/>
<line x1="467.60" y1="488.28" x2="469.60" y2="488.28" stroke="#000" stroke-width="0.7"/>
<line x1="478.00" y1="488.28" x2="480.00" y2="488.28" stroke="#000" stroke-width="0.7"/>
<line x1="467.60" y1="481.92" x2="469.60" y2="481.92" stroke="#000" stroke-width="0.7"/>
<line x1="478.00" y1="481.92" x2="480.00" y2="481.92" stroke="#000" stroke-width="0.7"/>
<line x1="467.60" y1="475.56" x2="469.60" y2="475.56" stroke="#000" stroke-width="0.7"/>
<line x1="478.00" y1="475.56" x2="480.00" y2="475.56" stroke="#000" stroke-width="0.7"/>
<text x="485.00" y="472.19" font-size="8.3" fill="#222" text-anchor="start">100</text>
<text x="485.00" y="478.55" font-size="8.3" fill="#222" text-anchor="start">80</text>
<text x="485.00" y="484.91" font-size="8.3" fill="#222" text-anchor="start">60</text>
<text x="485.00" y="491.27" font-size="8.3" fill="#222" text-anchor="start">40</text>
<text x="485.00" y="497.63" font-size="8.3" fill="#222" text-anchor="start">20</text>
<text x="485.00" y="503.99" font-size="8.3" fill="#222" text-anchor="start">0</text>
</g>
<g id="panelH">
<text x="7.80" y="548.10" font-size="15.7" font-weight="bold" fill="#000" text-anchor="middle">H</text>
<polyline points="50.42,653.90 75.25,651.72 93.87,629.89 118.69,595.70 137.31,584.79 162.14,575.33" fill="none" stroke="#9d9fa2" stroke-width="1.5" stroke-linejoin="round" stroke-linecap="round"/>
<path d="M93.87 621.16V638.62M92.17 621.16h3.40M92.17 638.62h3.40" stroke="#9d9fa2" stroke-width="0.85" fill="none"/>
<path d="M118.69 590.61V600.79M116.99 590.61h3.40M116.99 600.79h3.40" stroke="#9d9fa2" stroke-width="0.85" fill="none"/>
<path d="M137.31 581.88V587.70M135.61 581.88h3.40M135.61 587.70h3.40" stroke="#9d9fa2" stroke-width="0.85" fill="none"/>
<path d="M162.14 569.51V581.15M160.44 569.51h3.40M160.44 581.15h3.40" stroke="#9d9fa2" stroke-width="0.85" fill="none"/>
<circle cx="50.42" cy="653.90" r="1.10" fill="#9d9fa2"/>
<circle cx="75.25" cy="651.72" r="1.10" fill="#9d9fa2"/>
<circle cx="93.87" cy="629.89" r="1.10" fill="#9d9fa2"/>
<circle cx="118.69" cy="595.70" r="1.10" fill="#9d9fa2"/>
<circle cx="137.31" cy="584.79" r="1.10" fill="#9d9fa2"/>
<circle cx="162.14" cy="575.33" r="1.10" fill="#9d9fa2"/>
<polyline points="50.42,653.90 75.25,650.99 93.87,633.53 118.69,601.52 137.31,586.97 162.14,577.51" fill="none" stroke="#9d9fa2" stroke-width="1.5" stroke-linejoin="round" stroke-linecap="round"/>
<path d="M93.87 627.71V639.35M92.17 627.71h3.40M92.17 639.35h3.40" stroke="#9d9fa2" stroke-width="0.85" fill="none"/>
<path d="M118.69 597.15V605.88M116.99 597.15h3.40M116.99 605.88h3.40" stroke="#9d9fa2" stroke-width="0.85" fill="none"/>
<path d="M137.31 584.06V589.88M135.61 584.06h3.40M135.61 589.88h3.40" stroke="#9d9fa2" stroke-width="0.85" fill="none"/>
<path d="M162.14 573.88V581.15M160.44 573.88h3.40M160.44 581.15h3.40" stroke="#9d9fa2" stroke-width="0.85" fill="none"/>
<circle cx="50.42" cy="653.90" r="1.10" fill="#9d9fa2"/>
<circle cx="75.25" cy="650.99" r="1.10" fill="#9d9fa2"/>
<circle cx="93.87" cy="633.53" r="1.10" fill="#9d9fa2"/>
<circle cx="118.69" cy="601.52" r="1.10" fill="#9d9fa2"/>
<circle cx="137.31" cy="586.97" r="1.10" fill="#9d9fa2"/>
<circle cx="162.14" cy="577.51" r="1.10" fill="#9d9fa2"/>
<polyline points="50.42,653.90 75.25,652.44 93.87,635.71 118.69,613.89 137.31,588.42 162.14,579.70" fill="none" stroke="#9d9fa2" stroke-width="1.5" stroke-linejoin="round" stroke-linecap="round"/>
<path d="M93.87 629.89V641.53M92.17 629.89h3.40M92.17 641.53h3.40" stroke="#9d9fa2" stroke-width="0.85" fill="none"/>
<path d="M118.69 608.07V619.71M116.99 608.07h3.40M116.99 619.71h3.40" stroke="#9d9fa2" stroke-width="0.85" fill="none"/>
<path d="M137.31 584.79V592.06M135.61 584.79h3.40M135.61 592.06h3.40" stroke="#9d9fa2" stroke-width="0.85" fill="none"/>
<path d="M162.14 576.06V583.33M160.44 576.06h3.40M160.44 583.33h3.40" stroke="#9d9fa2" stroke-width="0.85" fill="none"/>
<circle cx="50.42" cy="653.90" r="1.10" fill="#9d9fa2"/>
<circle cx="75.25" cy="652.44" r="1.10" fill="#9d9fa2"/>
<circle cx="93.87" cy="635.71" r="1.10" fill="#9d9fa2"/>
<circle cx="118.69" cy="613.89" r="1.10" fill="#9d9fa2"/>
<circle cx="137.31" cy="588.42" r="1.10" fill="#9d9fa2"/>
<circle cx="162.14" cy="579.70" r="1.10" fill="#9d9fa2"/>
<polyline points="50.42,653.90 75.25,653.17 93.87,639.35 118.69,621.16 137.31,589.88 162.14,581.15" fill="none" stroke="#9d9fa2" stroke-width="1.5" stroke-linejoin="round" stroke-linecap="round"/>
<path d="M93.87 632.08V646.62M92.17 632.08h3.40M92.17 646.62h3.40" stroke="#9d9fa2" stroke-width="0.85" fill="none"/>
<path d="M118.69 613.89V628.44M116.99 613.89h3.40M116.99 628.44h3.40" stroke="#9d9fa2" stroke-width="0.85" fill="none"/>
<path d="M137.31 586.97V592.79M135.61 586.97h3.40M135.61 592.79h3.40" stroke="#9d9fa2" stroke-width="0.85" fill="none"/>
<path d="M162.14 577.51V584.79M160.44 577.51h3.40M160.44 584.79h3.40" stroke="#9d9fa2" stroke-width="0.85" fill="none"/>
<circle cx="50.42" cy="653.90" r="1.10" fill="#9d9fa2"/>
<circle cx="75.25" cy="653.17" r="1.10" fill="#9d9fa2"/>
<circle cx="93.87" cy="639.35" r="1.10" fill="#9d9fa2"/>
<circle cx="118.69" cy="621.16" r="1.10" fill="#9d9fa2"/>
<circle cx="137.31" cy="589.88" r="1.10" fill="#9d9fa2"/>
<circle cx="162.14" cy="581.15" r="1.10" fill="#9d9fa2"/>
<polyline points="50.42,653.90 75.25,653.17 93.87,642.99 118.69,639.35 137.31,592.06 162.14,582.61" fill="none" stroke="#9d9fa2" stroke-width="1.5" stroke-linejoin="round" stroke-linecap="round"/>
<path d="M93.87 638.62V647.35M92.17 638.62h3.40M92.17 647.35h3.40" stroke="#9d9fa2" stroke-width="0.85" fill="none"/>
<path d="M118.69 634.99V643.72M116.99 634.99h3.40M116.99 643.72h3.40" stroke="#9d9fa2" stroke-width="0.85" fill="none"/>
<path d="M137.31 588.42V595.70M135.61 588.42h3.40M135.61 595.70h3.40" stroke="#9d9fa2" stroke-width="0.85" fill="none"/>
<path d="M162.14 579.70V585.51M160.44 579.70h3.40M160.44 585.51h3.40" stroke="#9d9fa2" stroke-width="0.85" fill="none"/>
<circle cx="50.42" cy="653.90" r="1.10" fill="#9d9fa2"/>
<circle cx="75.25" cy="653.17" r="1.10" fill="#9d9fa2"/>
<circle cx="93.87" cy="642.99" r="1.10" fill="#9d9fa2"/>
<circle cx="118.69" cy="639.35" r="1.10" fill="#9d9fa2"/>
<circle cx="137.31" cy="592.06" r="1.10" fill="#9d9fa2"/>
<circle cx="162.14" cy="582.61" r="1.10" fill="#9d9fa2"/>
<polyline points="50.42,653.90 75.25,653.90 93.87,648.08 118.69,640.80 137.31,610.25 162.14,581.15" fill="none" stroke="#9d9fa2" stroke-width="1.5" stroke-linejoin="round" stroke-linecap="round"/>
<path d="M93.87 645.17V650.99M92.17 645.17h3.40M92.17 650.99h3.40" stroke="#9d9fa2" stroke-width="0.85" fill="none"/>
<path d="M118.69 637.89V643.71M116.99 637.89h3.40M116.99 643.71h3.40" stroke="#9d9fa2" stroke-width="0.85" fill="none"/>
<path d="M137.31 604.43V616.07M135.61 604.43h3.40M135.61 616.07h3.40" stroke="#9d9fa2" stroke-width="0.85" fill="none"/>
<path d="M162.14 578.24V584.06M160.44 578.24h3.40M160.44 584.06h3.40" stroke="#9d9fa2" stroke-width="0.85" fill="none"/>
<circle cx="50.42" cy="653.90" r="1.10" fill="#9d9fa2"/>
<circle cx="75.25" cy="653.90" r="1.10" fill="#9d9fa2"/>
<circle cx="93.87" cy="648.08" r="1.10" fill="#9d9fa2"/>
<circle cx="118.69" cy="640.80" r="1.10" fill="#9d9fa2"/>
<circle cx="137.31" cy="610.25" r="1.10" fill="#9d9fa2"/>
<circle cx="162.14" cy="581.15" r="1.10" fill="#9d9fa2"/>
<polyline points="50.42,653.90 75.25,653.90 93.87,650.26 118.69,642.99 137.31,613.89 162.14,583.33" fill="none" stroke="#9d9fa2" stroke-width="1.5" stroke-linejoin="round" stroke-linecap="round"/>
<path d="M118.69 640.08V645.90M116.99 640.08h3.40M116.99 645.90h3.40" stroke="#9d9fa2" stroke-width="0.85" fill="none"/>
<path d="M137.31 608.07V619.71M135.61 608.07h3.40M135.61 619.71h3.40" stroke="#9d9fa2" stroke-width="0.85" fill="none"/>
<path d="M162.14 580.42V586.24M160.44 580.42h3.40M160.44 586.24h3.40" stroke="#9d9fa2" stroke-width="0.85" fill="none"/>
<circle cx="50.42" cy="653.90" r="1.10" fill="#9d9fa2"/>
<circle cx="75.25" cy="653.90" r="1.10" fill="#9d9fa2"/>
<circle cx="93.87" cy="650.26" r="1.10" fill="#9d9fa2"/>
<circle cx="118.69" cy="642.99" r="1.10" fill="#9d9fa2"/>
<circle cx="137.31" cy="613.89" r="1.10" fill="#9d9fa2"/>
<circle cx="162.14" cy="583.33" r="1.10" fill="#9d9fa2"/>
<polyline points="50.42,653.90 75.25,653.90 93.87,653.90 118.69,653.90 137.31,652.44 162.14,645.17" fill="none" stroke="#2b3c9b" stroke-width="1.85" stroke-linejoin="round" stroke-linecap="round"/>
<path d="M162.14 640.80V649.53M160.44 640.80h3.40M160.44 649.53h3.40" stroke="#2b3c9b" stroke-width="0.85" fill="none"/>
<circle cx="50.42" cy="653.90" r="1.27" fill="#2b3c9b"/>
<circle cx="75.25" cy="653.90" r="1.27" fill="#2b3c9b"/>
<circle cx="93.87" cy="653.90" r="1.27" fill="#2b3c9b"/>
<circle cx="118.69" cy="653.90" r="1.27" fill="#2b3c9b"/>
<circle cx="137.31" cy="652.44" r="1.27" fill="#2b3c9b"/>
<circle cx="162.14" cy="645.17" r="1.27" fill="#2b3c9b"/>
<polyline points="50.42,653.90 75.25,653.90 93.87,653.90 118.69,646.62 137.31,626.98 162.14,584.79" fill="none" stroke="#1d9e57" stroke-width="2.05" stroke-linejoin="round" stroke-linecap="round"/>
<path d="M118.69 642.99V650.26M116.99 642.99h3.40M116.99 650.26h3.40" stroke="#1d9e57" stroke-width="0.85" fill="none"/>
<path d="M137.31 621.89V632.07M135.61 621.89h3.40M135.61 632.07h3.40" stroke="#1d9e57" stroke-width="0.85" fill="none"/>
<path d="M162.14 581.88V587.70M160.44 581.88h3.40M160.44 587.70h3.40" stroke="#1d9e57" stroke-width="0.85" fill="none"/>
<circle cx="50.42" cy="653.90" r="1.27" fill="#1d9e57"/>
<circle cx="75.25" cy="653.90" r="1.27" fill="#1d9e57"/>
<circle cx="93.87" cy="653.90" r="1.27" fill="#1d9e57"/>
<circle cx="118.69" cy="646.62" r="1.27" fill="#1d9e57"/>
<circle cx="137.31" cy="626.98" r="1.27" fill="#1d9e57"/>
<circle cx="162.14" cy="584.79" r="1.27" fill="#1d9e57"/>
<polyline points="50.42,653.90 75.25,652.44 93.87,632.08 118.69,607.34 137.31,585.51 162.14,581.15" fill="none" stroke="#f26a30" stroke-width="2.15" stroke-linejoin="round" stroke-linecap="round"/>
<path d="M93.87 627.71V636.44M92.17 627.71h3.40M92.17 636.44h3.40" stroke="#f26a30" stroke-width="0.85" fill="none"/>
<path d="M118.69 601.52V613.16M116.99 601.52h3.40M116.99 613.16h3.40" stroke="#f26a30" stroke-width="0.85" fill="none"/>
<path d="M137.31 581.88V589.15M135.61 581.88h3.40M135.61 589.15h3.40" stroke="#f26a30" stroke-width="0.85" fill="none"/>
<path d="M162.14 577.51V584.79M160.44 577.51h3.40M160.44 584.79h3.40" stroke="#f26a30" stroke-width="0.85" fill="none"/>
<circle cx="50.42" cy="653.90" r="1.27" fill="#f26a30"/>
<circle cx="75.25" cy="652.44" r="1.27" fill="#f26a30"/>
<circle cx="93.87" cy="632.08" r="1.27" fill="#f26a30"/>
<circle cx="118.69" cy="607.34" r="1.27" fill="#f26a30"/>
<circle cx="137.31" cy="585.51" r="1.27" fill="#f26a30"/>
<circle cx="162.14" cy="581.15" r="1.27" fill="#f26a30"/>
<polyline points="50.42,653.90 75.25,653.90 93.87,653.90 118.69,642.26 137.31,611.71 162.14,575.33" fill="none" stroke="#e5202e" stroke-width="2.35" stroke-linejoin="round" stroke-linecap="round"/>
<path d="M118.69 640.08V644.44M116.99 640.08h3.40M116.99 644.44h3.40" stroke="#e5202e" stroke-width="0.85" fill="none"/>
<path d="M137.31 602.98V620.44M135.61 602.98h3.40M135.61 620.44h3.40" stroke="#e5202e" stroke-width="0.85" fill="none"/>
<path d="M162.14 571.69V578.97M160.44 571.69h3.40M160.44 578.97h3.40" stroke="#e5202e" stroke-width="0.85" fill="none"/>
<circle cx="50.42" cy="653.90" r="1.27" fill="#e5202e"/>
<circle cx="75.25" cy="653.90" r="1.27" fill="#e5202e"/>
<circle cx="93.87" cy="653.90" r="1.27" fill="#e5202e"/>
<circle cx="118.69" cy="642.26" r="1.27" fill="#e5202e"/>
<circle cx="137.31" cy="611.71" r="1.27" fill="#e5202e"/>
<circle cx="162.14" cy="575.33" r="1.27" fill="#e5202e"/>
<polyline points="50.42,599.34 75.25,582.61 93.87,578.97 118.69,581.88 137.31,581.15 162.14,580.42" fill="none" stroke="#000" stroke-width="1.9" stroke-linejoin="round" stroke-linecap="round"/>
<path d="M50.42 594.25V604.43M48.72 594.25h3.40M48.72 604.43h3.40" stroke="#000" stroke-width="0.85" fill="none"/>
<path d="M93.87 574.60V583.33M92.17 574.60h3.40M92.17 583.33h3.40" stroke="#000" stroke-width="0.85" fill="none"/>
<path d="M137.31 578.24V584.06M135.61 578.24h3.40M135.61 584.06h3.40" stroke="#000" stroke-width="0.85" fill="none"/>
<circle cx="50.42" cy="599.34" r="1.27" fill="#000"/>
<circle cx="75.25" cy="582.61" r="1.27" fill="#000"/>
<circle cx="93.87" cy="578.97" r="1.27" fill="#000"/>
<circle cx="118.69" cy="581.88" r="1.27" fill="#000"/>
<circle cx="137.31" cy="581.15" r="1.27" fill="#000"/>
<circle cx="162.14" cy="580.42" r="1.27" fill="#000"/>
<line x1="31.10" y1="564.78" x2="31.10" y2="654.50" stroke="#000" stroke-width="1.25"/>
<line x1="30.50" y1="653.90" x2="163.50" y2="653.90" stroke="#000" stroke-width="1.25"/>
<line x1="28.10" y1="653.90" x2="31.10" y2="653.90" stroke="#000" stroke-width="1.0"/>
<text x="27.80" y="656.20" font-size="6.4" font-weight="bold" fill="#111" text-anchor="end">0</text>
<line x1="28.10" y1="639.35" x2="31.10" y2="639.35" stroke="#000" stroke-width="1.0"/>
<text x="27.80" y="641.65" font-size="6.4" font-weight="bold" fill="#111" text-anchor="end">20</text>
<line x1="28.10" y1="624.80" x2="31.10" y2="624.80" stroke="#000" stroke-width="1.0"/>
<text x="27.80" y="627.10" font-size="6.4" font-weight="bold" fill="#111" text-anchor="end">40</text>
<line x1="28.10" y1="610.25" x2="31.10" y2="610.25" stroke="#000" stroke-width="1.0"/>
<text x="27.80" y="612.55" font-size="6.4" font-weight="bold" fill="#111" text-anchor="end">60</text>
<line x1="28.10" y1="595.70" x2="31.10" y2="595.70" stroke="#000" stroke-width="1.0"/>
<text x="27.80" y="598.00" font-size="6.4" font-weight="bold" fill="#111" text-anchor="end">80</text>
<line x1="28.10" y1="581.15" x2="31.10" y2="581.15" stroke="#000" stroke-width="1.0"/>
<text x="27.80" y="583.45" font-size="6.4" font-weight="bold" fill="#111" text-anchor="end">100</text>
<line x1="28.10" y1="566.60" x2="31.10" y2="566.60" stroke="#000" stroke-width="1.0"/>
<text x="27.80" y="568.90" font-size="6.4" font-weight="bold" fill="#111" text-anchor="end">120</text>
<line x1="31.80" y1="653.90" x2="31.80" y2="656.70" stroke="#000" stroke-width="1.0"/>
<text x="31.80" y="663.74" font-size="6.5" font-weight="bold" fill="#111" text-anchor="middle">0</text>
<line x1="50.42" y1="653.90" x2="50.42" y2="656.70" stroke="#000" stroke-width="1.0"/>
<text x="50.42" y="663.74" font-size="6.5" font-weight="bold" fill="#111" text-anchor="middle">3</text>
<line x1="69.04" y1="653.90" x2="69.04" y2="656.70" stroke="#000" stroke-width="1.0"/>
<text x="69.04" y="663.74" font-size="6.5" font-weight="bold" fill="#111" text-anchor="middle">6</text>
<line x1="87.66" y1="653.90" x2="87.66" y2="656.70" stroke="#000" stroke-width="1.0"/>
<text x="87.66" y="663.74" font-size="6.5" font-weight="bold" fill="#111" text-anchor="middle">9</text>
<line x1="106.28" y1="653.90" x2="106.28" y2="656.70" stroke="#000" stroke-width="1.0"/>
<text x="106.28" y="663.74" font-size="6.5" font-weight="bold" fill="#111" text-anchor="middle">12</text>
<line x1="124.90" y1="653.90" x2="124.90" y2="656.70" stroke="#000" stroke-width="1.0"/>
<text x="124.90" y="663.74" font-size="6.5" font-weight="bold" fill="#111" text-anchor="middle">15</text>
<line x1="143.52" y1="653.90" x2="143.52" y2="656.70" stroke="#000" stroke-width="1.0"/>
<text x="143.52" y="663.74" font-size="6.5" font-weight="bold" fill="#111" text-anchor="middle">18</text>
<line x1="162.14" y1="653.90" x2="162.14" y2="656.70" stroke="#000" stroke-width="1.0"/>
<text x="162.14" y="663.74" font-size="6.5" font-weight="bold" fill="#111" text-anchor="middle">21</text>
<text x="93.80" y="560.47" font-size="10.2" font-weight="bold" fill="#111" text-anchor="middle">786-O</text>
<text x="97.40" y="674.32" font-size="7.0" font-weight="bold" fill="#111" text-anchor="middle">Days</text>
<text x="12.20" y="611.20" font-size="7.5" font-weight="bold" fill="#111" text-anchor="middle" transform="rotate(-90 12.20 608.50)">Target cell viability (%)</text>
<text x="34.20" y="611.82" font-size="5.05" font-weight="bold" fill="#d01f2e" text-anchor="start">CAR 17</text>
<text x="34.20" y="618.17" font-size="5.05" font-weight="bold" fill="#ee6a36" text-anchor="start">CAR 23</text>
<text x="34.20" y="624.52" font-size="5.05" font-weight="bold" fill="#1c8f50" text-anchor="start">CAR 1</text>
<text x="34.20" y="630.87" font-size="5.05" font-weight="bold" fill="#26348c" text-anchor="start">CAR 24</text>
<text x="34.20" y="637.22" font-size="5.05" font-weight="bold" fill="#111" text-anchor="start">NTD</text>
<text x="34.20" y="643.57" font-size="5.05" font-weight="bold" fill="#8b8d90" text-anchor="start">Additional CARs</text>
<polyline points="225.98,649.66 251.02,649.66 269.80,608.14 294.84,616.88 313.62,598.67 338.66,580.47" fill="none" stroke="#9d9fa2" stroke-width="1.5" stroke-linejoin="round" stroke-linecap="round"/>
<path d="M269.80 605.23V611.06M268.10 605.23h3.40M268.10 611.06h3.40" stroke="#9d9fa2" stroke-width="0.85" fill="none"/>
<path d="M294.84 613.24V620.52M293.14 613.24h3.40M293.14 620.52h3.40" stroke="#9d9fa2" stroke-width="0.85" fill="none"/>
<path d="M313.62 591.39V605.96M311.92 591.39h3.40M311.92 605.96h3.40" stroke="#9d9fa2" stroke-width="0.85" fill="none"/>
<path d="M338.66 577.55V583.38M336.96 577.55h3.40M336.96 583.38h3.40" stroke="#9d9fa2" stroke-width="0.85" fill="none"/>
<rect x="224.70" y="648.38" width="2.56" height="2.56" fill="#9d9fa2"/>
<rect x="249.74" y="648.38" width="2.56" height="2.56" fill="#9d9fa2"/>
<rect x="268.52" y="606.86" width="2.56" height="2.56" fill="#9d9fa2"/>
<rect x="293.56" y="615.60" width="2.56" height="2.56" fill="#9d9fa2"/>
<rect x="312.34" y="597.39" width="2.56" height="2.56" fill="#9d9fa2"/>
<rect x="337.38" y="579.19" width="2.56" height="2.56" fill="#9d9fa2"/>
<polyline points="225.98,651.12 251.02,651.12 269.80,624.17 294.84,619.07 313.62,596.49 338.66,589.21" fill="none" stroke="#9d9fa2" stroke-width="1.5" stroke-linejoin="round" stroke-linecap="round"/>
<path d="M269.80 619.80V628.54M268.10 619.80h3.40M268.10 628.54h3.40" stroke="#9d9fa2" stroke-width="0.85" fill="none"/>
<path d="M294.84 616.15V621.98M293.14 616.15h3.40M293.14 621.98h3.40" stroke="#9d9fa2" stroke-width="0.85" fill="none"/>
<path d="M313.62 592.12V600.86M311.92 592.12h3.40M311.92 600.86h3.40" stroke="#9d9fa2" stroke-width="0.85" fill="none"/>
<path d="M338.66 585.56V592.85M336.96 585.56h3.40M336.96 592.85h3.40" stroke="#9d9fa2" stroke-width="0.85" fill="none"/>
<rect x="224.70" y="649.84" width="2.56" height="2.56" fill="#9d9fa2"/>
<rect x="249.74" y="649.84" width="2.56" height="2.56" fill="#9d9fa2"/>
<rect x="268.52" y="622.89" width="2.56" height="2.56" fill="#9d9fa2"/>
<rect x="293.56" y="617.79" width="2.56" height="2.56" fill="#9d9fa2"/>
<rect x="312.34" y="595.21" width="2.56" height="2.56" fill="#9d9fa2"/>
<rect x="337.38" y="587.93" width="2.56" height="2.56" fill="#9d9fa2"/>
<polyline points="225.98,651.84 251.02,651.84 269.80,627.81 294.84,620.52 313.62,600.86 338.66,591.39" fill="none" stroke="#9d9fa2" stroke-width="1.5" stroke-linejoin="round" stroke-linecap="round"/>
<path d="M269.80 621.98V633.63M268.10 621.98h3.40M268.10 633.63h3.40" stroke="#9d9fa2" stroke-width="0.85" fill="none"/>
<path d="M294.84 617.61V623.44M293.14 617.61h3.40M293.14 623.44h3.40" stroke="#9d9fa2" stroke-width="0.85" fill="none"/>
<path d="M313.62 596.49V605.23M311.92 596.49h3.40M311.92 605.23h3.40" stroke="#9d9fa2" stroke-width="0.85" fill="none"/>
<path d="M338.66 587.75V595.03M336.96 587.75h3.40M336.96 595.03h3.40" stroke="#9d9fa2" stroke-width="0.85" fill="none"/>
<rect x="224.70" y="650.56" width="2.56" height="2.56" fill="#9d9fa2"/>
<rect x="249.74" y="650.56" width="2.56" height="2.56" fill="#9d9fa2"/>
<rect x="268.52" y="626.53" width="2.56" height="2.56" fill="#9d9fa2"/>
<rect x="293.56" y="619.25" width="2.56" height="2.56" fill="#9d9fa2"/>
<rect x="312.34" y="599.58" width="2.56" height="2.56" fill="#9d9fa2"/>
<rect x="337.38" y="590.11" width="2.56" height="2.56" fill="#9d9fa2"/>
<polyline points="225.98,652.57 251.02,652.57 269.80,632.91 294.84,624.17 313.62,602.32 338.66,593.58" fill="none" stroke="#9d9fa2" stroke-width="1.5" stroke-linejoin="round" stroke-linecap="round"/>
<path d="M269.80 628.54V637.28M268.10 628.54h3.40M268.10 637.28h3.40" stroke="#9d9fa2" stroke-width="0.85" fill="none"/>
<path d="M294.84 621.25V627.08M293.14 621.25h3.40M293.14 627.08h3.40" stroke="#9d9fa2" stroke-width="0.85" fill="none"/>
<path d="M313.62 598.67V605.96M311.92 598.67h3.40M311.92 605.96h3.40" stroke="#9d9fa2" stroke-width="0.85" fill="none"/>
<path d="M338.66 589.93V597.22M336.96 589.93h3.40M336.96 597.22h3.40" stroke="#9d9fa2" stroke-width="0.85" fill="none"/>
<rect x="224.70" y="651.29" width="2.56" height="2.56" fill="#9d9fa2"/>
<rect x="249.74" y="651.29" width="2.56" height="2.56" fill="#9d9fa2"/>
<rect x="268.52" y="631.63" width="2.56" height="2.56" fill="#9d9fa2"/>
<rect x="293.56" y="622.89" width="2.56" height="2.56" fill="#9d9fa2"/>
<rect x="312.34" y="601.04" width="2.56" height="2.56" fill="#9d9fa2"/>
<rect x="337.38" y="592.30" width="2.56" height="2.56" fill="#9d9fa2"/>
<polyline points="225.98,653.30 251.02,653.30 269.80,646.02 294.84,631.45 313.62,603.77 338.66,595.03" fill="none" stroke="#9d9fa2" stroke-width="1.5" stroke-linejoin="round" stroke-linecap="round"/>
<path d="M269.80 640.19V651.84M268.10 640.19h3.40M268.10 651.84h3.40" stroke="#9d9fa2" stroke-width="0.85" fill="none"/>
<path d="M294.84 624.17V638.73M293.14 624.17h3.40M293.14 638.73h3.40" stroke="#9d9fa2" stroke-width="0.85" fill="none"/>
<path d="M313.62 600.13V607.41M311.92 600.13h3.40M311.92 607.41h3.40" stroke="#9d9fa2" stroke-width="0.85" fill="none"/>
<path d="M338.66 591.39V598.67M336.96 591.39h3.40M336.96 598.67h3.40" stroke="#9d9fa2" stroke-width="0.85" fill="none"/>
<rect x="224.70" y="652.02" width="2.56" height="2.56" fill="#9d9fa2"/>
<rect x="249.74" y="652.02" width="2.56" height="2.56" fill="#9d9fa2"/>
<rect x="268.52" y="644.74" width="2.56" height="2.56" fill="#9d9fa2"/>
<rect x="293.56" y="630.17" width="2.56" height="2.56" fill="#9d9fa2"/>
<rect x="312.34" y="602.49" width="2.56" height="2.56" fill="#9d9fa2"/>
<rect x="337.38" y="593.75" width="2.56" height="2.56" fill="#9d9fa2"/>
<polyline points="225.98,653.30 251.02,653.30 269.80,649.66 294.84,640.19 313.62,613.24 338.66,596.49" fill="none" stroke="#9d9fa2" stroke-width="1.5" stroke-linejoin="round" stroke-linecap="round"/>
<path d="M294.84 634.36V646.02M293.14 634.36h3.40M293.14 646.02h3.40" stroke="#9d9fa2" stroke-width="0.85" fill="none"/>
<path d="M313.62 605.96V620.52M311.92 605.96h3.40M311.92 620.52h3.40" stroke="#9d9fa2" stroke-width="0.85" fill="none"/>
<path d="M338.66 592.85V600.13M336.96 592.85h3.40M336.96 600.13h3.40" stroke="#9d9fa2" stroke-width="0.85" fill="none"/>
<rect x="224.70" y="652.02" width="2.56" height="2.56" fill="#9d9fa2"/>
<rect x="249.74" y="652.02" width="2.56" height="2.56" fill="#9d9fa2"/>
<rect x="268.52" y="648.38" width="2.56" height="2.56" fill="#9d9fa2"/>
<rect x="293.56" y="638.91" width="2.56" height="2.56" fill="#9d9fa2"/>
<rect x="312.34" y="611.96" width="2.56" height="2.56" fill="#9d9fa2"/>
<rect x="337.38" y="595.21" width="2.56" height="2.56" fill="#9d9fa2"/>
<polyline points="225.98,653.30 251.02,653.30 269.80,651.12 294.84,642.38 313.62,609.60 338.66,600.86" fill="none" stroke="#9d9fa2" stroke-width="1.5" stroke-linejoin="round" stroke-linecap="round"/>
<path d="M294.84 638.00V646.75M293.14 638.00h3.40M293.14 646.75h3.40" stroke="#9d9fa2" stroke-width="0.85" fill="none"/>
<path d="M313.62 603.77V615.43M311.92 603.77h3.40M311.92 615.43h3.40" stroke="#9d9fa2" stroke-width="0.85" fill="none"/>
<path d="M338.66 597.22V604.50M336.96 597.22h3.40M336.96 604.50h3.40" stroke="#9d9fa2" stroke-width="0.85" fill="none"/>
<rect x="224.70" y="652.02" width="2.56" height="2.56" fill="#9d9fa2"/>
<rect x="249.74" y="652.02" width="2.56" height="2.56" fill="#9d9fa2"/>
<rect x="268.52" y="649.84" width="2.56" height="2.56" fill="#9d9fa2"/>
<rect x="293.56" y="641.10" width="2.56" height="2.56" fill="#9d9fa2"/>
<rect x="312.34" y="608.32" width="2.56" height="2.56" fill="#9d9fa2"/>
<rect x="337.38" y="599.58" width="2.56" height="2.56" fill="#9d9fa2"/>
<polyline points="225.98,653.30 251.02,653.30 269.80,651.84 294.84,635.09 313.62,603.04 338.66,602.32" fill="none" stroke="#1d9e57" stroke-width="2.15" stroke-linejoin="round" stroke-linecap="round"/>
<path d="M294.84 629.26V640.92M293.14 629.26h3.40M293.14 640.92h3.40" stroke="#1d9e57" stroke-width="0.85" fill="none"/>
<path d="M313.62 600.13V605.96M311.92 600.13h3.40M311.92 605.96h3.40" stroke="#1d9e57" stroke-width="0.85" fill="none"/>
<path d="M338.66 599.40V605.23M336.96 599.40h3.40M336.96 605.23h3.40" stroke="#1d9e57" stroke-width="0.85" fill="none"/>
<circle cx="225.98" cy="653.30" r="1.27" fill="#1d9e57"/>
<circle cx="251.02" cy="653.30" r="1.27" fill="#1d9e57"/>
<circle cx="269.80" cy="651.84" r="1.27" fill="#1d9e57"/>
<circle cx="294.84" cy="635.09" r="1.27" fill="#1d9e57"/>
<circle cx="313.62" cy="603.04" r="1.27" fill="#1d9e57"/>
<circle cx="338.66" cy="602.32" r="1.27" fill="#1d9e57"/>
<polyline points="225.98,653.30 251.02,653.30 269.80,642.38 294.84,626.35 313.62,600.86 338.66,597.95" fill="none" stroke="#f26a30" stroke-width="2.15" stroke-linejoin="round" stroke-linecap="round"/>
<path d="M269.80 636.55V648.20M268.10 636.55h3.40M268.10 648.20h3.40" stroke="#f26a30" stroke-width="0.85" fill="none"/>
<path d="M294.84 623.44V629.26M293.14 623.44h3.40M293.14 629.26h3.40" stroke="#f26a30" stroke-width="0.85" fill="none"/>
<path d="M313.62 597.22V604.50M311.92 597.22h3.40M311.92 604.50h3.40" stroke="#f26a30" stroke-width="0.85" fill="none"/>
<path d="M338.66 594.30V601.59M336.96 594.30h3.40M336.96 601.59h3.40" stroke="#f26a30" stroke-width="0.85" fill="none"/>
<circle cx="225.98" cy="653.30" r="1.27" fill="#f26a30"/>
<circle cx="251.02" cy="653.30" r="1.27" fill="#f26a30"/>
<circle cx="269.80" cy="642.38" r="1.27" fill="#f26a30"/>
<circle cx="294.84" cy="626.35" r="1.27" fill="#f26a30"/>
<circle cx="313.62" cy="600.86" r="1.27" fill="#f26a30"/>
<circle cx="338.66" cy="597.95" r="1.27" fill="#f26a30"/>
<polyline points="225.98,653.30 251.02,653.30 269.80,653.30 294.84,651.12 313.62,648.93 338.66,603.77" fill="none" stroke="#e5202e" stroke-width="2.15" stroke-linejoin="round" stroke-linecap="round"/>
<path d="M294.84 647.47V654.76M293.14 647.47h3.40M293.14 654.76h3.40" stroke="#e5202e" stroke-width="0.85" fill="none"/>
<path d="M313.62 646.02V651.84M311.92 646.02h3.40M311.92 651.84h3.40" stroke="#e5202e" stroke-width="0.85" fill="none"/>
<path d="M338.66 596.49V611.06M336.96 596.49h3.40M336.96 611.06h3.40" stroke="#e5202e" stroke-width="0.85" fill="none"/>
<circle cx="225.98" cy="653.30" r="1.27" fill="#e5202e"/>
<circle cx="251.02" cy="653.30" r="1.27" fill="#e5202e"/>
<circle cx="269.80" cy="653.30" r="1.27" fill="#e5202e"/>
<circle cx="294.84" cy="651.12" r="1.27" fill="#e5202e"/>
<circle cx="313.62" cy="648.93" r="1.27" fill="#e5202e"/>
<circle cx="338.66" cy="603.77" r="1.27" fill="#e5202e"/>
<polyline points="225.98,651.84 251.02,651.84 269.80,595.03 294.84,597.22 313.62,581.92 338.66,577.55" fill="none" stroke="#2b3c9b" stroke-width="2.05" stroke-linejoin="round" stroke-linecap="round"/>
<path d="M269.80 592.12V597.95M268.10 592.12h3.40M268.10 597.95h3.40" stroke="#2b3c9b" stroke-width="0.85" fill="none"/>
<path d="M294.84 595.03V599.40M293.14 595.03h3.40M293.14 599.40h3.40" stroke="#2b3c9b" stroke-width="0.85" fill="none"/>
<path d="M313.62 579.74V584.11M311.92 579.74h3.40M311.92 584.11h3.40" stroke="#2b3c9b" stroke-width="0.85" fill="none"/>
<path d="M338.66 573.18V581.92M336.96 573.18h3.40M336.96 581.92h3.40" stroke="#2b3c9b" stroke-width="0.85" fill="none"/>
<circle cx="225.98" cy="651.84" r="1.27" fill="#2b3c9b"/>
<circle cx="251.02" cy="651.84" r="1.27" fill="#2b3c9b"/>
<circle cx="269.80" cy="595.03" r="1.27" fill="#2b3c9b"/>
<circle cx="294.84" cy="597.22" r="1.27" fill="#2b3c9b"/>
<circle cx="313.62" cy="581.92" r="1.27" fill="#2b3c9b"/>
<circle cx="338.66" cy="577.55" r="1.27" fill="#2b3c9b"/>
<polyline points="225.98,595.03 251.02,583.38 269.80,579.74 294.84,581.19 313.62,581.92 338.66,582.65" fill="none" stroke="#000" stroke-width="1.9" stroke-linejoin="round" stroke-linecap="round"/>
<path d="M225.98 592.12V597.95M224.28 592.12h3.40M224.28 597.95h3.40" stroke="#000" stroke-width="0.85" fill="none"/>
<path d="M251.02 579.74V587.02M249.32 579.74h3.40M249.32 587.02h3.40" stroke="#000" stroke-width="0.85" fill="none"/>
<path d="M269.80 576.10V583.38M268.10 576.10h3.40M268.10 583.38h3.40" stroke="#000" stroke-width="0.85" fill="none"/>
<path d="M294.84 577.55V584.84M293.14 577.55h3.40M293.14 584.84h3.40" stroke="#000" stroke-width="0.85" fill="none"/>
<path d="M313.62 579.74V584.11M311.92 579.74h3.40M311.92 584.11h3.40" stroke="#000" stroke-width="0.85" fill="none"/>
<path d="M338.66 579.74V585.56M336.96 579.74h3.40M336.96 585.56h3.40" stroke="#000" stroke-width="0.85" fill="none"/>
<circle cx="225.98" cy="595.03" r="1.19" fill="#000"/>
<circle cx="251.02" cy="583.38" r="1.19" fill="#000"/>
<circle cx="269.80" cy="579.74" r="1.19" fill="#000"/>
<circle cx="294.84" cy="581.19" r="1.19" fill="#000"/>
<circle cx="313.62" cy="581.92" r="1.19" fill="#000"/>
<circle cx="338.66" cy="582.65" r="1.19" fill="#000"/>
<line x1="206.90" y1="564.08" x2="206.90" y2="653.90" stroke="#000" stroke-width="1.25"/>
<line x1="206.30" y1="653.30" x2="340.50" y2="653.30" stroke="#000" stroke-width="1.25"/>
<line x1="203.90" y1="653.30" x2="206.90" y2="653.30" stroke="#000" stroke-width="1.0"/>
<text x="203.60" y="655.60" font-size="6.4" font-weight="bold" fill="#111" text-anchor="end">0</text>
<line x1="203.90" y1="638.73" x2="206.90" y2="638.73" stroke="#000" stroke-width="1.0"/>
<text x="203.60" y="641.04" font-size="6.4" font-weight="bold" fill="#111" text-anchor="end">20</text>
<line x1="203.90" y1="624.17" x2="206.90" y2="624.17" stroke="#000" stroke-width="1.0"/>
<text x="203.60" y="626.47" font-size="6.4" font-weight="bold" fill="#111" text-anchor="end">40</text>
<line x1="203.90" y1="609.60" x2="206.90" y2="609.60" stroke="#000" stroke-width="1.0"/>
<text x="203.60" y="611.90" font-size="6.4" font-weight="bold" fill="#111" text-anchor="end">60</text>
<line x1="203.90" y1="595.03" x2="206.90" y2="595.03" stroke="#000" stroke-width="1.0"/>
<text x="203.60" y="597.34" font-size="6.4" font-weight="bold" fill="#111" text-anchor="end">80</text>
<line x1="203.90" y1="580.47" x2="206.90" y2="580.47" stroke="#000" stroke-width="1.0"/>
<text x="203.60" y="582.77" font-size="6.4" font-weight="bold" fill="#111" text-anchor="end">100</text>
<line x1="203.90" y1="565.90" x2="206.90" y2="565.90" stroke="#000" stroke-width="1.0"/>
<text x="203.60" y="568.20" font-size="6.4" font-weight="bold" fill="#111" text-anchor="end">120</text>
<line x1="207.20" y1="653.30" x2="207.20" y2="656.10" stroke="#000" stroke-width="1.0"/>
<text x="207.20" y="663.24" font-size="6.5" font-weight="bold" fill="#111" text-anchor="middle">0</text>
<line x1="225.98" y1="653.30" x2="225.98" y2="656.10" stroke="#000" stroke-width="1.0"/>
<text x="225.98" y="663.24" font-size="6.5" font-weight="bold" fill="#111" text-anchor="middle">3</text>
<line x1="244.76" y1="653.30" x2="244.76" y2="656.10" stroke="#000" stroke-width="1.0"/>
<text x="244.76" y="663.24" font-size="6.5" font-weight="bold" fill="#111" text-anchor="middle">6</text>
<line x1="263.54" y1="653.30" x2="263.54" y2="656.10" stroke="#000" stroke-width="1.0"/>
<text x="263.54" y="663.24" font-size="6.5" font-weight="bold" fill="#111" text-anchor="middle">9</text>
<line x1="282.32" y1="653.30" x2="282.32" y2="656.10" stroke="#000" stroke-width="1.0"/>
<text x="282.32" y="663.24" font-size="6.5" font-weight="bold" fill="#111" text-anchor="middle">12</text>
<line x1="301.10" y1="653.30" x2="301.10" y2="656.10" stroke="#000" stroke-width="1.0"/>
<text x="301.10" y="663.24" font-size="6.5" font-weight="bold" fill="#111" text-anchor="middle">15</text>
<line x1="319.88" y1="653.30" x2="319.88" y2="656.10" stroke="#000" stroke-width="1.0"/>
<text x="319.88" y="663.24" font-size="6.5" font-weight="bold" fill="#111" text-anchor="middle">18</text>
<line x1="338.66" y1="653.30" x2="338.66" y2="656.10" stroke="#000" stroke-width="1.0"/>
<text x="338.66" y="663.24" font-size="6.5" font-weight="bold" fill="#111" text-anchor="middle">21</text>
<text x="280.80" y="560.47" font-size="10.2" font-weight="bold" fill="#111" text-anchor="middle">ACHN</text>
<text x="272.20" y="674.32" font-size="7.0" font-weight="bold" fill="#111" text-anchor="middle">Days</text>
<text x="188.20" y="611.20" font-size="7.5" font-weight="bold" fill="#111" text-anchor="middle" transform="rotate(-90 188.20 608.50)">Target cell viability (%)</text>
<text x="209.80" y="610.22" font-size="5.05" font-weight="bold" fill="#d01f2e" text-anchor="start">CAR 17</text>
<text x="209.80" y="616.47" font-size="5.05" font-weight="bold" fill="#ee6a36" text-anchor="start">CAR 23</text>
<text x="209.80" y="622.72" font-size="5.05" font-weight="bold" fill="#1c8f50" text-anchor="start">CAR 1</text>
<text x="209.80" y="628.97" font-size="5.05" font-weight="bold" fill="#26348c" text-anchor="start">CAR 24</text>
<text x="209.80" y="635.22" font-size="5.05" font-weight="bold" fill="#111" text-anchor="start">NTD</text>
<text x="209.80" y="641.47" font-size="5.05" font-weight="bold" fill="#8b8d90" text-anchor="start">Additional CARs</text>
<polyline points="411.75,651.52 438.20,651.52 455.83,620.96 473.47,618.78 499.92,594.04" fill="none" stroke="#9d9fa2" stroke-width="1.9000000000000001" stroke-linejoin="round" stroke-linecap="round"/>
<rect x="410.23" y="650.00" width="3.04" height="3.04" fill="#9d9fa2"/>
<rect x="436.68" y="650.00" width="3.04" height="3.04" fill="#9d9fa2"/>
<rect x="454.31" y="619.44" width="3.04" height="3.04" fill="#9d9fa2"/>
<rect x="471.95" y="617.26" width="3.04" height="3.04" fill="#9d9fa2"/>
<rect x="498.40" y="592.52" width="3.04" height="3.04" fill="#9d9fa2"/>
<polyline points="411.75,652.97 438.20,652.97 455.83,644.97 473.47,635.51 499.92,601.32" fill="none" stroke="#9d9fa2" stroke-width="1.9000000000000001" stroke-linejoin="round" stroke-linecap="round"/>
<circle cx="411.75" cy="652.97" r="1.36" fill="#9d9fa2"/>
<circle cx="438.20" cy="652.97" r="1.36" fill="#9d9fa2"/>
<circle cx="455.83" cy="644.97" r="1.36" fill="#9d9fa2"/>
<circle cx="473.47" cy="635.51" r="1.36" fill="#9d9fa2"/>
<circle cx="499.92" cy="601.32" r="1.36" fill="#9d9fa2"/>
<polyline points="411.75,652.97 438.20,652.97 455.83,646.43 473.47,637.70 499.92,602.77" fill="none" stroke="#9d9fa2" stroke-width="1.9000000000000001" stroke-linejoin="round" stroke-linecap="round"/>
<circle cx="411.75" cy="652.97" r="1.36" fill="#9d9fa2"/>
<circle cx="438.20" cy="652.97" r="1.36" fill="#9d9fa2"/>
<circle cx="455.83" cy="646.43" r="1.36" fill="#9d9fa2"/>
<circle cx="473.47" cy="637.70" r="1.36" fill="#9d9fa2"/>
<circle cx="499.92" cy="602.77" r="1.36" fill="#9d9fa2"/>
<polyline points="411.75,652.97 438.20,652.97 455.83,647.88 473.47,640.61 499.92,604.23" fill="none" stroke="#9d9fa2" stroke-width="1.9000000000000001" stroke-linejoin="round" stroke-linecap="round"/>
<circle cx="411.75" cy="652.97" r="1.36" fill="#9d9fa2"/>
<circle cx="438.20" cy="652.97" r="1.36" fill="#9d9fa2"/>
<circle cx="455.83" cy="647.88" r="1.36" fill="#9d9fa2"/>
<circle cx="473.47" cy="640.61" r="1.36" fill="#9d9fa2"/>
<circle cx="499.92" cy="604.23" r="1.36" fill="#9d9fa2"/>
<polyline points="411.75,652.97 438.20,652.25 455.83,649.34 473.47,642.79 499.92,602.77" fill="none" stroke="#9d9fa2" stroke-width="1.9000000000000001" stroke-linejoin="round" stroke-linecap="round"/>
<circle cx="411.75" cy="652.97" r="1.36" fill="#9d9fa2"/>
<circle cx="438.20" cy="652.25" r="1.36" fill="#9d9fa2"/>
<circle cx="455.83" cy="649.34" r="1.36" fill="#9d9fa2"/>
<circle cx="473.47" cy="642.79" r="1.36" fill="#9d9fa2"/>
<circle cx="499.92" cy="602.77" r="1.36" fill="#9d9fa2"/>
<polyline points="411.75,652.97 438.20,652.97 455.83,650.06 473.47,644.97 499.92,605.69" fill="none" stroke="#9d9fa2" stroke-width="1.9000000000000001" stroke-linejoin="round" stroke-linecap="round"/>
<circle cx="411.75" cy="652.97" r="1.36" fill="#9d9fa2"/>
<circle cx="438.20" cy="652.97" r="1.36" fill="#9d9fa2"/>
<circle cx="455.83" cy="650.06" r="1.36" fill="#9d9fa2"/>
<circle cx="473.47" cy="644.97" r="1.36" fill="#9d9fa2"/>
<circle cx="499.92" cy="605.69" r="1.36" fill="#9d9fa2"/>
<polyline points="411.75,652.97 438.20,652.25 455.83,636.97 473.47,628.24 499.92,599.87" fill="none" stroke="#f26a30" stroke-width="2.45" stroke-linejoin="round" stroke-linecap="round"/>
<circle cx="411.75" cy="652.97" r="1.44" fill="#f26a30"/>
<circle cx="438.20" cy="652.25" r="1.44" fill="#f26a30"/>
<circle cx="455.83" cy="636.97" r="1.44" fill="#f26a30"/>
<circle cx="473.47" cy="628.24" r="1.44" fill="#f26a30"/>
<circle cx="499.92" cy="599.87" r="1.44" fill="#f26a30"/>
<polyline points="411.75,652.97 438.20,652.97 455.83,651.52 473.47,647.88 499.92,612.96" fill="none" stroke="#e5202e" stroke-width="2.25" stroke-linejoin="round" stroke-linecap="round"/>
<circle cx="411.75" cy="652.97" r="1.44" fill="#e5202e"/>
<circle cx="438.20" cy="652.97" r="1.44" fill="#e5202e"/>
<circle cx="455.83" cy="651.52" r="1.44" fill="#e5202e"/>
<circle cx="473.47" cy="647.88" r="1.44" fill="#e5202e"/>
<circle cx="499.92" cy="612.96" r="1.44" fill="#e5202e"/>
<polyline points="411.75,617.33 438.20,595.50 455.83,583.86 473.47,597.68 499.92,589.68" fill="none" stroke="#1d9e57" stroke-width="2.15" stroke-linejoin="round" stroke-linecap="round"/>
<path d="M473.47 595.50V599.87M471.77 595.50h3.40M471.77 599.87h3.40" stroke="#1d9e57" stroke-width="0.85" fill="none"/>
<circle cx="411.75" cy="617.33" r="1.44" fill="#1d9e57"/>
<circle cx="438.20" cy="595.50" r="1.44" fill="#1d9e57"/>
<circle cx="455.83" cy="583.86" r="1.44" fill="#1d9e57"/>
<circle cx="473.47" cy="597.68" r="1.44" fill="#1d9e57"/>
<circle cx="499.92" cy="589.68" r="1.44" fill="#1d9e57"/>
<polyline points="411.75,620.24 438.20,589.68 455.83,582.40 473.47,588.95 499.92,584.59" fill="none" stroke="#2b3c9b" stroke-width="2.15" stroke-linejoin="round" stroke-linecap="round"/>
<circle cx="411.75" cy="620.24" r="1.44" fill="#2b3c9b"/>
<circle cx="438.20" cy="589.68" r="1.44" fill="#2b3c9b"/>
<circle cx="455.83" cy="582.40" r="1.44" fill="#2b3c9b"/>
<circle cx="473.47" cy="588.95" r="1.44" fill="#2b3c9b"/>
<circle cx="499.92" cy="584.59" r="1.44" fill="#2b3c9b"/>
<polyline points="411.75,580.95 438.20,580.95 455.83,580.95 473.47,580.95 499.92,580.95" fill="none" stroke="#000" stroke-width="1.4" stroke-linejoin="round" stroke-linecap="round"/>
<circle cx="411.75" cy="580.95" r="1.44" fill="#000"/>
<circle cx="438.20" cy="580.95" r="1.44" fill="#000"/>
<circle cx="455.83" cy="580.95" r="1.44" fill="#000"/>
<circle cx="473.47" cy="580.95" r="1.44" fill="#000"/>
<circle cx="499.92" cy="580.95" r="1.44" fill="#000"/>
<line x1="384.70" y1="564.58" x2="384.70" y2="654.30" stroke="#000" stroke-width="1.25"/>
<line x1="384.10" y1="653.70" x2="519.00" y2="653.70" stroke="#000" stroke-width="1.25"/>
<line x1="381.70" y1="653.70" x2="384.70" y2="653.70" stroke="#000" stroke-width="1.0"/>
<text x="381.40" y="656.00" font-size="6.4" font-weight="bold" fill="#111" text-anchor="end">0</text>
<line x1="381.70" y1="639.15" x2="384.70" y2="639.15" stroke="#000" stroke-width="1.0"/>
<text x="381.40" y="641.45" font-size="6.4" font-weight="bold" fill="#111" text-anchor="end">20</text>
<line x1="381.70" y1="624.60" x2="384.70" y2="624.60" stroke="#000" stroke-width="1.0"/>
<text x="381.40" y="626.90" font-size="6.4" font-weight="bold" fill="#111" text-anchor="end">40</text>
<line x1="381.70" y1="610.05" x2="384.70" y2="610.05" stroke="#000" stroke-width="1.0"/>
<text x="381.40" y="612.35" font-size="6.4" font-weight="bold" fill="#111" text-anchor="end">60</text>
<line x1="381.70" y1="595.50" x2="384.70" y2="595.50" stroke="#000" stroke-width="1.0"/>
<text x="381.40" y="597.80" font-size="6.4" font-weight="bold" fill="#111" text-anchor="end">80</text>
<line x1="381.70" y1="580.95" x2="384.70" y2="580.95" stroke="#000" stroke-width="1.0"/>
<text x="381.40" y="583.25" font-size="6.4" font-weight="bold" fill="#111" text-anchor="end">100</text>
<line x1="381.70" y1="566.40" x2="384.70" y2="566.40" stroke="#000" stroke-width="1.0"/>
<text x="381.40" y="568.70" font-size="6.4" font-weight="bold" fill="#111" text-anchor="end">120</text>
<line x1="385.30" y1="653.70" x2="385.30" y2="656.50" stroke="#000" stroke-width="1.0"/>
<text x="385.30" y="663.54" font-size="6.5" font-weight="bold" fill="#111" text-anchor="middle">0</text>
<line x1="411.75" y1="653.70" x2="411.75" y2="656.50" stroke="#000" stroke-width="1.0"/>
<text x="411.75" y="663.54" font-size="6.5" font-weight="bold" fill="#111" text-anchor="middle">3</text>
<line x1="438.20" y1="653.70" x2="438.20" y2="656.50" stroke="#000" stroke-width="1.0"/>
<text x="438.20" y="663.54" font-size="6.5" font-weight="bold" fill="#111" text-anchor="middle">6</text>
<line x1="464.65" y1="653.70" x2="464.65" y2="656.50" stroke="#000" stroke-width="1.0"/>
<text x="464.65" y="663.54" font-size="6.5" font-weight="bold" fill="#111" text-anchor="middle">9</text>
<line x1="491.10" y1="653.70" x2="491.10" y2="656.50" stroke="#000" stroke-width="1.0"/>
<text x="491.10" y="663.54" font-size="6.5" font-weight="bold" fill="#111" text-anchor="middle">12</text>
<line x1="517.55" y1="653.70" x2="517.55" y2="656.50" stroke="#000" stroke-width="1.0"/>
<text x="517.55" y="663.54" font-size="6.5" font-weight="bold" fill="#111" text-anchor="middle">15</text>
<text x="457.70" y="560.47" font-size="10.2" font-weight="bold" fill="#111" text-anchor="middle">REH</text>
<text x="451.80" y="674.32" font-size="7.0" font-weight="bold" fill="#111" text-anchor="middle">Days</text>
<text x="366.50" y="611.20" font-size="7.5" font-weight="bold" fill="#111" text-anchor="middle" transform="rotate(-90 366.50 608.50)">Target cell viability (%)</text>
<text x="389.50" y="615.42" font-size="5.05" font-weight="bold" fill="#d01f2e" text-anchor="start">CAR 17</text>
<text x="389.50" y="621.72" font-size="5.05" font-weight="bold" fill="#ee6a36" text-anchor="start">CAR 23</text>
<text x="389.50" y="628.02" font-size="5.05" font-weight="bold" fill="#1c8f50" text-anchor="start">CAR 1</text>
<text x="389.50" y="634.32" font-size="5.05" font-weight="bold" fill="#26348c" text-anchor="start">CAR 24</text>
<text x="389.50" y="640.62" font-size="5.05" font-weight="bold" fill="#111" text-anchor="start">NTD</text>
<text x="389.50" y="646.92" font-size="5.05" font-weight="bold" fill="#8b8d90" text-anchor="start">Additional CARs</text>
</g>
</svg>
</body>
</html>
